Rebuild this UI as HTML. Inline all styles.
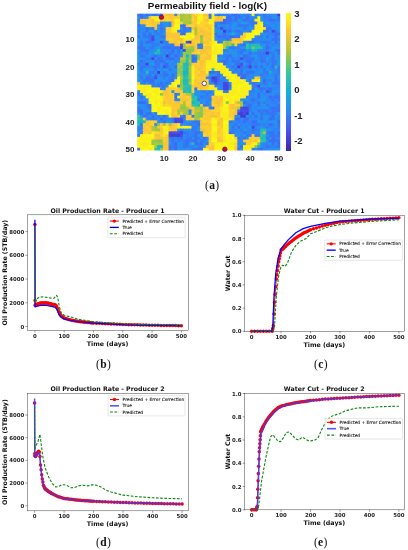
<!DOCTYPE html>
<html><head><meta charset="utf-8"><title>Figure</title>
<style>
html,body{margin:0;padding:0;background:#fff}
svg{display:block}
.tk{font:bold 5.4px "DejaVu Sans","Liberation Sans",sans-serif;fill:#222}
.ti{font:bold 6.25px "DejaVu Sans","Liberation Sans",sans-serif;fill:#111}
.xl{font:bold 6.3px "DejaVu Sans","Liberation Sans",sans-serif;fill:#111}
.lg{font:4.39px "DejaVu Sans","Liberation Sans",sans-serif;fill:#222;stroke:#222;stroke-width:0.1px}
.hk{font:bold 8.0px "Liberation Sans",sans-serif;fill:#222}
.ck{font:bold 9.5px "Liberation Sans",sans-serif;fill:#222}
.ht{font:bold 9.9px "Liberation Sans",sans-serif;fill:#111}
.cap{font:11.5px "Liberation Serif",serif;fill:#111;letter-spacing:0.35px}
.cap tspan{font-weight:bold}
</style></head><body>
<svg width="408" height="550" viewBox="0 0 408 550">
<rect width="408" height="550" fill="#fff"/>
<text x="207.4" y="8.9" class="ht" text-anchor="middle">Permeability field - log(K)</text>
<defs><filter id="bl" x="0" y="0" width="1" height="1"><feGaussianBlur stdDeviation="0.55"/></filter></defs>
<clipPath id="hc"><rect x="137.1" y="13.4" width="143.1" height="137.2"/></clipPath>
<g clip-path="url(#hc)"><g filter="url(#bl)">
<rect x="137.10" y="13.40" width="3.86" height="3.74" fill="#347af6"/>
<rect x="139.96" y="13.40" width="3.86" height="3.74" fill="#3871f6"/>
<rect x="142.82" y="13.40" width="3.86" height="3.74" fill="#2b8af4"/>
<rect x="145.69" y="13.40" width="3.86" height="3.74" fill="#3a6df6"/>
<rect x="148.55" y="13.40" width="3.86" height="3.74" fill="#2e85f7"/>
<rect x="151.41" y="13.40" width="3.86" height="3.74" fill="#337cf6"/>
<rect x="154.27" y="13.40" width="3.86" height="3.74" fill="#3b6df6"/>
<rect x="157.13" y="13.40" width="3.86" height="3.74" fill="#2f84f7"/>
<rect x="160.00" y="13.40" width="3.86" height="3.74" fill="#3b6bf6"/>
<rect x="162.86" y="13.40" width="3.86" height="3.74" fill="#fec636"/>
<rect x="165.72" y="13.40" width="3.86" height="3.74" fill="#f3c438"/>
<rect x="168.58" y="13.40" width="3.86" height="3.74" fill="#f4c438"/>
<rect x="171.44" y="13.40" width="3.86" height="3.74" fill="#fec636"/>
<rect x="174.31" y="13.40" width="3.86" height="3.74" fill="#2692ee"/>
<rect x="177.17" y="13.40" width="3.86" height="3.74" fill="#f6c438"/>
<rect x="180.03" y="13.40" width="3.86" height="3.74" fill="#8dc751"/>
<rect x="182.89" y="13.40" width="3.86" height="3.74" fill="#acc739"/>
<rect x="185.75" y="13.40" width="3.86" height="3.74" fill="#bdc639"/>
<rect x="188.62" y="13.40" width="3.86" height="3.74" fill="#a8c73b"/>
<rect x="191.48" y="13.40" width="3.86" height="3.74" fill="#fec537"/>
<rect x="194.34" y="13.40" width="3.86" height="3.74" fill="#fdd62c"/>
<rect x="197.20" y="13.40" width="3.86" height="3.74" fill="#fbe821"/>
<rect x="200.06" y="13.40" width="3.86" height="3.74" fill="#f9f816"/>
<rect x="202.93" y="13.40" width="3.86" height="3.74" fill="#fdc338"/>
<rect x="205.79" y="13.40" width="3.86" height="3.74" fill="#f6c438"/>
<rect x="208.65" y="13.40" width="3.86" height="3.74" fill="#3970f6"/>
<rect x="211.51" y="13.40" width="3.86" height="3.74" fill="#faed1d"/>
<rect x="214.37" y="13.40" width="3.86" height="3.74" fill="#2791ef"/>
<rect x="217.24" y="13.40" width="3.86" height="3.74" fill="#3773f6"/>
<rect x="220.10" y="13.40" width="3.86" height="3.74" fill="#2d88f6"/>
<rect x="222.96" y="13.40" width="3.86" height="3.74" fill="#2c8af5"/>
<rect x="225.82" y="13.40" width="3.86" height="3.74" fill="#337df6"/>
<rect x="228.68" y="13.40" width="3.86" height="3.74" fill="#2e86f7"/>
<rect x="231.55" y="13.40" width="3.86" height="3.74" fill="#3b6df6"/>
<rect x="234.41" y="13.40" width="3.86" height="3.74" fill="#3b6df6"/>
<rect x="237.27" y="13.40" width="3.86" height="3.74" fill="#3774f6"/>
<rect x="240.13" y="13.40" width="3.86" height="3.74" fill="#2a8cf3"/>
<rect x="242.99" y="13.40" width="3.86" height="3.74" fill="#3180f7"/>
<rect x="245.86" y="13.40" width="3.86" height="3.74" fill="#347af6"/>
<rect x="248.72" y="13.40" width="3.86" height="3.74" fill="#2d88f6"/>
<rect x="251.58" y="13.40" width="3.86" height="3.74" fill="#faf01c"/>
<rect x="254.44" y="13.40" width="3.86" height="3.74" fill="#3479f6"/>
<rect x="257.30" y="13.40" width="3.86" height="3.74" fill="#2790ef"/>
<rect x="260.17" y="13.40" width="3.86" height="3.74" fill="#2a8cf3"/>
<rect x="263.03" y="13.40" width="3.86" height="3.74" fill="#3676f6"/>
<rect x="265.89" y="13.40" width="3.86" height="3.74" fill="#2d87f7"/>
<rect x="268.75" y="13.40" width="3.86" height="3.74" fill="#2f85f7"/>
<rect x="271.61" y="13.40" width="3.86" height="3.74" fill="#2594ed"/>
<rect x="274.48" y="13.40" width="3.86" height="3.74" fill="#298ef2"/>
<rect x="277.34" y="13.40" width="3.86" height="3.74" fill="#4440d5"/>
<rect x="137.10" y="16.14" width="3.86" height="3.74" fill="#2298e9"/>
<rect x="139.96" y="16.14" width="3.86" height="3.74" fill="#3970f6"/>
<rect x="142.82" y="16.14" width="3.86" height="3.74" fill="#317ff7"/>
<rect x="145.69" y="16.14" width="3.86" height="3.74" fill="#288ff1"/>
<rect x="148.55" y="16.14" width="3.86" height="3.74" fill="#f7c438"/>
<rect x="151.41" y="16.14" width="3.86" height="3.74" fill="#faf11b"/>
<rect x="154.27" y="16.14" width="3.86" height="3.74" fill="#fbe721"/>
<rect x="157.13" y="16.14" width="3.86" height="3.74" fill="#faf419"/>
<rect x="160.00" y="16.14" width="3.86" height="3.74" fill="#fdd030"/>
<rect x="162.86" y="16.14" width="3.86" height="3.74" fill="#feca33"/>
<rect x="165.72" y="16.14" width="3.86" height="3.74" fill="#fdd32e"/>
<rect x="168.58" y="16.14" width="3.86" height="3.74" fill="#fec338"/>
<rect x="171.44" y="16.14" width="3.86" height="3.74" fill="#fdce31"/>
<rect x="174.31" y="16.14" width="3.86" height="3.74" fill="#fecb33"/>
<rect x="177.17" y="16.14" width="3.86" height="3.74" fill="#fecb33"/>
<rect x="180.03" y="16.14" width="3.86" height="3.74" fill="#9fc743"/>
<rect x="182.89" y="16.14" width="3.86" height="3.74" fill="#b7c639"/>
<rect x="185.75" y="16.14" width="3.86" height="3.74" fill="#bdc639"/>
<rect x="188.62" y="16.14" width="3.86" height="3.74" fill="#a0c742"/>
<rect x="191.48" y="16.14" width="3.86" height="3.74" fill="#fdcd32"/>
<rect x="194.34" y="16.14" width="3.86" height="3.74" fill="#f3c438"/>
<rect x="197.20" y="16.14" width="3.86" height="3.74" fill="#faf518"/>
<rect x="200.06" y="16.14" width="3.86" height="3.74" fill="#faf419"/>
<rect x="202.93" y="16.14" width="3.86" height="3.74" fill="#fcd72c"/>
<rect x="205.79" y="16.14" width="3.86" height="3.74" fill="#fdd22f"/>
<rect x="208.65" y="16.14" width="3.86" height="3.74" fill="#3578f6"/>
<rect x="211.51" y="16.14" width="3.86" height="3.74" fill="#faee1c"/>
<rect x="214.37" y="16.14" width="3.86" height="3.74" fill="#fdcd32"/>
<rect x="217.24" y="16.14" width="3.86" height="3.74" fill="#f1c438"/>
<rect x="220.10" y="16.14" width="3.86" height="3.74" fill="#fec736"/>
<rect x="222.96" y="16.14" width="3.86" height="3.74" fill="#fbea1f"/>
<rect x="225.82" y="16.14" width="3.86" height="3.74" fill="#3970f6"/>
<rect x="228.68" y="16.14" width="3.86" height="3.74" fill="#3b6df6"/>
<rect x="231.55" y="16.14" width="3.86" height="3.74" fill="#288ff0"/>
<rect x="234.41" y="16.14" width="3.86" height="3.74" fill="#3970f6"/>
<rect x="237.27" y="16.14" width="3.86" height="3.74" fill="#3676f6"/>
<rect x="240.13" y="16.14" width="3.86" height="3.74" fill="#327ef6"/>
<rect x="242.99" y="16.14" width="3.86" height="3.74" fill="#2594ed"/>
<rect x="245.86" y="16.14" width="3.86" height="3.74" fill="#3a6ef6"/>
<rect x="248.72" y="16.14" width="3.86" height="3.74" fill="#3181f7"/>
<rect x="251.58" y="16.14" width="3.86" height="3.74" fill="#2e86f7"/>
<rect x="254.44" y="16.14" width="3.86" height="3.74" fill="#2594ed"/>
<rect x="257.30" y="16.14" width="3.86" height="3.74" fill="#f9f717"/>
<rect x="260.17" y="16.14" width="3.86" height="3.74" fill="#2593ed"/>
<rect x="263.03" y="16.14" width="3.86" height="3.74" fill="#3578f6"/>
<rect x="265.89" y="16.14" width="3.86" height="3.74" fill="#317ff7"/>
<rect x="268.75" y="16.14" width="3.86" height="3.74" fill="#337cf6"/>
<rect x="271.61" y="16.14" width="3.86" height="3.74" fill="#2594ed"/>
<rect x="274.48" y="16.14" width="3.86" height="3.74" fill="#2397ea"/>
<rect x="277.34" y="16.14" width="3.86" height="3.74" fill="#3871f6"/>
<rect x="137.10" y="18.89" width="3.86" height="3.74" fill="#3873f6"/>
<rect x="139.96" y="18.89" width="3.86" height="3.74" fill="#fac338"/>
<rect x="142.82" y="18.89" width="3.86" height="3.74" fill="#fac338"/>
<rect x="145.69" y="18.89" width="3.86" height="3.74" fill="#fec835"/>
<rect x="148.55" y="18.89" width="3.86" height="3.74" fill="#fecb33"/>
<rect x="151.41" y="18.89" width="3.86" height="3.74" fill="#fcc338"/>
<rect x="154.27" y="18.89" width="3.86" height="3.74" fill="#fbe721"/>
<rect x="157.13" y="18.89" width="3.86" height="3.74" fill="#faef1c"/>
<rect x="160.00" y="18.89" width="3.86" height="3.74" fill="#fec537"/>
<rect x="162.86" y="18.89" width="3.86" height="3.74" fill="#feca34"/>
<rect x="165.72" y="18.89" width="3.86" height="3.74" fill="#fdd52c"/>
<rect x="168.58" y="18.89" width="3.86" height="3.74" fill="#fdce31"/>
<rect x="171.44" y="18.89" width="3.86" height="3.74" fill="#fec935"/>
<rect x="174.31" y="18.89" width="3.86" height="3.74" fill="#faf319"/>
<rect x="177.17" y="18.89" width="3.86" height="3.74" fill="#faf419"/>
<rect x="180.03" y="18.89" width="3.86" height="3.74" fill="#81c75b"/>
<rect x="182.89" y="18.89" width="3.86" height="3.74" fill="#bac639"/>
<rect x="185.75" y="18.89" width="3.86" height="3.74" fill="#b4c639"/>
<rect x="188.62" y="18.89" width="3.86" height="3.74" fill="#b9c639"/>
<rect x="191.48" y="18.89" width="3.86" height="3.74" fill="#fdd12f"/>
<rect x="194.34" y="18.89" width="3.86" height="3.74" fill="#fec537"/>
<rect x="197.20" y="18.89" width="3.86" height="3.74" fill="#faef1c"/>
<rect x="200.06" y="18.89" width="3.86" height="3.74" fill="#fbe920"/>
<rect x="202.93" y="18.89" width="3.86" height="3.74" fill="#fdcc32"/>
<rect x="205.79" y="18.89" width="3.86" height="3.74" fill="#f3c438"/>
<rect x="208.65" y="18.89" width="3.86" height="3.74" fill="#fbe821"/>
<rect x="211.51" y="18.89" width="3.86" height="3.74" fill="#fbeb1f"/>
<rect x="214.37" y="18.89" width="3.86" height="3.74" fill="#f7c438"/>
<rect x="217.24" y="18.89" width="3.86" height="3.74" fill="#fec438"/>
<rect x="220.10" y="18.89" width="3.86" height="3.74" fill="#f3c438"/>
<rect x="222.96" y="18.89" width="3.86" height="3.74" fill="#3c6af5"/>
<rect x="225.82" y="18.89" width="3.86" height="3.74" fill="#3871f6"/>
<rect x="228.68" y="18.89" width="3.86" height="3.74" fill="#3a6ff6"/>
<rect x="231.55" y="18.89" width="3.86" height="3.74" fill="#337cf6"/>
<rect x="234.41" y="18.89" width="3.86" height="3.74" fill="#3b6bf5"/>
<rect x="237.27" y="18.89" width="3.86" height="3.74" fill="#2594ed"/>
<rect x="240.13" y="18.89" width="3.86" height="3.74" fill="#2c89f5"/>
<rect x="242.99" y="18.89" width="3.86" height="3.74" fill="#3871f6"/>
<rect x="245.86" y="18.89" width="3.86" height="3.74" fill="#3677f6"/>
<rect x="248.72" y="18.89" width="3.86" height="3.74" fill="#337cf6"/>
<rect x="251.58" y="18.89" width="3.86" height="3.74" fill="#337cf6"/>
<rect x="254.44" y="18.89" width="3.86" height="3.74" fill="#fbe920"/>
<rect x="257.30" y="18.89" width="3.86" height="3.74" fill="#f9f816"/>
<rect x="260.17" y="18.89" width="3.86" height="3.74" fill="#2299e9"/>
<rect x="263.03" y="18.89" width="3.86" height="3.74" fill="#3082f7"/>
<rect x="265.89" y="18.89" width="3.86" height="3.74" fill="#3083f7"/>
<rect x="268.75" y="18.89" width="3.86" height="3.74" fill="#3a6ef6"/>
<rect x="271.61" y="18.89" width="3.86" height="3.74" fill="#396ff6"/>
<rect x="274.48" y="18.89" width="3.86" height="3.74" fill="#337bf6"/>
<rect x="277.34" y="18.89" width="3.86" height="3.74" fill="#3577f6"/>
<rect x="137.10" y="21.63" width="3.86" height="3.74" fill="#2692ee"/>
<rect x="139.96" y="21.63" width="3.86" height="3.74" fill="#f7c438"/>
<rect x="142.82" y="21.63" width="3.86" height="3.74" fill="#f1c438"/>
<rect x="145.69" y="21.63" width="3.86" height="3.74" fill="#fdd52d"/>
<rect x="148.55" y="21.63" width="3.86" height="3.74" fill="#fec934"/>
<rect x="151.41" y="21.63" width="3.86" height="3.74" fill="#f7c438"/>
<rect x="154.27" y="21.63" width="3.86" height="3.74" fill="#feca34"/>
<rect x="157.13" y="21.63" width="3.86" height="3.74" fill="#f1c438"/>
<rect x="160.00" y="21.63" width="3.86" height="3.74" fill="#2f85f7"/>
<rect x="162.86" y="21.63" width="3.86" height="3.74" fill="#2298ea"/>
<rect x="165.72" y="21.63" width="3.86" height="3.74" fill="#2593ed"/>
<rect x="168.58" y="21.63" width="3.86" height="3.74" fill="#2a8cf3"/>
<rect x="171.44" y="21.63" width="3.86" height="3.74" fill="#fbc338"/>
<rect x="174.31" y="21.63" width="3.86" height="3.74" fill="#faee1d"/>
<rect x="177.17" y="21.63" width="3.86" height="3.74" fill="#fbea1f"/>
<rect x="180.03" y="21.63" width="3.86" height="3.74" fill="#fdd030"/>
<rect x="182.89" y="21.63" width="3.86" height="3.74" fill="#a5c73e"/>
<rect x="185.75" y="21.63" width="3.86" height="3.74" fill="#b4c639"/>
<rect x="188.62" y="21.63" width="3.86" height="3.74" fill="#95c74b"/>
<rect x="191.48" y="21.63" width="3.86" height="3.74" fill="#fac338"/>
<rect x="194.34" y="21.63" width="3.86" height="3.74" fill="#fdd12f"/>
<rect x="197.20" y="21.63" width="3.86" height="3.74" fill="#f9fb15"/>
<rect x="200.06" y="21.63" width="3.86" height="3.74" fill="#fdd32e"/>
<rect x="202.93" y="21.63" width="3.86" height="3.74" fill="#fdd12f"/>
<rect x="205.79" y="21.63" width="3.86" height="3.74" fill="#fdd22f"/>
<rect x="208.65" y="21.63" width="3.86" height="3.74" fill="#faf618"/>
<rect x="211.51" y="21.63" width="3.86" height="3.74" fill="#fbeb1f"/>
<rect x="214.37" y="21.63" width="3.86" height="3.74" fill="#2f84f7"/>
<rect x="217.24" y="21.63" width="3.86" height="3.74" fill="#337cf6"/>
<rect x="220.10" y="21.63" width="3.86" height="3.74" fill="#3b6bf5"/>
<rect x="222.96" y="21.63" width="3.86" height="3.74" fill="#3b6bf5"/>
<rect x="225.82" y="21.63" width="3.86" height="3.74" fill="#3578f6"/>
<rect x="228.68" y="21.63" width="3.86" height="3.74" fill="#3577f6"/>
<rect x="231.55" y="21.63" width="3.86" height="3.74" fill="#2a8cf3"/>
<rect x="234.41" y="21.63" width="3.86" height="3.74" fill="#2397ea"/>
<rect x="237.27" y="21.63" width="3.86" height="3.74" fill="#3181f7"/>
<rect x="240.13" y="21.63" width="3.86" height="3.74" fill="#2396eb"/>
<rect x="242.99" y="21.63" width="3.86" height="3.74" fill="#2299e9"/>
<rect x="245.86" y="21.63" width="3.86" height="3.74" fill="#2397ea"/>
<rect x="248.72" y="21.63" width="3.86" height="3.74" fill="#337cf6"/>
<rect x="251.58" y="21.63" width="3.86" height="3.74" fill="#3675f6"/>
<rect x="254.44" y="21.63" width="3.86" height="3.74" fill="#3675f6"/>
<rect x="257.30" y="21.63" width="3.86" height="3.74" fill="#fbeb1f"/>
<rect x="260.17" y="21.63" width="3.86" height="3.74" fill="#fbeb1f"/>
<rect x="263.03" y="21.63" width="3.86" height="3.74" fill="#2c89f5"/>
<rect x="265.89" y="21.63" width="3.86" height="3.74" fill="#2495ec"/>
<rect x="268.75" y="21.63" width="3.86" height="3.74" fill="#2692ee"/>
<rect x="271.61" y="21.63" width="3.86" height="3.74" fill="#3082f7"/>
<rect x="274.48" y="21.63" width="3.86" height="3.74" fill="#2b8bf4"/>
<rect x="277.34" y="21.63" width="3.86" height="3.74" fill="#2791ef"/>
<rect x="137.10" y="24.38" width="3.86" height="3.74" fill="#3a6ef6"/>
<rect x="139.96" y="24.38" width="3.86" height="3.74" fill="#2b8bf4"/>
<rect x="142.82" y="24.38" width="3.86" height="3.74" fill="#2495ec"/>
<rect x="145.69" y="24.38" width="3.86" height="3.74" fill="#fdd130"/>
<rect x="148.55" y="24.38" width="3.86" height="3.74" fill="#fdd030"/>
<rect x="151.41" y="24.38" width="3.86" height="3.74" fill="#fec835"/>
<rect x="154.27" y="24.38" width="3.86" height="3.74" fill="#f8c438"/>
<rect x="157.13" y="24.38" width="3.86" height="3.74" fill="#2790f0"/>
<rect x="160.00" y="24.38" width="3.86" height="3.74" fill="#347bf6"/>
<rect x="162.86" y="24.38" width="3.86" height="3.74" fill="#2791ef"/>
<rect x="165.72" y="24.38" width="3.86" height="3.74" fill="#2298ea"/>
<rect x="168.58" y="24.38" width="3.86" height="3.74" fill="#327ef6"/>
<rect x="171.44" y="24.38" width="3.86" height="3.74" fill="#fec637"/>
<rect x="174.31" y="24.38" width="3.86" height="3.74" fill="#f9fa15"/>
<rect x="177.17" y="24.38" width="3.86" height="3.74" fill="#faf518"/>
<rect x="180.03" y="24.38" width="3.86" height="3.74" fill="#3872f6"/>
<rect x="182.89" y="24.38" width="3.86" height="3.74" fill="#3970f6"/>
<rect x="185.75" y="24.38" width="3.86" height="3.74" fill="#f7c438"/>
<rect x="188.62" y="24.38" width="3.86" height="3.74" fill="#fdd42d"/>
<rect x="191.48" y="24.38" width="3.86" height="3.74" fill="#fdd12f"/>
<rect x="194.34" y="24.38" width="3.86" height="3.74" fill="#f7c438"/>
<rect x="197.20" y="24.38" width="3.86" height="3.74" fill="#fdd22f"/>
<rect x="200.06" y="24.38" width="3.86" height="3.74" fill="#fcd62c"/>
<rect x="202.93" y="24.38" width="3.86" height="3.74" fill="#fdcd32"/>
<rect x="205.79" y="24.38" width="3.86" height="3.74" fill="#fec438"/>
<rect x="208.65" y="24.38" width="3.86" height="3.74" fill="#feca34"/>
<rect x="211.51" y="24.38" width="3.86" height="3.74" fill="#fbe920"/>
<rect x="214.37" y="24.38" width="3.86" height="3.74" fill="#3c6af5"/>
<rect x="217.24" y="24.38" width="3.86" height="3.74" fill="#2298ea"/>
<rect x="220.10" y="24.38" width="3.86" height="3.74" fill="#2b8af4"/>
<rect x="222.96" y="24.38" width="3.86" height="3.74" fill="#2f85f7"/>
<rect x="225.82" y="24.38" width="3.86" height="3.74" fill="#2396eb"/>
<rect x="228.68" y="24.38" width="3.86" height="3.74" fill="#3180f7"/>
<rect x="231.55" y="24.38" width="3.86" height="3.74" fill="#2594ed"/>
<rect x="234.41" y="24.38" width="3.86" height="3.74" fill="#2692ee"/>
<rect x="237.27" y="24.38" width="3.86" height="3.74" fill="#3774f6"/>
<rect x="240.13" y="24.38" width="3.86" height="3.74" fill="#3677f6"/>
<rect x="242.99" y="24.38" width="3.86" height="3.74" fill="#3579f6"/>
<rect x="245.86" y="24.38" width="3.86" height="3.74" fill="#3676f6"/>
<rect x="248.72" y="24.38" width="3.86" height="3.74" fill="#2d88f6"/>
<rect x="251.58" y="24.38" width="3.86" height="3.74" fill="#3577f6"/>
<rect x="254.44" y="24.38" width="3.86" height="3.74" fill="#faef1c"/>
<rect x="257.30" y="24.38" width="3.86" height="3.74" fill="#fbe920"/>
<rect x="260.17" y="24.38" width="3.86" height="3.74" fill="#f9f916"/>
<rect x="263.03" y="24.38" width="3.86" height="3.74" fill="#337cf6"/>
<rect x="265.89" y="24.38" width="3.86" height="3.74" fill="#3081f7"/>
<rect x="268.75" y="24.38" width="3.86" height="3.74" fill="#2d88f6"/>
<rect x="271.61" y="24.38" width="3.86" height="3.74" fill="#2495ec"/>
<rect x="274.48" y="24.38" width="3.86" height="3.74" fill="#317ff7"/>
<rect x="277.34" y="24.38" width="3.86" height="3.74" fill="#2496eb"/>
<rect x="137.10" y="27.12" width="3.86" height="3.74" fill="#2f84f7"/>
<rect x="139.96" y="27.12" width="3.86" height="3.74" fill="#2e85f7"/>
<rect x="142.82" y="27.12" width="3.86" height="3.74" fill="#2f85f7"/>
<rect x="145.69" y="27.12" width="3.86" height="3.74" fill="#3c6af5"/>
<rect x="148.55" y="27.12" width="3.86" height="3.74" fill="#3180f7"/>
<rect x="151.41" y="27.12" width="3.86" height="3.74" fill="#3773f6"/>
<rect x="154.27" y="27.12" width="3.86" height="3.74" fill="#f0c438"/>
<rect x="157.13" y="27.12" width="3.86" height="3.74" fill="#2791ef"/>
<rect x="160.00" y="27.12" width="3.86" height="3.74" fill="#3872f6"/>
<rect x="162.86" y="27.12" width="3.86" height="3.74" fill="#3082f7"/>
<rect x="165.72" y="27.12" width="3.86" height="3.74" fill="#fdcf31"/>
<rect x="168.58" y="27.12" width="3.86" height="3.74" fill="#feca34"/>
<rect x="171.44" y="27.12" width="3.86" height="3.74" fill="#faed1d"/>
<rect x="174.31" y="27.12" width="3.86" height="3.74" fill="#faf11b"/>
<rect x="177.17" y="27.12" width="3.86" height="3.74" fill="#faf21a"/>
<rect x="180.03" y="27.12" width="3.86" height="3.74" fill="#2890f0"/>
<rect x="182.89" y="27.12" width="3.86" height="3.74" fill="#396ff6"/>
<rect x="185.75" y="27.12" width="3.86" height="3.74" fill="#2e87f7"/>
<rect x="188.62" y="27.12" width="3.86" height="3.74" fill="#3676f6"/>
<rect x="191.48" y="27.12" width="3.86" height="3.74" fill="#fcc338"/>
<rect x="194.34" y="27.12" width="3.86" height="3.74" fill="#b4c639"/>
<rect x="197.20" y="27.12" width="3.86" height="3.74" fill="#fec935"/>
<rect x="200.06" y="27.12" width="3.86" height="3.74" fill="#feca34"/>
<rect x="202.93" y="27.12" width="3.86" height="3.74" fill="#fdd030"/>
<rect x="205.79" y="27.12" width="3.86" height="3.74" fill="#fdd42d"/>
<rect x="208.65" y="27.12" width="3.86" height="3.74" fill="#fec736"/>
<rect x="211.51" y="27.12" width="3.86" height="3.74" fill="#faf31a"/>
<rect x="214.37" y="27.12" width="3.86" height="3.74" fill="#2f84f7"/>
<rect x="217.24" y="27.12" width="3.86" height="3.74" fill="#2f84f7"/>
<rect x="220.10" y="27.12" width="3.86" height="3.74" fill="#464ae5"/>
<rect x="222.96" y="27.12" width="3.86" height="3.74" fill="#3081f7"/>
<rect x="225.82" y="27.12" width="3.86" height="3.74" fill="#2e85f7"/>
<rect x="228.68" y="27.12" width="3.86" height="3.74" fill="#3082f7"/>
<rect x="231.55" y="27.12" width="3.86" height="3.74" fill="#2397eb"/>
<rect x="234.41" y="27.12" width="3.86" height="3.74" fill="#2a8cf3"/>
<rect x="237.27" y="27.12" width="3.86" height="3.74" fill="#2594ed"/>
<rect x="240.13" y="27.12" width="3.86" height="3.74" fill="#2397eb"/>
<rect x="242.99" y="27.12" width="3.86" height="3.74" fill="#3577f6"/>
<rect x="245.86" y="27.12" width="3.86" height="3.74" fill="#2e87f7"/>
<rect x="248.72" y="27.12" width="3.86" height="3.74" fill="#2397eb"/>
<rect x="251.58" y="27.12" width="3.86" height="3.74" fill="#2692ee"/>
<rect x="254.44" y="27.12" width="3.86" height="3.74" fill="#fbe920"/>
<rect x="257.30" y="27.12" width="3.86" height="3.74" fill="#fbe920"/>
<rect x="260.17" y="27.12" width="3.86" height="3.74" fill="#faf01c"/>
<rect x="263.03" y="27.12" width="3.86" height="3.74" fill="#fbe821"/>
<rect x="265.89" y="27.12" width="3.86" height="3.74" fill="#3676f6"/>
<rect x="268.75" y="27.12" width="3.86" height="3.74" fill="#3a6df6"/>
<rect x="271.61" y="27.12" width="3.86" height="3.74" fill="#2b8bf4"/>
<rect x="274.48" y="27.12" width="3.86" height="3.74" fill="#2890f0"/>
<rect x="277.34" y="27.12" width="3.86" height="3.74" fill="#2495ec"/>
<rect x="137.10" y="29.86" width="3.86" height="3.74" fill="#3872f6"/>
<rect x="139.96" y="29.86" width="3.86" height="3.74" fill="#298df2"/>
<rect x="142.82" y="29.86" width="3.86" height="3.74" fill="#2b8bf4"/>
<rect x="145.69" y="29.86" width="3.86" height="3.74" fill="#3871f6"/>
<rect x="148.55" y="29.86" width="3.86" height="3.74" fill="#2594ed"/>
<rect x="151.41" y="29.86" width="3.86" height="3.74" fill="#2298ea"/>
<rect x="154.27" y="29.86" width="3.86" height="3.74" fill="#3675f6"/>
<rect x="157.13" y="29.86" width="3.86" height="3.74" fill="#2397ea"/>
<rect x="160.00" y="29.86" width="3.86" height="3.74" fill="#327ef6"/>
<rect x="162.86" y="29.86" width="3.86" height="3.74" fill="#3083f7"/>
<rect x="165.72" y="29.86" width="3.86" height="3.74" fill="#fcd72c"/>
<rect x="168.58" y="29.86" width="3.86" height="3.74" fill="#fdd22f"/>
<rect x="171.44" y="29.86" width="3.86" height="3.74" fill="#fbea1f"/>
<rect x="174.31" y="29.86" width="3.86" height="3.74" fill="#faef1c"/>
<rect x="177.17" y="29.86" width="3.86" height="3.74" fill="#2f84f7"/>
<rect x="180.03" y="29.86" width="3.86" height="3.74" fill="#337bf6"/>
<rect x="182.89" y="29.86" width="3.86" height="3.74" fill="#3774f6"/>
<rect x="185.75" y="29.86" width="3.86" height="3.74" fill="#347af6"/>
<rect x="188.62" y="29.86" width="3.86" height="3.74" fill="#298df2"/>
<rect x="191.48" y="29.86" width="3.86" height="3.74" fill="#fbe721"/>
<rect x="194.34" y="29.86" width="3.86" height="3.74" fill="#a6c73d"/>
<rect x="197.20" y="29.86" width="3.86" height="3.74" fill="#fec736"/>
<rect x="200.06" y="29.86" width="3.86" height="3.74" fill="#f1c438"/>
<rect x="202.93" y="29.86" width="3.86" height="3.74" fill="#fec338"/>
<rect x="205.79" y="29.86" width="3.86" height="3.74" fill="#fdcc33"/>
<rect x="208.65" y="29.86" width="3.86" height="3.74" fill="#fec935"/>
<rect x="211.51" y="29.86" width="3.86" height="3.74" fill="#fbe821"/>
<rect x="214.37" y="29.86" width="3.86" height="3.74" fill="#2298e9"/>
<rect x="217.24" y="29.86" width="3.86" height="3.74" fill="#2790f0"/>
<rect x="220.10" y="29.86" width="3.86" height="3.74" fill="#2298ea"/>
<rect x="222.96" y="29.86" width="3.86" height="3.74" fill="#433cce"/>
<rect x="225.82" y="29.86" width="3.86" height="3.74" fill="#3577f6"/>
<rect x="228.68" y="29.86" width="3.86" height="3.74" fill="#3b6cf6"/>
<rect x="231.55" y="29.86" width="3.86" height="3.74" fill="#2890f0"/>
<rect x="234.41" y="29.86" width="3.86" height="3.74" fill="#3578f6"/>
<rect x="237.27" y="29.86" width="3.86" height="3.74" fill="#3970f6"/>
<rect x="240.13" y="29.86" width="3.86" height="3.74" fill="#317ff7"/>
<rect x="242.99" y="29.86" width="3.86" height="3.74" fill="#2495ec"/>
<rect x="245.86" y="29.86" width="3.86" height="3.74" fill="#2791ef"/>
<rect x="248.72" y="29.86" width="3.86" height="3.74" fill="#3577f6"/>
<rect x="251.58" y="29.86" width="3.86" height="3.74" fill="#fbea20"/>
<rect x="254.44" y="29.86" width="3.86" height="3.74" fill="#f9f916"/>
<rect x="257.30" y="29.86" width="3.86" height="3.74" fill="#faf21a"/>
<rect x="260.17" y="29.86" width="3.86" height="3.74" fill="#faf518"/>
<rect x="263.03" y="29.86" width="3.86" height="3.74" fill="#3a6ef6"/>
<rect x="265.89" y="29.86" width="3.86" height="3.74" fill="#3b6df6"/>
<rect x="268.75" y="29.86" width="3.86" height="3.74" fill="#2a8cf3"/>
<rect x="271.61" y="29.86" width="3.86" height="3.74" fill="#4443db"/>
<rect x="274.48" y="29.86" width="3.86" height="3.74" fill="#3a6df6"/>
<rect x="277.34" y="29.86" width="3.86" height="3.74" fill="#2396eb"/>
<rect x="137.10" y="32.61" width="3.86" height="3.74" fill="#2c8af5"/>
<rect x="139.96" y="32.61" width="3.86" height="3.74" fill="#2791ef"/>
<rect x="142.82" y="32.61" width="3.86" height="3.74" fill="#3a6ef6"/>
<rect x="145.69" y="32.61" width="3.86" height="3.74" fill="#2693ed"/>
<rect x="148.55" y="32.61" width="3.86" height="3.74" fill="#3a6df6"/>
<rect x="151.41" y="32.61" width="3.86" height="3.74" fill="#2593ed"/>
<rect x="154.27" y="32.61" width="3.86" height="3.74" fill="#3081f7"/>
<rect x="157.13" y="32.61" width="3.86" height="3.74" fill="#337bf6"/>
<rect x="160.00" y="32.61" width="3.86" height="3.74" fill="#2e86f7"/>
<rect x="162.86" y="32.61" width="3.86" height="3.74" fill="#2496eb"/>
<rect x="165.72" y="32.61" width="3.86" height="3.74" fill="#fcc338"/>
<rect x="168.58" y="32.61" width="3.86" height="3.74" fill="#f6c438"/>
<rect x="171.44" y="32.61" width="3.86" height="3.74" fill="#fec934"/>
<rect x="174.31" y="32.61" width="3.86" height="3.74" fill="#fbc338"/>
<rect x="177.17" y="32.61" width="3.86" height="3.74" fill="#f5c438"/>
<rect x="180.03" y="32.61" width="3.86" height="3.74" fill="#3872f6"/>
<rect x="182.89" y="32.61" width="3.86" height="3.74" fill="#3b6cf6"/>
<rect x="185.75" y="32.61" width="3.86" height="3.74" fill="#fbeb1f"/>
<rect x="188.62" y="32.61" width="3.86" height="3.74" fill="#faed1d"/>
<rect x="191.48" y="32.61" width="3.86" height="3.74" fill="#faed1e"/>
<rect x="194.34" y="32.61" width="3.86" height="3.74" fill="#b3c639"/>
<rect x="197.20" y="32.61" width="3.86" height="3.74" fill="#fdc338"/>
<rect x="200.06" y="32.61" width="3.86" height="3.74" fill="#fec835"/>
<rect x="202.93" y="32.61" width="3.86" height="3.74" fill="#f8c438"/>
<rect x="205.79" y="32.61" width="3.86" height="3.74" fill="#fec438"/>
<rect x="208.65" y="32.61" width="3.86" height="3.74" fill="#f1c438"/>
<rect x="211.51" y="32.61" width="3.86" height="3.74" fill="#fbec1e"/>
<rect x="214.37" y="32.61" width="3.86" height="3.74" fill="#3c6af5"/>
<rect x="217.24" y="32.61" width="3.86" height="3.74" fill="#298ef1"/>
<rect x="220.10" y="32.61" width="3.86" height="3.74" fill="#2e86f7"/>
<rect x="222.96" y="32.61" width="3.86" height="3.74" fill="#3773f6"/>
<rect x="225.82" y="32.61" width="3.86" height="3.74" fill="#3082f7"/>
<rect x="228.68" y="32.61" width="3.86" height="3.74" fill="#2396eb"/>
<rect x="231.55" y="32.61" width="3.86" height="3.74" fill="#19b5ca"/>
<rect x="234.41" y="32.61" width="3.86" height="3.74" fill="#2791ef"/>
<rect x="237.27" y="32.61" width="3.86" height="3.74" fill="#3180f7"/>
<rect x="240.13" y="32.61" width="3.86" height="3.74" fill="#2f83f7"/>
<rect x="242.99" y="32.61" width="3.86" height="3.74" fill="#fdd22f"/>
<rect x="245.86" y="32.61" width="3.86" height="3.74" fill="#faef1c"/>
<rect x="248.72" y="32.61" width="3.86" height="3.74" fill="#faf11b"/>
<rect x="251.58" y="32.61" width="3.86" height="3.74" fill="#faf519"/>
<rect x="254.44" y="32.61" width="3.86" height="3.74" fill="#f9fb15"/>
<rect x="257.30" y="32.61" width="3.86" height="3.74" fill="#faee1d"/>
<rect x="260.17" y="32.61" width="3.86" height="3.74" fill="#2692ee"/>
<rect x="263.03" y="32.61" width="3.86" height="3.74" fill="#2a8df2"/>
<rect x="265.89" y="32.61" width="3.86" height="3.74" fill="#2c8af5"/>
<rect x="268.75" y="32.61" width="3.86" height="3.74" fill="#327ff6"/>
<rect x="271.61" y="32.61" width="3.86" height="3.74" fill="#337cf6"/>
<rect x="274.48" y="32.61" width="3.86" height="3.74" fill="#3b6cf6"/>
<rect x="277.34" y="32.61" width="3.86" height="3.74" fill="#3970f6"/>
<rect x="137.10" y="35.35" width="3.86" height="3.74" fill="#3a6df6"/>
<rect x="139.96" y="35.35" width="3.86" height="3.74" fill="#298ef1"/>
<rect x="142.82" y="35.35" width="3.86" height="3.74" fill="#3677f6"/>
<rect x="145.69" y="35.35" width="3.86" height="3.74" fill="#3872f6"/>
<rect x="148.55" y="35.35" width="3.86" height="3.74" fill="#3a6ef6"/>
<rect x="151.41" y="35.35" width="3.86" height="3.74" fill="#464deb"/>
<rect x="154.27" y="35.35" width="3.86" height="3.74" fill="#2594ed"/>
<rect x="157.13" y="35.35" width="3.86" height="3.74" fill="#2b8bf3"/>
<rect x="160.00" y="35.35" width="3.86" height="3.74" fill="#3578f6"/>
<rect x="162.86" y="35.35" width="3.86" height="3.74" fill="#3676f6"/>
<rect x="165.72" y="35.35" width="3.86" height="3.74" fill="#fdc338"/>
<rect x="168.58" y="35.35" width="3.86" height="3.74" fill="#fec736"/>
<rect x="171.44" y="35.35" width="3.86" height="3.74" fill="#f7c438"/>
<rect x="174.31" y="35.35" width="3.86" height="3.74" fill="#fec736"/>
<rect x="177.17" y="35.35" width="3.86" height="3.74" fill="#fcc338"/>
<rect x="180.03" y="35.35" width="3.86" height="3.74" fill="#f9fa15"/>
<rect x="182.89" y="35.35" width="3.86" height="3.74" fill="#f9fa15"/>
<rect x="185.75" y="35.35" width="3.86" height="3.74" fill="#faf21a"/>
<rect x="188.62" y="35.35" width="3.86" height="3.74" fill="#fbec1e"/>
<rect x="191.48" y="35.35" width="3.86" height="3.74" fill="#f9fa15"/>
<rect x="194.34" y="35.35" width="3.86" height="3.74" fill="#fec338"/>
<rect x="197.20" y="35.35" width="3.86" height="3.74" fill="#fec437"/>
<rect x="200.06" y="35.35" width="3.86" height="3.74" fill="#7dc75f"/>
<rect x="202.93" y="35.35" width="3.86" height="3.74" fill="#fec537"/>
<rect x="205.79" y="35.35" width="3.86" height="3.74" fill="#fec835"/>
<rect x="208.65" y="35.35" width="3.86" height="3.74" fill="#fec835"/>
<rect x="211.51" y="35.35" width="3.86" height="3.74" fill="#fbeb1f"/>
<rect x="214.37" y="35.35" width="3.86" height="3.74" fill="#2f84f7"/>
<rect x="217.24" y="35.35" width="3.86" height="3.74" fill="#3c6af5"/>
<rect x="220.10" y="35.35" width="3.86" height="3.74" fill="#3577f6"/>
<rect x="222.96" y="35.35" width="3.86" height="3.74" fill="#3a6ef6"/>
<rect x="225.82" y="35.35" width="3.86" height="3.74" fill="#327ef6"/>
<rect x="228.68" y="35.35" width="3.86" height="3.74" fill="#3b6cf6"/>
<rect x="231.55" y="35.35" width="3.86" height="3.74" fill="#3c6bf5"/>
<rect x="234.41" y="35.35" width="3.86" height="3.74" fill="#3479f6"/>
<rect x="237.27" y="35.35" width="3.86" height="3.74" fill="#3676f6"/>
<rect x="240.13" y="35.35" width="3.86" height="3.74" fill="#fecb33"/>
<rect x="242.99" y="35.35" width="3.86" height="3.74" fill="#fec934"/>
<rect x="245.86" y="35.35" width="3.86" height="3.74" fill="#faf618"/>
<rect x="248.72" y="35.35" width="3.86" height="3.74" fill="#faf419"/>
<rect x="251.58" y="35.35" width="3.86" height="3.74" fill="#faf518"/>
<rect x="254.44" y="35.35" width="3.86" height="3.74" fill="#2594ed"/>
<rect x="257.30" y="35.35" width="3.86" height="3.74" fill="#327ef6"/>
<rect x="260.17" y="35.35" width="3.86" height="3.74" fill="#347af6"/>
<rect x="263.03" y="35.35" width="3.86" height="3.74" fill="#2298e9"/>
<rect x="265.89" y="35.35" width="3.86" height="3.74" fill="#3871f6"/>
<rect x="268.75" y="35.35" width="3.86" height="3.74" fill="#298df2"/>
<rect x="271.61" y="35.35" width="3.86" height="3.74" fill="#2b8af4"/>
<rect x="274.48" y="35.35" width="3.86" height="3.74" fill="#3b6cf6"/>
<rect x="277.34" y="35.35" width="3.86" height="3.74" fill="#2692ee"/>
<rect x="137.10" y="38.10" width="3.86" height="3.74" fill="#2594ec"/>
<rect x="139.96" y="38.10" width="3.86" height="3.74" fill="#2c89f5"/>
<rect x="142.82" y="38.10" width="3.86" height="3.74" fill="#298ef1"/>
<rect x="145.69" y="38.10" width="3.86" height="3.74" fill="#2791ef"/>
<rect x="148.55" y="38.10" width="3.86" height="3.74" fill="#3971f6"/>
<rect x="151.41" y="38.10" width="3.86" height="3.74" fill="#4546df"/>
<rect x="154.27" y="38.10" width="3.86" height="3.74" fill="#2f84f7"/>
<rect x="157.13" y="38.10" width="3.86" height="3.74" fill="#2692ee"/>
<rect x="160.00" y="38.10" width="3.86" height="3.74" fill="#2791ef"/>
<rect x="162.86" y="38.10" width="3.86" height="3.74" fill="#2692ee"/>
<rect x="165.72" y="38.10" width="3.86" height="3.74" fill="#fecb33"/>
<rect x="168.58" y="38.10" width="3.86" height="3.74" fill="#fdd42e"/>
<rect x="171.44" y="38.10" width="3.86" height="3.74" fill="#fdce31"/>
<rect x="174.31" y="38.10" width="3.86" height="3.74" fill="#fdce31"/>
<rect x="177.17" y="38.10" width="3.86" height="3.74" fill="#fac338"/>
<rect x="180.03" y="38.10" width="3.86" height="3.74" fill="#f2c438"/>
<rect x="182.89" y="38.10" width="3.86" height="3.74" fill="#fbe920"/>
<rect x="185.75" y="38.10" width="3.86" height="3.74" fill="#faee1d"/>
<rect x="188.62" y="38.10" width="3.86" height="3.74" fill="#fbe920"/>
<rect x="191.48" y="38.10" width="3.86" height="3.74" fill="#fdd22f"/>
<rect x="194.34" y="38.10" width="3.86" height="3.74" fill="#feca34"/>
<rect x="197.20" y="38.10" width="3.86" height="3.74" fill="#fdcc32"/>
<rect x="200.06" y="38.10" width="3.86" height="3.74" fill="#acc739"/>
<rect x="202.93" y="38.10" width="3.86" height="3.74" fill="#fdce32"/>
<rect x="205.79" y="38.10" width="3.86" height="3.74" fill="#fec835"/>
<rect x="208.65" y="38.10" width="3.86" height="3.74" fill="#f0c438"/>
<rect x="211.51" y="38.10" width="3.86" height="3.74" fill="#f9f717"/>
<rect x="214.37" y="38.10" width="3.86" height="3.74" fill="#298ef1"/>
<rect x="217.24" y="38.10" width="3.86" height="3.74" fill="#2f84f7"/>
<rect x="220.10" y="38.10" width="3.86" height="3.74" fill="#2e85f7"/>
<rect x="222.96" y="38.10" width="3.86" height="3.74" fill="#2b8bf4"/>
<rect x="225.82" y="38.10" width="3.86" height="3.74" fill="#3a6df6"/>
<rect x="228.68" y="38.10" width="3.86" height="3.74" fill="#298ef1"/>
<rect x="231.55" y="38.10" width="3.86" height="3.74" fill="#fbc338"/>
<rect x="234.41" y="38.10" width="3.86" height="3.74" fill="#f3c438"/>
<rect x="237.27" y="38.10" width="3.86" height="3.74" fill="#fcc338"/>
<rect x="240.13" y="38.10" width="3.86" height="3.74" fill="#fdcf31"/>
<rect x="242.99" y="38.10" width="3.86" height="3.74" fill="#fbeb1f"/>
<rect x="245.86" y="38.10" width="3.86" height="3.74" fill="#faf618"/>
<rect x="248.72" y="38.10" width="3.86" height="3.74" fill="#f9fa15"/>
<rect x="251.58" y="38.10" width="3.86" height="3.74" fill="#2f83f7"/>
<rect x="254.44" y="38.10" width="3.86" height="3.74" fill="#327df6"/>
<rect x="257.30" y="38.10" width="3.86" height="3.74" fill="#3082f7"/>
<rect x="260.17" y="38.10" width="3.86" height="3.74" fill="#2a8cf3"/>
<rect x="263.03" y="38.10" width="3.86" height="3.74" fill="#288ff0"/>
<rect x="265.89" y="38.10" width="3.86" height="3.74" fill="#2c89f5"/>
<rect x="268.75" y="38.10" width="3.86" height="3.74" fill="#2b8af4"/>
<rect x="271.61" y="38.10" width="3.86" height="3.74" fill="#3a6ef6"/>
<rect x="274.48" y="38.10" width="3.86" height="3.74" fill="#3871f6"/>
<rect x="277.34" y="38.10" width="3.86" height="3.74" fill="#3677f6"/>
<rect x="137.10" y="40.84" width="3.86" height="3.74" fill="#298ef1"/>
<rect x="139.96" y="40.84" width="3.86" height="3.74" fill="#3479f6"/>
<rect x="142.82" y="40.84" width="3.86" height="3.74" fill="#2d87f7"/>
<rect x="145.69" y="40.84" width="3.86" height="3.74" fill="#3c6af5"/>
<rect x="148.55" y="40.84" width="3.86" height="3.74" fill="#3b6df6"/>
<rect x="151.41" y="40.84" width="3.86" height="3.74" fill="#3577f6"/>
<rect x="154.27" y="40.84" width="3.86" height="3.74" fill="#2b8bf3"/>
<rect x="157.13" y="40.84" width="3.86" height="3.74" fill="#2a8cf3"/>
<rect x="160.00" y="40.84" width="3.86" height="3.74" fill="#4649e5"/>
<rect x="162.86" y="40.84" width="3.86" height="3.74" fill="#3579f6"/>
<rect x="165.72" y="40.84" width="3.86" height="3.74" fill="#2f84f7"/>
<rect x="168.58" y="40.84" width="3.86" height="3.74" fill="#fec735"/>
<rect x="171.44" y="40.84" width="3.86" height="3.74" fill="#fec735"/>
<rect x="174.31" y="40.84" width="3.86" height="3.74" fill="#f5c438"/>
<rect x="177.17" y="40.84" width="3.86" height="3.74" fill="#fdd42e"/>
<rect x="180.03" y="40.84" width="3.86" height="3.74" fill="#f9c438"/>
<rect x="182.89" y="40.84" width="3.86" height="3.74" fill="#fcd62c"/>
<rect x="185.75" y="40.84" width="3.86" height="3.74" fill="#474fef"/>
<rect x="188.62" y="40.84" width="3.86" height="3.74" fill="#423acb"/>
<rect x="191.48" y="40.84" width="3.86" height="3.74" fill="#fec736"/>
<rect x="194.34" y="40.84" width="3.86" height="3.74" fill="#fdd22f"/>
<rect x="197.20" y="40.84" width="3.86" height="3.74" fill="#fdd62c"/>
<rect x="200.06" y="40.84" width="3.86" height="3.74" fill="#9ec743"/>
<rect x="202.93" y="40.84" width="3.86" height="3.74" fill="#fcc338"/>
<rect x="205.79" y="40.84" width="3.86" height="3.74" fill="#f9c438"/>
<rect x="208.65" y="40.84" width="3.86" height="3.74" fill="#fdd52d"/>
<rect x="211.51" y="40.84" width="3.86" height="3.74" fill="#fbeb1f"/>
<rect x="214.37" y="40.84" width="3.86" height="3.74" fill="#faf21a"/>
<rect x="217.24" y="40.84" width="3.86" height="3.74" fill="#3871f6"/>
<rect x="220.10" y="40.84" width="3.86" height="3.74" fill="#2f85f7"/>
<rect x="222.96" y="40.84" width="3.86" height="3.74" fill="#bdc639"/>
<rect x="225.82" y="40.84" width="3.86" height="3.74" fill="#87c757"/>
<rect x="228.68" y="40.84" width="3.86" height="3.74" fill="#b6c639"/>
<rect x="231.55" y="40.84" width="3.86" height="3.74" fill="#fec935"/>
<rect x="234.41" y="40.84" width="3.86" height="3.74" fill="#fdd42e"/>
<rect x="237.27" y="40.84" width="3.86" height="3.74" fill="#fdce31"/>
<rect x="240.13" y="40.84" width="3.86" height="3.74" fill="#fac338"/>
<rect x="242.99" y="40.84" width="3.86" height="3.74" fill="#2495ec"/>
<rect x="245.86" y="40.84" width="3.86" height="3.74" fill="#3083f7"/>
<rect x="248.72" y="40.84" width="3.86" height="3.74" fill="#3b6bf5"/>
<rect x="251.58" y="40.84" width="3.86" height="3.74" fill="#3c6af5"/>
<rect x="254.44" y="40.84" width="3.86" height="3.74" fill="#2f83f7"/>
<rect x="257.30" y="40.84" width="3.86" height="3.74" fill="#3181f7"/>
<rect x="260.17" y="40.84" width="3.86" height="3.74" fill="#3479f6"/>
<rect x="263.03" y="40.84" width="3.86" height="3.74" fill="#3871f6"/>
<rect x="265.89" y="40.84" width="3.86" height="3.74" fill="#337bf6"/>
<rect x="268.75" y="40.84" width="3.86" height="3.74" fill="#347af6"/>
<rect x="271.61" y="40.84" width="3.86" height="3.74" fill="#2692ee"/>
<rect x="274.48" y="40.84" width="3.86" height="3.74" fill="#3c6af5"/>
<rect x="277.34" y="40.84" width="3.86" height="3.74" fill="#288ff1"/>
<rect x="137.10" y="43.58" width="3.86" height="3.74" fill="#2692ee"/>
<rect x="139.96" y="43.58" width="3.86" height="3.74" fill="#3970f6"/>
<rect x="142.82" y="43.58" width="3.86" height="3.74" fill="#2496eb"/>
<rect x="145.69" y="43.58" width="3.86" height="3.74" fill="#298df2"/>
<rect x="148.55" y="43.58" width="3.86" height="3.74" fill="#2495ec"/>
<rect x="151.41" y="43.58" width="3.86" height="3.74" fill="#3579f6"/>
<rect x="154.27" y="43.58" width="3.86" height="3.74" fill="#337df6"/>
<rect x="157.13" y="43.58" width="3.86" height="3.74" fill="#327ef6"/>
<rect x="160.00" y="43.58" width="3.86" height="3.74" fill="#2299e9"/>
<rect x="162.86" y="43.58" width="3.86" height="3.74" fill="#2d88f6"/>
<rect x="165.72" y="43.58" width="3.86" height="3.74" fill="#337cf6"/>
<rect x="168.58" y="43.58" width="3.86" height="3.74" fill="#3180f7"/>
<rect x="171.44" y="43.58" width="3.86" height="3.74" fill="#3578f6"/>
<rect x="174.31" y="43.58" width="3.86" height="3.74" fill="#f2c438"/>
<rect x="177.17" y="43.58" width="3.86" height="3.74" fill="#f5c438"/>
<rect x="180.03" y="43.58" width="3.86" height="3.74" fill="#464deb"/>
<rect x="182.89" y="43.58" width="3.86" height="3.74" fill="#92c74d"/>
<rect x="185.75" y="43.58" width="3.86" height="3.74" fill="#fdd52d"/>
<rect x="188.62" y="43.58" width="3.86" height="3.74" fill="#fbc338"/>
<rect x="191.48" y="43.58" width="3.86" height="3.74" fill="#fcc338"/>
<rect x="194.34" y="43.58" width="3.86" height="3.74" fill="#fec935"/>
<rect x="197.20" y="43.58" width="3.86" height="3.74" fill="#3773f6"/>
<rect x="200.06" y="43.58" width="3.86" height="3.74" fill="#337df6"/>
<rect x="202.93" y="43.58" width="3.86" height="3.74" fill="#fdd62c"/>
<rect x="205.79" y="43.58" width="3.86" height="3.74" fill="#fdd32e"/>
<rect x="208.65" y="43.58" width="3.86" height="3.74" fill="#fdd12f"/>
<rect x="211.51" y="43.58" width="3.86" height="3.74" fill="#faf319"/>
<rect x="214.37" y="43.58" width="3.86" height="3.74" fill="#f9f916"/>
<rect x="217.24" y="43.58" width="3.86" height="3.74" fill="#f9fa15"/>
<rect x="220.10" y="43.58" width="3.86" height="3.74" fill="#faf21a"/>
<rect x="222.96" y="43.58" width="3.86" height="3.74" fill="#b1c739"/>
<rect x="225.82" y="43.58" width="3.86" height="3.74" fill="#80c75c"/>
<rect x="228.68" y="43.58" width="3.86" height="3.74" fill="#b1c639"/>
<rect x="231.55" y="43.58" width="3.86" height="3.74" fill="#23bcb9"/>
<rect x="234.41" y="43.58" width="3.86" height="3.74" fill="#fdd030"/>
<rect x="237.27" y="43.58" width="3.86" height="3.74" fill="#2b8af4"/>
<rect x="240.13" y="43.58" width="3.86" height="3.74" fill="#3578f6"/>
<rect x="242.99" y="43.58" width="3.86" height="3.74" fill="#3b6cf6"/>
<rect x="245.86" y="43.58" width="3.86" height="3.74" fill="#31c4a2"/>
<rect x="248.72" y="43.58" width="3.86" height="3.74" fill="#19b6c9"/>
<rect x="251.58" y="43.58" width="3.86" height="3.74" fill="#23bcb8"/>
<rect x="254.44" y="43.58" width="3.86" height="3.74" fill="#20babf"/>
<rect x="257.30" y="43.58" width="3.86" height="3.74" fill="#1eb9c1"/>
<rect x="260.17" y="43.58" width="3.86" height="3.74" fill="#298ef1"/>
<rect x="263.03" y="43.58" width="3.86" height="3.74" fill="#2298ea"/>
<rect x="265.89" y="43.58" width="3.86" height="3.74" fill="#3577f6"/>
<rect x="268.75" y="43.58" width="3.86" height="3.74" fill="#2b8bf4"/>
<rect x="271.61" y="43.58" width="3.86" height="3.74" fill="#3479f6"/>
<rect x="274.48" y="43.58" width="3.86" height="3.74" fill="#2e86f7"/>
<rect x="277.34" y="43.58" width="3.86" height="3.74" fill="#327ef6"/>
<rect x="137.10" y="46.33" width="3.86" height="3.74" fill="#3872f6"/>
<rect x="139.96" y="46.33" width="3.86" height="3.74" fill="#3872f6"/>
<rect x="142.82" y="46.33" width="3.86" height="3.74" fill="#3774f6"/>
<rect x="145.69" y="46.33" width="3.86" height="3.74" fill="#2495ec"/>
<rect x="148.55" y="46.33" width="3.86" height="3.74" fill="#2f83f7"/>
<rect x="151.41" y="46.33" width="3.86" height="3.74" fill="#3675f6"/>
<rect x="154.27" y="46.33" width="3.86" height="3.74" fill="#2495ec"/>
<rect x="157.13" y="46.33" width="3.86" height="3.74" fill="#2299e9"/>
<rect x="160.00" y="46.33" width="3.86" height="3.74" fill="#3181f7"/>
<rect x="162.86" y="46.33" width="3.86" height="3.74" fill="#3971f6"/>
<rect x="165.72" y="46.33" width="3.86" height="3.74" fill="#3774f6"/>
<rect x="168.58" y="46.33" width="3.86" height="3.74" fill="#3a6ef6"/>
<rect x="171.44" y="46.33" width="3.86" height="3.74" fill="#337bf6"/>
<rect x="174.31" y="46.33" width="3.86" height="3.74" fill="#3a6ef6"/>
<rect x="177.17" y="46.33" width="3.86" height="3.74" fill="#3676f6"/>
<rect x="180.03" y="46.33" width="3.86" height="3.74" fill="#4340d4"/>
<rect x="182.89" y="46.33" width="3.86" height="3.74" fill="#a8c73c"/>
<rect x="185.75" y="46.33" width="3.86" height="3.74" fill="#bac639"/>
<rect x="188.62" y="46.33" width="3.86" height="3.74" fill="#b2c639"/>
<rect x="191.48" y="46.33" width="3.86" height="3.74" fill="#9cc745"/>
<rect x="194.34" y="46.33" width="3.86" height="3.74" fill="#fec636"/>
<rect x="197.20" y="46.33" width="3.86" height="3.74" fill="#2f85f7"/>
<rect x="200.06" y="46.33" width="3.86" height="3.74" fill="#327df6"/>
<rect x="202.93" y="46.33" width="3.86" height="3.74" fill="#fec438"/>
<rect x="205.79" y="46.33" width="3.86" height="3.74" fill="#f3c438"/>
<rect x="208.65" y="46.33" width="3.86" height="3.74" fill="#fcc338"/>
<rect x="211.51" y="46.33" width="3.86" height="3.74" fill="#f9fa15"/>
<rect x="214.37" y="46.33" width="3.86" height="3.74" fill="#fbe920"/>
<rect x="217.24" y="46.33" width="3.86" height="3.74" fill="#faf11b"/>
<rect x="220.10" y="46.33" width="3.86" height="3.74" fill="#faf319"/>
<rect x="222.96" y="46.33" width="3.86" height="3.74" fill="#b8c639"/>
<rect x="225.82" y="46.33" width="3.86" height="3.74" fill="#1cb7c5"/>
<rect x="228.68" y="46.33" width="3.86" height="3.74" fill="#3578f6"/>
<rect x="231.55" y="46.33" width="3.86" height="3.74" fill="#3676f6"/>
<rect x="234.41" y="46.33" width="3.86" height="3.74" fill="#327ef6"/>
<rect x="237.27" y="46.33" width="3.86" height="3.74" fill="#3181f7"/>
<rect x="240.13" y="46.33" width="3.86" height="3.74" fill="#2397ea"/>
<rect x="242.99" y="46.33" width="3.86" height="3.74" fill="#2693ee"/>
<rect x="245.86" y="46.33" width="3.86" height="3.74" fill="#2fc3a5"/>
<rect x="248.72" y="46.33" width="3.86" height="3.74" fill="#16b4ce"/>
<rect x="251.58" y="46.33" width="3.86" height="3.74" fill="#7fc75d"/>
<rect x="254.44" y="46.33" width="3.86" height="3.74" fill="#2ac0ad"/>
<rect x="257.30" y="46.33" width="3.86" height="3.74" fill="#30c3a4"/>
<rect x="260.17" y="46.33" width="3.86" height="3.74" fill="#23bcb8"/>
<rect x="263.03" y="46.33" width="3.86" height="3.74" fill="#2d88f6"/>
<rect x="265.89" y="46.33" width="3.86" height="3.74" fill="#3c6af5"/>
<rect x="268.75" y="46.33" width="3.86" height="3.74" fill="#327ef6"/>
<rect x="271.61" y="46.33" width="3.86" height="3.74" fill="#2496eb"/>
<rect x="274.48" y="46.33" width="3.86" height="3.74" fill="#2692ee"/>
<rect x="277.34" y="46.33" width="3.86" height="3.74" fill="#2693ee"/>
<rect x="137.10" y="49.07" width="3.86" height="3.74" fill="#2298ea"/>
<rect x="139.96" y="49.07" width="3.86" height="3.74" fill="#3676f6"/>
<rect x="142.82" y="49.07" width="3.86" height="3.74" fill="#396ff6"/>
<rect x="145.69" y="49.07" width="3.86" height="3.74" fill="#3872f6"/>
<rect x="148.55" y="49.07" width="3.86" height="3.74" fill="#2f85f7"/>
<rect x="151.41" y="49.07" width="3.86" height="3.74" fill="#2a8cf3"/>
<rect x="154.27" y="49.07" width="3.86" height="3.74" fill="#2397eb"/>
<rect x="157.13" y="49.07" width="3.86" height="3.74" fill="#2bc0ac"/>
<rect x="160.00" y="49.07" width="3.86" height="3.74" fill="#2b8af4"/>
<rect x="162.86" y="49.07" width="3.86" height="3.74" fill="#288ff0"/>
<rect x="165.72" y="49.07" width="3.86" height="3.74" fill="#3081f7"/>
<rect x="168.58" y="49.07" width="3.86" height="3.74" fill="#2e86f7"/>
<rect x="171.44" y="49.07" width="3.86" height="3.74" fill="#3b6cf6"/>
<rect x="174.31" y="49.07" width="3.86" height="3.74" fill="#2890f0"/>
<rect x="177.17" y="49.07" width="3.86" height="3.74" fill="#3676f6"/>
<rect x="180.03" y="49.07" width="3.86" height="3.74" fill="#2496eb"/>
<rect x="182.89" y="49.07" width="3.86" height="3.74" fill="#4549e3"/>
<rect x="185.75" y="49.07" width="3.86" height="3.74" fill="#93c74c"/>
<rect x="188.62" y="49.07" width="3.86" height="3.74" fill="#86c757"/>
<rect x="191.48" y="49.07" width="3.86" height="3.74" fill="#90c74f"/>
<rect x="194.34" y="49.07" width="3.86" height="3.74" fill="#fdcc32"/>
<rect x="197.20" y="49.07" width="3.86" height="3.74" fill="#fdce31"/>
<rect x="200.06" y="49.07" width="3.86" height="3.74" fill="#f5c438"/>
<rect x="202.93" y="49.07" width="3.86" height="3.74" fill="#f3c438"/>
<rect x="205.79" y="49.07" width="3.86" height="3.74" fill="#fec934"/>
<rect x="208.65" y="49.07" width="3.86" height="3.74" fill="#fecb33"/>
<rect x="211.51" y="49.07" width="3.86" height="3.74" fill="#faef1c"/>
<rect x="214.37" y="49.07" width="3.86" height="3.74" fill="#fbeb1f"/>
<rect x="217.24" y="49.07" width="3.86" height="3.74" fill="#faf31a"/>
<rect x="220.10" y="49.07" width="3.86" height="3.74" fill="#fbe721"/>
<rect x="222.96" y="49.07" width="3.86" height="3.74" fill="#3479f6"/>
<rect x="225.82" y="49.07" width="3.86" height="3.74" fill="#3081f7"/>
<rect x="228.68" y="49.07" width="3.86" height="3.74" fill="#2397ea"/>
<rect x="231.55" y="49.07" width="3.86" height="3.74" fill="#2b8af4"/>
<rect x="234.41" y="49.07" width="3.86" height="3.74" fill="#2594ed"/>
<rect x="237.27" y="49.07" width="3.86" height="3.74" fill="#3082f7"/>
<rect x="240.13" y="49.07" width="3.86" height="3.74" fill="#3676f6"/>
<rect x="242.99" y="49.07" width="3.86" height="3.74" fill="#3676f6"/>
<rect x="245.86" y="49.07" width="3.86" height="3.74" fill="#2397ea"/>
<rect x="248.72" y="49.07" width="3.86" height="3.74" fill="#2a8df2"/>
<rect x="251.58" y="49.07" width="3.86" height="3.74" fill="#1eb9c0"/>
<rect x="254.44" y="49.07" width="3.86" height="3.74" fill="#16b4ce"/>
<rect x="257.30" y="49.07" width="3.86" height="3.74" fill="#2f83f7"/>
<rect x="260.17" y="49.07" width="3.86" height="3.74" fill="#2b8bf3"/>
<rect x="263.03" y="49.07" width="3.86" height="3.74" fill="#317ff7"/>
<rect x="265.89" y="49.07" width="3.86" height="3.74" fill="#3577f6"/>
<rect x="268.75" y="49.07" width="3.86" height="3.74" fill="#2b8bf4"/>
<rect x="271.61" y="49.07" width="3.86" height="3.74" fill="#2496eb"/>
<rect x="274.48" y="49.07" width="3.86" height="3.74" fill="#3675f6"/>
<rect x="277.34" y="49.07" width="3.86" height="3.74" fill="#3b6bf6"/>
<rect x="137.10" y="51.82" width="3.86" height="3.74" fill="#337bf6"/>
<rect x="139.96" y="51.82" width="3.86" height="3.74" fill="#317ff7"/>
<rect x="142.82" y="51.82" width="3.86" height="3.74" fill="#2a8cf3"/>
<rect x="145.69" y="51.82" width="3.86" height="3.74" fill="#3774f6"/>
<rect x="148.55" y="51.82" width="3.86" height="3.74" fill="#2791ef"/>
<rect x="151.41" y="51.82" width="3.86" height="3.74" fill="#298ef1"/>
<rect x="154.27" y="51.82" width="3.86" height="3.74" fill="#24bdb7"/>
<rect x="157.13" y="51.82" width="3.86" height="3.74" fill="#1bb7c5"/>
<rect x="160.00" y="51.82" width="3.86" height="3.74" fill="#2298ea"/>
<rect x="162.86" y="51.82" width="3.86" height="3.74" fill="#347af6"/>
<rect x="165.72" y="51.82" width="3.86" height="3.74" fill="#2791ef"/>
<rect x="168.58" y="51.82" width="3.86" height="3.74" fill="#3675f6"/>
<rect x="171.44" y="51.82" width="3.86" height="3.74" fill="#3675f6"/>
<rect x="174.31" y="51.82" width="3.86" height="3.74" fill="#288ff1"/>
<rect x="177.17" y="51.82" width="3.86" height="3.74" fill="#3579f6"/>
<rect x="180.03" y="51.82" width="3.86" height="3.74" fill="#2397ea"/>
<rect x="182.89" y="51.82" width="3.86" height="3.74" fill="#a2c740"/>
<rect x="185.75" y="51.82" width="3.86" height="3.74" fill="#8bc753"/>
<rect x="188.62" y="51.82" width="3.86" height="3.74" fill="#8dc751"/>
<rect x="191.48" y="51.82" width="3.86" height="3.74" fill="#fec636"/>
<rect x="194.34" y="51.82" width="3.86" height="3.74" fill="#fdcd32"/>
<rect x="197.20" y="51.82" width="3.86" height="3.74" fill="#fdd52d"/>
<rect x="200.06" y="51.82" width="3.86" height="3.74" fill="#f7c438"/>
<rect x="202.93" y="51.82" width="3.86" height="3.74" fill="#fec537"/>
<rect x="205.79" y="51.82" width="3.86" height="3.74" fill="#f9c438"/>
<rect x="208.65" y="51.82" width="3.86" height="3.74" fill="#fdd62c"/>
<rect x="211.51" y="51.82" width="3.86" height="3.74" fill="#fbea20"/>
<rect x="214.37" y="51.82" width="3.86" height="3.74" fill="#fbe821"/>
<rect x="217.24" y="51.82" width="3.86" height="3.74" fill="#fbe821"/>
<rect x="220.10" y="51.82" width="3.86" height="3.74" fill="#faef1c"/>
<rect x="222.96" y="51.82" width="3.86" height="3.74" fill="#2495ec"/>
<rect x="225.82" y="51.82" width="3.86" height="3.74" fill="#2594ed"/>
<rect x="228.68" y="51.82" width="3.86" height="3.74" fill="#298ef1"/>
<rect x="231.55" y="51.82" width="3.86" height="3.74" fill="#2299e9"/>
<rect x="234.41" y="51.82" width="3.86" height="3.74" fill="#2396eb"/>
<rect x="237.27" y="51.82" width="3.86" height="3.74" fill="#347bf6"/>
<rect x="240.13" y="51.82" width="3.86" height="3.74" fill="#3773f6"/>
<rect x="242.99" y="51.82" width="3.86" height="3.74" fill="#2396eb"/>
<rect x="245.86" y="51.82" width="3.86" height="3.74" fill="#298ef1"/>
<rect x="248.72" y="51.82" width="3.86" height="3.74" fill="#3b6bf6"/>
<rect x="251.58" y="51.82" width="3.86" height="3.74" fill="#2b8bf4"/>
<rect x="254.44" y="51.82" width="3.86" height="3.74" fill="#327df6"/>
<rect x="257.30" y="51.82" width="3.86" height="3.74" fill="#327df6"/>
<rect x="260.17" y="51.82" width="3.86" height="3.74" fill="#347bf6"/>
<rect x="263.03" y="51.82" width="3.86" height="3.74" fill="#3872f6"/>
<rect x="265.89" y="51.82" width="3.86" height="3.74" fill="#423aca"/>
<rect x="268.75" y="51.82" width="3.86" height="3.74" fill="#3578f6"/>
<rect x="271.61" y="51.82" width="3.86" height="3.74" fill="#337cf6"/>
<rect x="274.48" y="51.82" width="3.86" height="3.74" fill="#2397ea"/>
<rect x="277.34" y="51.82" width="3.86" height="3.74" fill="#3970f6"/>
<rect x="137.10" y="54.56" width="3.86" height="3.74" fill="#2398ea"/>
<rect x="139.96" y="54.56" width="3.86" height="3.74" fill="#3774f6"/>
<rect x="142.82" y="54.56" width="3.86" height="3.74" fill="#337cf6"/>
<rect x="145.69" y="54.56" width="3.86" height="3.74" fill="#2692ef"/>
<rect x="148.55" y="54.56" width="3.86" height="3.74" fill="#2692ef"/>
<rect x="151.41" y="54.56" width="3.86" height="3.74" fill="#3180f7"/>
<rect x="154.27" y="54.56" width="3.86" height="3.74" fill="#3b6cf6"/>
<rect x="157.13" y="54.56" width="3.86" height="3.74" fill="#3082f7"/>
<rect x="160.00" y="54.56" width="3.86" height="3.74" fill="#337df6"/>
<rect x="162.86" y="54.56" width="3.86" height="3.74" fill="#2496eb"/>
<rect x="165.72" y="54.56" width="3.86" height="3.74" fill="#433ed1"/>
<rect x="168.58" y="54.56" width="3.86" height="3.74" fill="#337cf6"/>
<rect x="171.44" y="54.56" width="3.86" height="3.74" fill="#2495ec"/>
<rect x="174.31" y="54.56" width="3.86" height="3.74" fill="#3b6bf6"/>
<rect x="177.17" y="54.56" width="3.86" height="3.74" fill="#327ff6"/>
<rect x="180.03" y="54.56" width="3.86" height="3.74" fill="#2791ef"/>
<rect x="182.89" y="54.56" width="3.86" height="3.74" fill="#b3c639"/>
<rect x="185.75" y="54.56" width="3.86" height="3.74" fill="#17b4ce"/>
<rect x="188.62" y="54.56" width="3.86" height="3.74" fill="#7fc75d"/>
<rect x="191.48" y="54.56" width="3.86" height="3.74" fill="#3b6df6"/>
<rect x="194.34" y="54.56" width="3.86" height="3.74" fill="#2496eb"/>
<rect x="197.20" y="54.56" width="3.86" height="3.74" fill="#90c74f"/>
<rect x="200.06" y="54.56" width="3.86" height="3.74" fill="#fdcf30"/>
<rect x="202.93" y="54.56" width="3.86" height="3.74" fill="#fdd42d"/>
<rect x="205.79" y="54.56" width="3.86" height="3.74" fill="#fec438"/>
<rect x="208.65" y="54.56" width="3.86" height="3.74" fill="#fcc338"/>
<rect x="211.51" y="54.56" width="3.86" height="3.74" fill="#f9fa15"/>
<rect x="214.37" y="54.56" width="3.86" height="3.74" fill="#faf319"/>
<rect x="217.24" y="54.56" width="3.86" height="3.74" fill="#3577f6"/>
<rect x="220.10" y="54.56" width="3.86" height="3.74" fill="#298df2"/>
<rect x="222.96" y="54.56" width="3.86" height="3.74" fill="#347af6"/>
<rect x="225.82" y="54.56" width="3.86" height="3.74" fill="#3578f6"/>
<rect x="228.68" y="54.56" width="3.86" height="3.74" fill="#3c6af5"/>
<rect x="231.55" y="54.56" width="3.86" height="3.74" fill="#288ff1"/>
<rect x="234.41" y="54.56" width="3.86" height="3.74" fill="#2496ec"/>
<rect x="237.27" y="54.56" width="3.86" height="3.74" fill="#2c8af5"/>
<rect x="240.13" y="54.56" width="3.86" height="3.74" fill="#2397eb"/>
<rect x="242.99" y="54.56" width="3.86" height="3.74" fill="#3b6bf5"/>
<rect x="245.86" y="54.56" width="3.86" height="3.74" fill="#3676f6"/>
<rect x="248.72" y="54.56" width="3.86" height="3.74" fill="#3082f7"/>
<rect x="251.58" y="54.56" width="3.86" height="3.74" fill="#2397ea"/>
<rect x="254.44" y="54.56" width="3.86" height="3.74" fill="#2397ea"/>
<rect x="257.30" y="54.56" width="3.86" height="3.74" fill="#327ef6"/>
<rect x="260.17" y="54.56" width="3.86" height="3.74" fill="#3677f6"/>
<rect x="263.03" y="54.56" width="3.86" height="3.74" fill="#3180f7"/>
<rect x="265.89" y="54.56" width="3.86" height="3.74" fill="#2f83f7"/>
<rect x="268.75" y="54.56" width="3.86" height="3.74" fill="#2496eb"/>
<rect x="271.61" y="54.56" width="3.86" height="3.74" fill="#3773f6"/>
<rect x="274.48" y="54.56" width="3.86" height="3.74" fill="#2791ef"/>
<rect x="277.34" y="54.56" width="3.86" height="3.74" fill="#298ef1"/>
<rect x="137.10" y="57.30" width="3.86" height="3.74" fill="#2692ef"/>
<rect x="139.96" y="57.30" width="3.86" height="3.74" fill="#2890f0"/>
<rect x="142.82" y="57.30" width="3.86" height="3.74" fill="#2c89f6"/>
<rect x="145.69" y="57.30" width="3.86" height="3.74" fill="#347bf6"/>
<rect x="148.55" y="57.30" width="3.86" height="3.74" fill="#347af6"/>
<rect x="151.41" y="57.30" width="3.86" height="3.74" fill="#4442d8"/>
<rect x="154.27" y="57.30" width="3.86" height="3.74" fill="#2890f0"/>
<rect x="157.13" y="57.30" width="3.86" height="3.74" fill="#3a6ef6"/>
<rect x="160.00" y="57.30" width="3.86" height="3.74" fill="#3774f6"/>
<rect x="162.86" y="57.30" width="3.86" height="3.74" fill="#288ff1"/>
<rect x="165.72" y="57.30" width="3.86" height="3.74" fill="#3676f6"/>
<rect x="168.58" y="57.30" width="3.86" height="3.74" fill="#3a6df6"/>
<rect x="171.44" y="57.30" width="3.86" height="3.74" fill="#3b6bf6"/>
<rect x="174.31" y="57.30" width="3.86" height="3.74" fill="#2e86f7"/>
<rect x="177.17" y="57.30" width="3.86" height="3.74" fill="#347af6"/>
<rect x="180.03" y="57.30" width="3.86" height="3.74" fill="#bfc639"/>
<rect x="182.89" y="57.30" width="3.86" height="3.74" fill="#bac639"/>
<rect x="185.75" y="57.30" width="3.86" height="3.74" fill="#32c59f"/>
<rect x="188.62" y="57.30" width="3.86" height="3.74" fill="#91c74f"/>
<rect x="191.48" y="57.30" width="3.86" height="3.74" fill="#3a6ef6"/>
<rect x="194.34" y="57.30" width="3.86" height="3.74" fill="#3a6ff6"/>
<rect x="197.20" y="57.30" width="3.86" height="3.74" fill="#a2c740"/>
<rect x="200.06" y="57.30" width="3.86" height="3.74" fill="#fdce31"/>
<rect x="202.93" y="57.30" width="3.86" height="3.74" fill="#fec736"/>
<rect x="205.79" y="57.30" width="3.86" height="3.74" fill="#fac338"/>
<rect x="208.65" y="57.30" width="3.86" height="3.74" fill="#fec636"/>
<rect x="211.51" y="57.30" width="3.86" height="3.74" fill="#faf319"/>
<rect x="214.37" y="57.30" width="3.86" height="3.74" fill="#faf419"/>
<rect x="217.24" y="57.30" width="3.86" height="3.74" fill="#298ef1"/>
<rect x="220.10" y="57.30" width="3.86" height="3.74" fill="#2693ee"/>
<rect x="222.96" y="57.30" width="3.86" height="3.74" fill="#2b8bf4"/>
<rect x="225.82" y="57.30" width="3.86" height="3.74" fill="#3970f6"/>
<rect x="228.68" y="57.30" width="3.86" height="3.74" fill="#2692ee"/>
<rect x="231.55" y="57.30" width="3.86" height="3.74" fill="#3579f6"/>
<rect x="234.41" y="57.30" width="3.86" height="3.74" fill="#2e87f7"/>
<rect x="237.27" y="57.30" width="3.86" height="3.74" fill="#337df6"/>
<rect x="240.13" y="57.30" width="3.86" height="3.74" fill="#464be7"/>
<rect x="242.99" y="57.30" width="3.86" height="3.74" fill="#3774f6"/>
<rect x="245.86" y="57.30" width="3.86" height="3.74" fill="#3676f6"/>
<rect x="248.72" y="57.30" width="3.86" height="3.74" fill="#3676f6"/>
<rect x="251.58" y="57.30" width="3.86" height="3.74" fill="#3871f6"/>
<rect x="254.44" y="57.30" width="3.86" height="3.74" fill="#2594ed"/>
<rect x="257.30" y="57.30" width="3.86" height="3.74" fill="#2d87f6"/>
<rect x="260.17" y="57.30" width="3.86" height="3.74" fill="#347af6"/>
<rect x="263.03" y="57.30" width="3.86" height="3.74" fill="#327ef6"/>
<rect x="265.89" y="57.30" width="3.86" height="3.74" fill="#2299e9"/>
<rect x="268.75" y="57.30" width="3.86" height="3.74" fill="#2f84f7"/>
<rect x="271.61" y="57.30" width="3.86" height="3.74" fill="#3676f6"/>
<rect x="274.48" y="57.30" width="3.86" height="3.74" fill="#2791ef"/>
<rect x="277.34" y="57.30" width="3.86" height="3.74" fill="#2b8bf4"/>
<rect x="137.10" y="60.05" width="3.86" height="3.74" fill="#2299e9"/>
<rect x="139.96" y="60.05" width="3.86" height="3.74" fill="#396ff6"/>
<rect x="142.82" y="60.05" width="3.86" height="3.74" fill="#3082f7"/>
<rect x="145.69" y="60.05" width="3.86" height="3.74" fill="#2791ef"/>
<rect x="148.55" y="60.05" width="3.86" height="3.74" fill="#2692ee"/>
<rect x="151.41" y="60.05" width="3.86" height="3.74" fill="#2495ec"/>
<rect x="154.27" y="60.05" width="3.86" height="3.74" fill="#3b6cf6"/>
<rect x="157.13" y="60.05" width="3.86" height="3.74" fill="#3579f6"/>
<rect x="160.00" y="60.05" width="3.86" height="3.74" fill="#3970f6"/>
<rect x="162.86" y="60.05" width="3.86" height="3.74" fill="#3773f6"/>
<rect x="165.72" y="60.05" width="3.86" height="3.74" fill="#2298ea"/>
<rect x="168.58" y="60.05" width="3.86" height="3.74" fill="#2d88f6"/>
<rect x="171.44" y="60.05" width="3.86" height="3.74" fill="#2396eb"/>
<rect x="174.31" y="60.05" width="3.86" height="3.74" fill="#337df6"/>
<rect x="177.17" y="60.05" width="3.86" height="3.74" fill="#2593ed"/>
<rect x="180.03" y="60.05" width="3.86" height="3.74" fill="#9ec743"/>
<rect x="182.89" y="60.05" width="3.86" height="3.74" fill="#90c74f"/>
<rect x="185.75" y="60.05" width="3.86" height="3.74" fill="#2cc1a9"/>
<rect x="188.62" y="60.05" width="3.86" height="3.74" fill="#bdc639"/>
<rect x="191.48" y="60.05" width="3.86" height="3.74" fill="#396ff6"/>
<rect x="194.34" y="60.05" width="3.86" height="3.74" fill="#2d88f6"/>
<rect x="197.20" y="60.05" width="3.86" height="3.74" fill="#fdcc33"/>
<rect x="200.06" y="60.05" width="3.86" height="3.74" fill="#fac338"/>
<rect x="202.93" y="60.05" width="3.86" height="3.74" fill="#fec537"/>
<rect x="205.79" y="60.05" width="3.86" height="3.74" fill="#fbea20"/>
<rect x="208.65" y="60.05" width="3.86" height="3.74" fill="#fbeb1f"/>
<rect x="211.51" y="60.05" width="3.86" height="3.74" fill="#faec1e"/>
<rect x="214.37" y="60.05" width="3.86" height="3.74" fill="#faf31a"/>
<rect x="217.24" y="60.05" width="3.86" height="3.74" fill="#2b8af4"/>
<rect x="220.10" y="60.05" width="3.86" height="3.74" fill="#3774f6"/>
<rect x="222.96" y="60.05" width="3.86" height="3.74" fill="#3c6af5"/>
<rect x="225.82" y="60.05" width="3.86" height="3.74" fill="#347af6"/>
<rect x="228.68" y="60.05" width="3.86" height="3.74" fill="#2a8cf3"/>
<rect x="231.55" y="60.05" width="3.86" height="3.74" fill="#3773f6"/>
<rect x="234.41" y="60.05" width="3.86" height="3.74" fill="#347af6"/>
<rect x="237.27" y="60.05" width="3.86" height="3.74" fill="#3774f6"/>
<rect x="240.13" y="60.05" width="3.86" height="3.74" fill="#2790ef"/>
<rect x="242.99" y="60.05" width="3.86" height="3.74" fill="#2e86f7"/>
<rect x="245.86" y="60.05" width="3.86" height="3.74" fill="#3a6df6"/>
<rect x="248.72" y="60.05" width="3.86" height="3.74" fill="#3a6ff6"/>
<rect x="251.58" y="60.05" width="3.86" height="3.74" fill="#327ef6"/>
<rect x="254.44" y="60.05" width="3.86" height="3.74" fill="#2e86f7"/>
<rect x="257.30" y="60.05" width="3.86" height="3.74" fill="#2c8af5"/>
<rect x="260.17" y="60.05" width="3.86" height="3.74" fill="#3a6ef6"/>
<rect x="263.03" y="60.05" width="3.86" height="3.74" fill="#3872f6"/>
<rect x="265.89" y="60.05" width="3.86" height="3.74" fill="#2a8cf3"/>
<rect x="268.75" y="60.05" width="3.86" height="3.74" fill="#327ff6"/>
<rect x="271.61" y="60.05" width="3.86" height="3.74" fill="#3578f6"/>
<rect x="274.48" y="60.05" width="3.86" height="3.74" fill="#3479f6"/>
<rect x="277.34" y="60.05" width="3.86" height="3.74" fill="#2397ea"/>
<rect x="137.10" y="62.79" width="3.86" height="3.74" fill="#347af6"/>
<rect x="139.96" y="62.79" width="3.86" height="3.74" fill="#2e87f7"/>
<rect x="142.82" y="62.79" width="3.86" height="3.74" fill="#337cf6"/>
<rect x="145.69" y="62.79" width="3.86" height="3.74" fill="#4443da"/>
<rect x="148.55" y="62.79" width="3.86" height="3.74" fill="#2593ed"/>
<rect x="151.41" y="62.79" width="3.86" height="3.74" fill="#2299e9"/>
<rect x="154.27" y="62.79" width="3.86" height="3.74" fill="#337cf6"/>
<rect x="157.13" y="62.79" width="3.86" height="3.74" fill="#3774f6"/>
<rect x="160.00" y="62.79" width="3.86" height="3.74" fill="#298ef2"/>
<rect x="162.86" y="62.79" width="3.86" height="3.74" fill="#3774f6"/>
<rect x="165.72" y="62.79" width="3.86" height="3.74" fill="#3c6af5"/>
<rect x="168.58" y="62.79" width="3.86" height="3.74" fill="#2495ec"/>
<rect x="171.44" y="62.79" width="3.86" height="3.74" fill="#3180f7"/>
<rect x="174.31" y="62.79" width="3.86" height="3.74" fill="#2791ef"/>
<rect x="177.17" y="62.79" width="3.86" height="3.74" fill="#9bc746"/>
<rect x="180.03" y="62.79" width="3.86" height="3.74" fill="#bac639"/>
<rect x="182.89" y="62.79" width="3.86" height="3.74" fill="#23bcb9"/>
<rect x="185.75" y="62.79" width="3.86" height="3.74" fill="#1ab6c8"/>
<rect x="188.62" y="62.79" width="3.86" height="3.74" fill="#7ec75e"/>
<rect x="191.48" y="62.79" width="3.86" height="3.74" fill="#feca34"/>
<rect x="194.34" y="62.79" width="3.86" height="3.74" fill="#fdcc32"/>
<rect x="197.20" y="62.79" width="3.86" height="3.74" fill="#fdd42d"/>
<rect x="200.06" y="62.79" width="3.86" height="3.74" fill="#f4c438"/>
<rect x="202.93" y="62.79" width="3.86" height="3.74" fill="#fdcc33"/>
<rect x="205.79" y="62.79" width="3.86" height="3.74" fill="#faee1d"/>
<rect x="208.65" y="62.79" width="3.86" height="3.74" fill="#faf11b"/>
<rect x="211.51" y="62.79" width="3.86" height="3.74" fill="#fbea20"/>
<rect x="214.37" y="62.79" width="3.86" height="3.74" fill="#faec1e"/>
<rect x="217.24" y="62.79" width="3.86" height="3.74" fill="#faf11b"/>
<rect x="220.10" y="62.79" width="3.86" height="3.74" fill="#f9f915"/>
<rect x="222.96" y="62.79" width="3.86" height="3.74" fill="#396ff6"/>
<rect x="225.82" y="62.79" width="3.86" height="3.74" fill="#2f83f7"/>
<rect x="228.68" y="62.79" width="3.86" height="3.74" fill="#2791ef"/>
<rect x="231.55" y="62.79" width="3.86" height="3.74" fill="#2298ea"/>
<rect x="234.41" y="62.79" width="3.86" height="3.74" fill="#3774f6"/>
<rect x="237.27" y="62.79" width="3.86" height="3.74" fill="#3970f6"/>
<rect x="240.13" y="62.79" width="3.86" height="3.74" fill="#474fef"/>
<rect x="242.99" y="62.79" width="3.86" height="3.74" fill="#2298ea"/>
<rect x="245.86" y="62.79" width="3.86" height="3.74" fill="#3083f7"/>
<rect x="248.72" y="62.79" width="3.86" height="3.74" fill="#3b6cf6"/>
<rect x="251.58" y="62.79" width="3.86" height="3.74" fill="#2496eb"/>
<rect x="254.44" y="62.79" width="3.86" height="3.74" fill="#327ef6"/>
<rect x="257.30" y="62.79" width="3.86" height="3.74" fill="#2495ec"/>
<rect x="260.17" y="62.79" width="3.86" height="3.74" fill="#2c89f5"/>
<rect x="263.03" y="62.79" width="3.86" height="3.74" fill="#2692ef"/>
<rect x="265.89" y="62.79" width="3.86" height="3.74" fill="#3872f6"/>
<rect x="268.75" y="62.79" width="3.86" height="3.74" fill="#2790f0"/>
<rect x="271.61" y="62.79" width="3.86" height="3.74" fill="#3675f6"/>
<rect x="274.48" y="62.79" width="3.86" height="3.74" fill="#327ff6"/>
<rect x="277.34" y="62.79" width="3.86" height="3.74" fill="#2693ee"/>
<rect x="137.10" y="65.54" width="3.86" height="3.74" fill="#2692ee"/>
<rect x="139.96" y="65.54" width="3.86" height="3.74" fill="#3773f6"/>
<rect x="142.82" y="65.54" width="3.86" height="3.74" fill="#3775f6"/>
<rect x="145.69" y="65.54" width="3.86" height="3.74" fill="#327ef6"/>
<rect x="148.55" y="65.54" width="3.86" height="3.74" fill="#2f84f7"/>
<rect x="151.41" y="65.54" width="3.86" height="3.74" fill="#327df6"/>
<rect x="154.27" y="65.54" width="3.86" height="3.74" fill="#3970f6"/>
<rect x="157.13" y="65.54" width="3.86" height="3.74" fill="#3676f6"/>
<rect x="160.00" y="65.54" width="3.86" height="3.74" fill="#298ef2"/>
<rect x="162.86" y="65.54" width="3.86" height="3.74" fill="#474eed"/>
<rect x="165.72" y="65.54" width="3.86" height="3.74" fill="#3b6cf6"/>
<rect x="168.58" y="65.54" width="3.86" height="3.74" fill="#2e87f7"/>
<rect x="171.44" y="65.54" width="3.86" height="3.74" fill="#288ff1"/>
<rect x="174.31" y="65.54" width="3.86" height="3.74" fill="#3b6bf6"/>
<rect x="177.17" y="65.54" width="3.86" height="3.74" fill="#b7c639"/>
<rect x="180.03" y="65.54" width="3.86" height="3.74" fill="#85c758"/>
<rect x="182.89" y="65.54" width="3.86" height="3.74" fill="#27beb2"/>
<rect x="185.75" y="65.54" width="3.86" height="3.74" fill="#26bdb4"/>
<rect x="188.62" y="65.54" width="3.86" height="3.74" fill="#acc739"/>
<rect x="191.48" y="65.54" width="3.86" height="3.74" fill="#faed1d"/>
<rect x="194.34" y="65.54" width="3.86" height="3.74" fill="#fec636"/>
<rect x="197.20" y="65.54" width="3.86" height="3.74" fill="#fecb33"/>
<rect x="200.06" y="65.54" width="3.86" height="3.74" fill="#fec636"/>
<rect x="202.93" y="65.54" width="3.86" height="3.74" fill="#fdcd32"/>
<rect x="205.79" y="65.54" width="3.86" height="3.74" fill="#faf01c"/>
<rect x="208.65" y="65.54" width="3.86" height="3.74" fill="#faf01c"/>
<rect x="211.51" y="65.54" width="3.86" height="3.74" fill="#fbe721"/>
<rect x="214.37" y="65.54" width="3.86" height="3.74" fill="#faf319"/>
<rect x="217.24" y="65.54" width="3.86" height="3.74" fill="#faf11b"/>
<rect x="220.10" y="65.54" width="3.86" height="3.74" fill="#fbeb1e"/>
<rect x="222.96" y="65.54" width="3.86" height="3.74" fill="#faf618"/>
<rect x="225.82" y="65.54" width="3.86" height="3.74" fill="#2890f0"/>
<rect x="228.68" y="65.54" width="3.86" height="3.74" fill="#3081f7"/>
<rect x="231.55" y="65.54" width="3.86" height="3.74" fill="#3773f6"/>
<rect x="234.41" y="65.54" width="3.86" height="3.74" fill="#3082f7"/>
<rect x="237.27" y="65.54" width="3.86" height="3.74" fill="#433cce"/>
<rect x="240.13" y="65.54" width="3.86" height="3.74" fill="#3970f6"/>
<rect x="242.99" y="65.54" width="3.86" height="3.74" fill="#3180f7"/>
<rect x="245.86" y="65.54" width="3.86" height="3.74" fill="#3a6ef6"/>
<rect x="248.72" y="65.54" width="3.86" height="3.74" fill="#4444db"/>
<rect x="251.58" y="65.54" width="3.86" height="3.74" fill="#2f84f7"/>
<rect x="254.44" y="65.54" width="3.86" height="3.74" fill="#3b6cf6"/>
<rect x="257.30" y="65.54" width="3.86" height="3.74" fill="#2c8af5"/>
<rect x="260.17" y="65.54" width="3.86" height="3.74" fill="#3a6ef6"/>
<rect x="263.03" y="65.54" width="3.86" height="3.74" fill="#298ef1"/>
<rect x="265.89" y="65.54" width="3.86" height="3.74" fill="#2890f0"/>
<rect x="268.75" y="65.54" width="3.86" height="3.74" fill="#2f84f7"/>
<rect x="271.61" y="65.54" width="3.86" height="3.74" fill="#3b6cf6"/>
<rect x="274.48" y="65.54" width="3.86" height="3.74" fill="#24bdb7"/>
<rect x="277.34" y="65.54" width="3.86" height="3.74" fill="#327df6"/>
<rect x="137.10" y="68.28" width="3.86" height="3.74" fill="#2397ea"/>
<rect x="139.96" y="68.28" width="3.86" height="3.74" fill="#3971f6"/>
<rect x="142.82" y="68.28" width="3.86" height="3.74" fill="#2693ed"/>
<rect x="145.69" y="68.28" width="3.86" height="3.74" fill="#2299e9"/>
<rect x="148.55" y="68.28" width="3.86" height="3.74" fill="#298ef2"/>
<rect x="151.41" y="68.28" width="3.86" height="3.74" fill="#2791ef"/>
<rect x="154.27" y="68.28" width="3.86" height="3.74" fill="#3774f6"/>
<rect x="157.13" y="68.28" width="3.86" height="3.74" fill="#2298e9"/>
<rect x="160.00" y="68.28" width="3.86" height="3.74" fill="#2f83f7"/>
<rect x="162.86" y="68.28" width="3.86" height="3.74" fill="#2397ea"/>
<rect x="165.72" y="68.28" width="3.86" height="3.74" fill="#2495ec"/>
<rect x="168.58" y="68.28" width="3.86" height="3.74" fill="#3872f6"/>
<rect x="171.44" y="68.28" width="3.86" height="3.74" fill="#2790f0"/>
<rect x="174.31" y="68.28" width="3.86" height="3.74" fill="#2396eb"/>
<rect x="177.17" y="68.28" width="3.86" height="3.74" fill="#82c75b"/>
<rect x="180.03" y="68.28" width="3.86" height="3.74" fill="#97c749"/>
<rect x="182.89" y="68.28" width="3.86" height="3.74" fill="#2cc1aa"/>
<rect x="185.75" y="68.28" width="3.86" height="3.74" fill="#1ab6c8"/>
<rect x="188.62" y="68.28" width="3.86" height="3.74" fill="#bac639"/>
<rect x="191.48" y="68.28" width="3.86" height="3.74" fill="#faec1e"/>
<rect x="194.34" y="68.28" width="3.86" height="3.74" fill="#fdd12f"/>
<rect x="197.20" y="68.28" width="3.86" height="3.74" fill="#f6c438"/>
<rect x="200.06" y="68.28" width="3.86" height="3.74" fill="#fec835"/>
<rect x="202.93" y="68.28" width="3.86" height="3.74" fill="#fdd42d"/>
<rect x="205.79" y="68.28" width="3.86" height="3.74" fill="#fbeb1f"/>
<rect x="208.65" y="68.28" width="3.86" height="3.74" fill="#faec1e"/>
<rect x="211.51" y="68.28" width="3.86" height="3.74" fill="#24bdb7"/>
<rect x="214.37" y="68.28" width="3.86" height="3.74" fill="#faed1d"/>
<rect x="217.24" y="68.28" width="3.86" height="3.74" fill="#fbe721"/>
<rect x="220.10" y="68.28" width="3.86" height="3.74" fill="#fbea1f"/>
<rect x="222.96" y="68.28" width="3.86" height="3.74" fill="#fbea1f"/>
<rect x="225.82" y="68.28" width="3.86" height="3.74" fill="#f9fa15"/>
<rect x="228.68" y="68.28" width="3.86" height="3.74" fill="#2a8cf3"/>
<rect x="231.55" y="68.28" width="3.86" height="3.74" fill="#2495ec"/>
<rect x="234.41" y="68.28" width="3.86" height="3.74" fill="#3872f6"/>
<rect x="237.27" y="68.28" width="3.86" height="3.74" fill="#2790f0"/>
<rect x="240.13" y="68.28" width="3.86" height="3.74" fill="#396ff6"/>
<rect x="242.99" y="68.28" width="3.86" height="3.74" fill="#2e85f7"/>
<rect x="245.86" y="68.28" width="3.86" height="3.74" fill="#2c8af5"/>
<rect x="248.72" y="68.28" width="3.86" height="3.74" fill="#337cf6"/>
<rect x="251.58" y="68.28" width="3.86" height="3.74" fill="#2594ed"/>
<rect x="254.44" y="68.28" width="3.86" height="3.74" fill="#2e86f7"/>
<rect x="257.30" y="68.28" width="3.86" height="3.74" fill="#2d87f6"/>
<rect x="260.17" y="68.28" width="3.86" height="3.74" fill="#2594ed"/>
<rect x="263.03" y="68.28" width="3.86" height="3.74" fill="#396ff6"/>
<rect x="265.89" y="68.28" width="3.86" height="3.74" fill="#2299e9"/>
<rect x="268.75" y="68.28" width="3.86" height="3.74" fill="#2c8af5"/>
<rect x="271.61" y="68.28" width="3.86" height="3.74" fill="#327ef6"/>
<rect x="274.48" y="68.28" width="3.86" height="3.74" fill="#2791ef"/>
<rect x="277.34" y="68.28" width="3.86" height="3.74" fill="#3577f6"/>
<rect x="137.10" y="71.02" width="3.86" height="3.74" fill="#2299e9"/>
<rect x="139.96" y="71.02" width="3.86" height="3.74" fill="#2d87f7"/>
<rect x="142.82" y="71.02" width="3.86" height="3.74" fill="#337cf6"/>
<rect x="145.69" y="71.02" width="3.86" height="3.74" fill="#2cc1aa"/>
<rect x="148.55" y="71.02" width="3.86" height="3.74" fill="#3180f7"/>
<rect x="151.41" y="71.02" width="3.86" height="3.74" fill="#3873f6"/>
<rect x="154.27" y="71.02" width="3.86" height="3.74" fill="#298ef1"/>
<rect x="157.13" y="71.02" width="3.86" height="3.74" fill="#423bcc"/>
<rect x="160.00" y="71.02" width="3.86" height="3.74" fill="#2791ef"/>
<rect x="162.86" y="71.02" width="3.86" height="3.74" fill="#3677f6"/>
<rect x="165.72" y="71.02" width="3.86" height="3.74" fill="#2c8af5"/>
<rect x="168.58" y="71.02" width="3.86" height="3.74" fill="#2298e9"/>
<rect x="171.44" y="71.02" width="3.86" height="3.74" fill="#2d88f6"/>
<rect x="174.31" y="71.02" width="3.86" height="3.74" fill="#2b8bf4"/>
<rect x="177.17" y="71.02" width="3.86" height="3.74" fill="#94c74c"/>
<rect x="180.03" y="71.02" width="3.86" height="3.74" fill="#7dc75f"/>
<rect x="182.89" y="71.02" width="3.86" height="3.74" fill="#16b4ce"/>
<rect x="185.75" y="71.02" width="3.86" height="3.74" fill="#1ab6c8"/>
<rect x="188.62" y="71.02" width="3.86" height="3.74" fill="#abc739"/>
<rect x="191.48" y="71.02" width="3.86" height="3.74" fill="#faef1c"/>
<rect x="194.34" y="71.02" width="3.86" height="3.74" fill="#fec935"/>
<rect x="197.20" y="71.02" width="3.86" height="3.74" fill="#fdd42e"/>
<rect x="200.06" y="71.02" width="3.86" height="3.74" fill="#f6c438"/>
<rect x="202.93" y="71.02" width="3.86" height="3.74" fill="#fac338"/>
<rect x="205.79" y="71.02" width="3.86" height="3.74" fill="#faf419"/>
<rect x="208.65" y="71.02" width="3.86" height="3.74" fill="#3c6bf5"/>
<rect x="211.51" y="71.02" width="3.86" height="3.74" fill="#3c6af5"/>
<rect x="214.37" y="71.02" width="3.86" height="3.74" fill="#337cf6"/>
<rect x="217.24" y="71.02" width="3.86" height="3.74" fill="#396ff6"/>
<rect x="220.10" y="71.02" width="3.86" height="3.74" fill="#faee1d"/>
<rect x="222.96" y="71.02" width="3.86" height="3.74" fill="#fbeb1f"/>
<rect x="225.82" y="71.02" width="3.86" height="3.74" fill="#faf21a"/>
<rect x="228.68" y="71.02" width="3.86" height="3.74" fill="#faf31a"/>
<rect x="231.55" y="71.02" width="3.86" height="3.74" fill="#3774f6"/>
<rect x="234.41" y="71.02" width="3.86" height="3.74" fill="#2c89f5"/>
<rect x="237.27" y="71.02" width="3.86" height="3.74" fill="#3082f7"/>
<rect x="240.13" y="71.02" width="3.86" height="3.74" fill="#3971f6"/>
<rect x="242.99" y="71.02" width="3.86" height="3.74" fill="#2396eb"/>
<rect x="245.86" y="71.02" width="3.86" height="3.74" fill="#3676f6"/>
<rect x="248.72" y="71.02" width="3.86" height="3.74" fill="#3871f6"/>
<rect x="251.58" y="71.02" width="3.86" height="3.74" fill="#3a6ef6"/>
<rect x="254.44" y="71.02" width="3.86" height="3.74" fill="#2c8af5"/>
<rect x="257.30" y="71.02" width="3.86" height="3.74" fill="#2594ed"/>
<rect x="260.17" y="71.02" width="3.86" height="3.74" fill="#2890f0"/>
<rect x="263.03" y="71.02" width="3.86" height="3.74" fill="#327ef6"/>
<rect x="265.89" y="71.02" width="3.86" height="3.74" fill="#3577f6"/>
<rect x="268.75" y="71.02" width="3.86" height="3.74" fill="#16b4cf"/>
<rect x="271.61" y="71.02" width="3.86" height="3.74" fill="#2b8af4"/>
<rect x="274.48" y="71.02" width="3.86" height="3.74" fill="#2e87f7"/>
<rect x="277.34" y="71.02" width="3.86" height="3.74" fill="#337cf6"/>
<rect x="137.10" y="73.77" width="3.86" height="3.74" fill="#2b8af4"/>
<rect x="139.96" y="73.77" width="3.86" height="3.74" fill="#3181f7"/>
<rect x="142.82" y="73.77" width="3.86" height="3.74" fill="#2396eb"/>
<rect x="145.69" y="73.77" width="3.86" height="3.74" fill="#298ef1"/>
<rect x="148.55" y="73.77" width="3.86" height="3.74" fill="#3676f6"/>
<rect x="151.41" y="73.77" width="3.86" height="3.74" fill="#2495ec"/>
<rect x="154.27" y="73.77" width="3.86" height="3.74" fill="#3b6cf6"/>
<rect x="157.13" y="73.77" width="3.86" height="3.74" fill="#2e85f7"/>
<rect x="160.00" y="73.77" width="3.86" height="3.74" fill="#327ff6"/>
<rect x="162.86" y="73.77" width="3.86" height="3.74" fill="#3676f6"/>
<rect x="165.72" y="73.77" width="3.86" height="3.74" fill="#3b6df6"/>
<rect x="168.58" y="73.77" width="3.86" height="3.74" fill="#2890f0"/>
<rect x="171.44" y="73.77" width="3.86" height="3.74" fill="#3c6af5"/>
<rect x="174.31" y="73.77" width="3.86" height="3.74" fill="#2e86f7"/>
<rect x="177.17" y="73.77" width="3.86" height="3.74" fill="#bdc639"/>
<rect x="180.03" y="73.77" width="3.86" height="3.74" fill="#87c756"/>
<rect x="182.89" y="73.77" width="3.86" height="3.74" fill="#1bb7c6"/>
<rect x="185.75" y="73.77" width="3.86" height="3.74" fill="#27beb2"/>
<rect x="188.62" y="73.77" width="3.86" height="3.74" fill="#a3c740"/>
<rect x="191.48" y="73.77" width="3.86" height="3.74" fill="#faf419"/>
<rect x="194.34" y="73.77" width="3.86" height="3.74" fill="#fdd12f"/>
<rect x="197.20" y="73.77" width="3.86" height="3.74" fill="#f8c438"/>
<rect x="200.06" y="73.77" width="3.86" height="3.74" fill="#fec338"/>
<rect x="202.93" y="73.77" width="3.86" height="3.74" fill="#fdc338"/>
<rect x="205.79" y="73.77" width="3.86" height="3.74" fill="#f2c438"/>
<rect x="208.65" y="73.77" width="3.86" height="3.74" fill="#2594ec"/>
<rect x="211.51" y="73.77" width="3.86" height="3.74" fill="#2890f0"/>
<rect x="214.37" y="73.77" width="3.86" height="3.74" fill="#298df2"/>
<rect x="217.24" y="73.77" width="3.86" height="3.74" fill="#3c6af5"/>
<rect x="220.10" y="73.77" width="3.86" height="3.74" fill="#2693ee"/>
<rect x="222.96" y="73.77" width="3.86" height="3.74" fill="#faf618"/>
<rect x="225.82" y="73.77" width="3.86" height="3.74" fill="#faf01b"/>
<rect x="228.68" y="73.77" width="3.86" height="3.74" fill="#faf618"/>
<rect x="231.55" y="73.77" width="3.86" height="3.74" fill="#faf01c"/>
<rect x="234.41" y="73.77" width="3.86" height="3.74" fill="#fbeb1f"/>
<rect x="237.27" y="73.77" width="3.86" height="3.74" fill="#396ff6"/>
<rect x="240.13" y="73.77" width="3.86" height="3.74" fill="#3676f6"/>
<rect x="242.99" y="73.77" width="3.86" height="3.74" fill="#3b6cf6"/>
<rect x="245.86" y="73.77" width="3.86" height="3.74" fill="#337bf6"/>
<rect x="248.72" y="73.77" width="3.86" height="3.74" fill="#288ff1"/>
<rect x="251.58" y="73.77" width="3.86" height="3.74" fill="#2a8cf3"/>
<rect x="254.44" y="73.77" width="3.86" height="3.74" fill="#2693ee"/>
<rect x="257.30" y="73.77" width="3.86" height="3.74" fill="#2a8df2"/>
<rect x="260.17" y="73.77" width="3.86" height="3.74" fill="#3577f6"/>
<rect x="263.03" y="73.77" width="3.86" height="3.74" fill="#2e86f7"/>
<rect x="265.89" y="73.77" width="3.86" height="3.74" fill="#3180f7"/>
<rect x="268.75" y="73.77" width="3.86" height="3.74" fill="#2790f0"/>
<rect x="271.61" y="73.77" width="3.86" height="3.74" fill="#2f85f7"/>
<rect x="274.48" y="73.77" width="3.86" height="3.74" fill="#3577f6"/>
<rect x="277.34" y="73.77" width="3.86" height="3.74" fill="#2b8af4"/>
<rect x="137.10" y="76.51" width="3.86" height="3.74" fill="#2398ea"/>
<rect x="139.96" y="76.51" width="3.86" height="3.74" fill="#3775f6"/>
<rect x="142.82" y="76.51" width="3.86" height="3.74" fill="#2594ed"/>
<rect x="145.69" y="76.51" width="3.86" height="3.74" fill="#3c6af5"/>
<rect x="148.55" y="76.51" width="3.86" height="3.74" fill="#3577f6"/>
<rect x="151.41" y="76.51" width="3.86" height="3.74" fill="#3676f6"/>
<rect x="154.27" y="76.51" width="3.86" height="3.74" fill="#464be7"/>
<rect x="157.13" y="76.51" width="3.86" height="3.74" fill="#2397eb"/>
<rect x="160.00" y="76.51" width="3.86" height="3.74" fill="#298ef1"/>
<rect x="162.86" y="76.51" width="3.86" height="3.74" fill="#347af6"/>
<rect x="165.72" y="76.51" width="3.86" height="3.74" fill="#2594ed"/>
<rect x="168.58" y="76.51" width="3.86" height="3.74" fill="#347bf6"/>
<rect x="171.44" y="76.51" width="3.86" height="3.74" fill="#3676f6"/>
<rect x="174.31" y="76.51" width="3.86" height="3.74" fill="#2495ec"/>
<rect x="177.17" y="76.51" width="3.86" height="3.74" fill="#faf319"/>
<rect x="180.03" y="76.51" width="3.86" height="3.74" fill="#afc739"/>
<rect x="182.89" y="76.51" width="3.86" height="3.74" fill="#29bfaf"/>
<rect x="185.75" y="76.51" width="3.86" height="3.74" fill="#32c59f"/>
<rect x="188.62" y="76.51" width="3.86" height="3.74" fill="#a0c742"/>
<rect x="191.48" y="76.51" width="3.86" height="3.74" fill="#f9f817"/>
<rect x="194.34" y="76.51" width="3.86" height="3.74" fill="#fdce31"/>
<rect x="197.20" y="76.51" width="3.86" height="3.74" fill="#fdd32e"/>
<rect x="200.06" y="76.51" width="3.86" height="3.74" fill="#fec736"/>
<rect x="202.93" y="76.51" width="3.86" height="3.74" fill="#fdcf31"/>
<rect x="205.79" y="76.51" width="3.86" height="3.74" fill="#2d87f7"/>
<rect x="208.65" y="76.51" width="3.86" height="3.74" fill="#3479f6"/>
<rect x="211.51" y="76.51" width="3.86" height="3.74" fill="#433fd2"/>
<rect x="214.37" y="76.51" width="3.86" height="3.74" fill="#4548e2"/>
<rect x="217.24" y="76.51" width="3.86" height="3.74" fill="#3a6ef6"/>
<rect x="220.10" y="76.51" width="3.86" height="3.74" fill="#2495ec"/>
<rect x="222.96" y="76.51" width="3.86" height="3.74" fill="#3871f6"/>
<rect x="225.82" y="76.51" width="3.86" height="3.74" fill="#fbe721"/>
<rect x="228.68" y="76.51" width="3.86" height="3.74" fill="#fbe920"/>
<rect x="231.55" y="76.51" width="3.86" height="3.74" fill="#f9f915"/>
<rect x="234.41" y="76.51" width="3.86" height="3.74" fill="#faee1d"/>
<rect x="237.27" y="76.51" width="3.86" height="3.74" fill="#fbea20"/>
<rect x="240.13" y="76.51" width="3.86" height="3.74" fill="#3b6bf5"/>
<rect x="242.99" y="76.51" width="3.86" height="3.74" fill="#3b6cf6"/>
<rect x="245.86" y="76.51" width="3.86" height="3.74" fill="#2a8cf3"/>
<rect x="248.72" y="76.51" width="3.86" height="3.74" fill="#2c8af5"/>
<rect x="251.58" y="76.51" width="3.86" height="3.74" fill="#2a8cf3"/>
<rect x="254.44" y="76.51" width="3.86" height="3.74" fill="#fdcf30"/>
<rect x="257.30" y="76.51" width="3.86" height="3.74" fill="#f3c438"/>
<rect x="260.17" y="76.51" width="3.86" height="3.74" fill="#2d88f6"/>
<rect x="263.03" y="76.51" width="3.86" height="3.74" fill="#337cf6"/>
<rect x="265.89" y="76.51" width="3.86" height="3.74" fill="#2791ef"/>
<rect x="268.75" y="76.51" width="3.86" height="3.74" fill="#2791ef"/>
<rect x="271.61" y="76.51" width="3.86" height="3.74" fill="#2594ec"/>
<rect x="274.48" y="76.51" width="3.86" height="3.74" fill="#3a6df6"/>
<rect x="277.34" y="76.51" width="3.86" height="3.74" fill="#2593ed"/>
<rect x="137.10" y="79.26" width="3.86" height="3.74" fill="#2495ec"/>
<rect x="139.96" y="79.26" width="3.86" height="3.74" fill="#2397eb"/>
<rect x="142.82" y="79.26" width="3.86" height="3.74" fill="#396ff6"/>
<rect x="145.69" y="79.26" width="3.86" height="3.74" fill="#3774f6"/>
<rect x="148.55" y="79.26" width="3.86" height="3.74" fill="#396ff6"/>
<rect x="151.41" y="79.26" width="3.86" height="3.74" fill="#3b6bf6"/>
<rect x="154.27" y="79.26" width="3.86" height="3.74" fill="#2693ee"/>
<rect x="157.13" y="79.26" width="3.86" height="3.74" fill="#2791ef"/>
<rect x="160.00" y="79.26" width="3.86" height="3.74" fill="#2c8af5"/>
<rect x="162.86" y="79.26" width="3.86" height="3.74" fill="#2692ee"/>
<rect x="165.72" y="79.26" width="3.86" height="3.74" fill="#2c8af5"/>
<rect x="168.58" y="79.26" width="3.86" height="3.74" fill="#3578f6"/>
<rect x="171.44" y="79.26" width="3.86" height="3.74" fill="#3a6ff6"/>
<rect x="174.31" y="79.26" width="3.86" height="3.74" fill="#fbe920"/>
<rect x="177.17" y="79.26" width="3.86" height="3.74" fill="#faf618"/>
<rect x="180.03" y="79.26" width="3.86" height="3.74" fill="#8cc752"/>
<rect x="182.89" y="79.26" width="3.86" height="3.74" fill="#1fb9c0"/>
<rect x="185.75" y="79.26" width="3.86" height="3.74" fill="#22bbbb"/>
<rect x="188.62" y="79.26" width="3.86" height="3.74" fill="#7ec75d"/>
<rect x="191.48" y="79.26" width="3.86" height="3.74" fill="#faec1e"/>
<rect x="194.34" y="79.26" width="3.86" height="3.74" fill="#fcc338"/>
<rect x="197.20" y="79.26" width="3.86" height="3.74" fill="#fdcf31"/>
<rect x="200.06" y="79.26" width="3.86" height="3.74" fill="#fec537"/>
<rect x="202.93" y="79.26" width="3.86" height="3.74" fill="#fec338"/>
<rect x="205.79" y="79.26" width="3.86" height="3.74" fill="#fdd62c"/>
<rect x="208.65" y="79.26" width="3.86" height="3.74" fill="#2f84f7"/>
<rect x="211.51" y="79.26" width="3.86" height="3.74" fill="#474deb"/>
<rect x="214.37" y="79.26" width="3.86" height="3.74" fill="#4548e2"/>
<rect x="217.24" y="79.26" width="3.86" height="3.74" fill="#3b6bf6"/>
<rect x="220.10" y="79.26" width="3.86" height="3.74" fill="#317ff6"/>
<rect x="222.96" y="79.26" width="3.86" height="3.74" fill="#3180f7"/>
<rect x="225.82" y="79.26" width="3.86" height="3.74" fill="#2890f0"/>
<rect x="228.68" y="79.26" width="3.86" height="3.74" fill="#faee1d"/>
<rect x="231.55" y="79.26" width="3.86" height="3.74" fill="#faf518"/>
<rect x="234.41" y="79.26" width="3.86" height="3.74" fill="#faf21b"/>
<rect x="237.27" y="79.26" width="3.86" height="3.74" fill="#fbeb1f"/>
<rect x="240.13" y="79.26" width="3.86" height="3.74" fill="#f9f816"/>
<rect x="242.99" y="79.26" width="3.86" height="3.74" fill="#fbe920"/>
<rect x="245.86" y="79.26" width="3.86" height="3.74" fill="#2791ef"/>
<rect x="248.72" y="79.26" width="3.86" height="3.74" fill="#3872f6"/>
<rect x="251.58" y="79.26" width="3.86" height="3.74" fill="#fbe721"/>
<rect x="254.44" y="79.26" width="3.86" height="3.74" fill="#fbeb1f"/>
<rect x="257.30" y="79.26" width="3.86" height="3.74" fill="#faf618"/>
<rect x="260.17" y="79.26" width="3.86" height="3.74" fill="#2298ea"/>
<rect x="263.03" y="79.26" width="3.86" height="3.74" fill="#3c6af5"/>
<rect x="265.89" y="79.26" width="3.86" height="3.74" fill="#2f83f7"/>
<rect x="268.75" y="79.26" width="3.86" height="3.74" fill="#2f83f7"/>
<rect x="271.61" y="79.26" width="3.86" height="3.74" fill="#2791ef"/>
<rect x="274.48" y="79.26" width="3.86" height="3.74" fill="#3773f6"/>
<rect x="277.34" y="79.26" width="3.86" height="3.74" fill="#2f83f7"/>
<rect x="137.10" y="82.00" width="3.86" height="3.74" fill="#fec438"/>
<rect x="139.96" y="82.00" width="3.86" height="3.74" fill="#2692ee"/>
<rect x="142.82" y="82.00" width="3.86" height="3.74" fill="#3577f6"/>
<rect x="145.69" y="82.00" width="3.86" height="3.74" fill="#2397eb"/>
<rect x="148.55" y="82.00" width="3.86" height="3.74" fill="#3578f6"/>
<rect x="151.41" y="82.00" width="3.86" height="3.74" fill="#3775f6"/>
<rect x="154.27" y="82.00" width="3.86" height="3.74" fill="#2a8cf3"/>
<rect x="157.13" y="82.00" width="3.86" height="3.74" fill="#2f83f7"/>
<rect x="160.00" y="82.00" width="3.86" height="3.74" fill="#396ff6"/>
<rect x="162.86" y="82.00" width="3.86" height="3.74" fill="#2c8af5"/>
<rect x="165.72" y="82.00" width="3.86" height="3.74" fill="#3a6ef6"/>
<rect x="168.58" y="82.00" width="3.86" height="3.74" fill="#2790f0"/>
<rect x="171.44" y="82.00" width="3.86" height="3.74" fill="#faf518"/>
<rect x="174.31" y="82.00" width="3.86" height="3.74" fill="#faf717"/>
<rect x="177.17" y="82.00" width="3.86" height="3.74" fill="#faf319"/>
<rect x="180.03" y="82.00" width="3.86" height="3.74" fill="#97c749"/>
<rect x="182.89" y="82.00" width="3.86" height="3.74" fill="#21bbbc"/>
<rect x="185.75" y="82.00" width="3.86" height="3.74" fill="#21bbbc"/>
<rect x="188.62" y="82.00" width="3.86" height="3.74" fill="#bac639"/>
<rect x="191.48" y="82.00" width="3.86" height="3.74" fill="#fbe820"/>
<rect x="194.34" y="82.00" width="3.86" height="3.74" fill="#fdd42e"/>
<rect x="197.20" y="82.00" width="3.86" height="3.74" fill="#f1c438"/>
<rect x="200.06" y="82.00" width="3.86" height="3.74" fill="#f9c438"/>
<rect x="202.93" y="82.00" width="3.86" height="3.74" fill="#fcc338"/>
<rect x="205.79" y="82.00" width="3.86" height="3.74" fill="#fdd42d"/>
<rect x="208.65" y="82.00" width="3.86" height="3.74" fill="#2f84f7"/>
<rect x="211.51" y="82.00" width="3.86" height="3.74" fill="#327df6"/>
<rect x="214.37" y="82.00" width="3.86" height="3.74" fill="#474eed"/>
<rect x="217.24" y="82.00" width="3.86" height="3.74" fill="#3676f6"/>
<rect x="220.10" y="82.00" width="3.86" height="3.74" fill="#3081f7"/>
<rect x="222.96" y="82.00" width="3.86" height="3.74" fill="#4546df"/>
<rect x="225.82" y="82.00" width="3.86" height="3.74" fill="#464be8"/>
<rect x="228.68" y="82.00" width="3.86" height="3.74" fill="#288ff1"/>
<rect x="231.55" y="82.00" width="3.86" height="3.74" fill="#faf419"/>
<rect x="234.41" y="82.00" width="3.86" height="3.74" fill="#faee1d"/>
<rect x="237.27" y="82.00" width="3.86" height="3.74" fill="#faed1d"/>
<rect x="240.13" y="82.00" width="3.86" height="3.74" fill="#fbea1f"/>
<rect x="242.99" y="82.00" width="3.86" height="3.74" fill="#f9f817"/>
<rect x="245.86" y="82.00" width="3.86" height="3.74" fill="#faf419"/>
<rect x="248.72" y="82.00" width="3.86" height="3.74" fill="#298ef1"/>
<rect x="251.58" y="82.00" width="3.86" height="3.74" fill="#3872f6"/>
<rect x="254.44" y="82.00" width="3.86" height="3.74" fill="#3180f7"/>
<rect x="257.30" y="82.00" width="3.86" height="3.74" fill="#2890f0"/>
<rect x="260.17" y="82.00" width="3.86" height="3.74" fill="#2d87f6"/>
<rect x="263.03" y="82.00" width="3.86" height="3.74" fill="#3970f6"/>
<rect x="265.89" y="82.00" width="3.86" height="3.74" fill="#3081f7"/>
<rect x="268.75" y="82.00" width="3.86" height="3.74" fill="#2594ed"/>
<rect x="271.61" y="82.00" width="3.86" height="3.74" fill="#3676f6"/>
<rect x="274.48" y="82.00" width="3.86" height="3.74" fill="#3773f6"/>
<rect x="277.34" y="82.00" width="3.86" height="3.74" fill="#3479f6"/>
<rect x="137.10" y="84.74" width="3.86" height="3.74" fill="#faf518"/>
<rect x="139.96" y="84.74" width="3.86" height="3.74" fill="#f9f817"/>
<rect x="142.82" y="84.74" width="3.86" height="3.74" fill="#fbea1f"/>
<rect x="145.69" y="84.74" width="3.86" height="3.74" fill="#fbea1f"/>
<rect x="148.55" y="84.74" width="3.86" height="3.74" fill="#fbec1e"/>
<rect x="151.41" y="84.74" width="3.86" height="3.74" fill="#347af6"/>
<rect x="154.27" y="84.74" width="3.86" height="3.74" fill="#2f85f7"/>
<rect x="157.13" y="84.74" width="3.86" height="3.74" fill="#3872f6"/>
<rect x="160.00" y="84.74" width="3.86" height="3.74" fill="#347bf6"/>
<rect x="162.86" y="84.74" width="3.86" height="3.74" fill="#3773f6"/>
<rect x="165.72" y="84.74" width="3.86" height="3.74" fill="#2298ea"/>
<rect x="168.58" y="84.74" width="3.86" height="3.74" fill="#faf518"/>
<rect x="171.44" y="84.74" width="3.86" height="3.74" fill="#fbe920"/>
<rect x="174.31" y="84.74" width="3.86" height="3.74" fill="#f9fa15"/>
<rect x="177.17" y="84.74" width="3.86" height="3.74" fill="#3a6ff6"/>
<rect x="180.03" y="84.74" width="3.86" height="3.74" fill="#9ac747"/>
<rect x="182.89" y="84.74" width="3.86" height="3.74" fill="#32c59f"/>
<rect x="185.75" y="84.74" width="3.86" height="3.74" fill="#2dc2a8"/>
<rect x="188.62" y="84.74" width="3.86" height="3.74" fill="#2bc1ab"/>
<rect x="191.48" y="84.74" width="3.86" height="3.74" fill="#fec636"/>
<rect x="194.34" y="84.74" width="3.86" height="3.74" fill="#f9c438"/>
<rect x="197.20" y="84.74" width="3.86" height="3.74" fill="#fdcc32"/>
<rect x="200.06" y="84.74" width="3.86" height="3.74" fill="#f5c438"/>
<rect x="202.93" y="84.74" width="3.86" height="3.74" fill="#f9c438"/>
<rect x="205.79" y="84.74" width="3.86" height="3.74" fill="#fec537"/>
<rect x="208.65" y="84.74" width="3.86" height="3.74" fill="#fbe721"/>
<rect x="211.51" y="84.74" width="3.86" height="3.74" fill="#faef1c"/>
<rect x="214.37" y="84.74" width="3.86" height="3.74" fill="#2790f0"/>
<rect x="217.24" y="84.74" width="3.86" height="3.74" fill="#2a8cf3"/>
<rect x="220.10" y="84.74" width="3.86" height="3.74" fill="#2f83f7"/>
<rect x="222.96" y="84.74" width="3.86" height="3.74" fill="#4548e3"/>
<rect x="225.82" y="84.74" width="3.86" height="3.74" fill="#4544dc"/>
<rect x="228.68" y="84.74" width="3.86" height="3.74" fill="#3871f6"/>
<rect x="231.55" y="84.74" width="3.86" height="3.74" fill="#faf31a"/>
<rect x="234.41" y="84.74" width="3.86" height="3.74" fill="#faef1c"/>
<rect x="237.27" y="84.74" width="3.86" height="3.74" fill="#faf618"/>
<rect x="240.13" y="84.74" width="3.86" height="3.74" fill="#f9f916"/>
<rect x="242.99" y="84.74" width="3.86" height="3.74" fill="#faef1c"/>
<rect x="245.86" y="84.74" width="3.86" height="3.74" fill="#faf21a"/>
<rect x="248.72" y="84.74" width="3.86" height="3.74" fill="#faf618"/>
<rect x="251.58" y="84.74" width="3.86" height="3.74" fill="#317ff7"/>
<rect x="254.44" y="84.74" width="3.86" height="3.74" fill="#3675f6"/>
<rect x="257.30" y="84.74" width="3.86" height="3.74" fill="#464ae6"/>
<rect x="260.17" y="84.74" width="3.86" height="3.74" fill="#2594ed"/>
<rect x="263.03" y="84.74" width="3.86" height="3.74" fill="#2890f0"/>
<rect x="265.89" y="84.74" width="3.86" height="3.74" fill="#2a8cf3"/>
<rect x="268.75" y="84.74" width="3.86" height="3.74" fill="#2693ee"/>
<rect x="271.61" y="84.74" width="3.86" height="3.74" fill="#2a8cf3"/>
<rect x="274.48" y="84.74" width="3.86" height="3.74" fill="#2b8af4"/>
<rect x="277.34" y="84.74" width="3.86" height="3.74" fill="#3081f7"/>
<rect x="137.10" y="87.49" width="3.86" height="3.74" fill="#faed1d"/>
<rect x="139.96" y="87.49" width="3.86" height="3.74" fill="#faf319"/>
<rect x="142.82" y="87.49" width="3.86" height="3.74" fill="#fbe920"/>
<rect x="145.69" y="87.49" width="3.86" height="3.74" fill="#faef1c"/>
<rect x="148.55" y="87.49" width="3.86" height="3.74" fill="#faf617"/>
<rect x="151.41" y="87.49" width="3.86" height="3.74" fill="#faf518"/>
<rect x="154.27" y="87.49" width="3.86" height="3.74" fill="#faf319"/>
<rect x="157.13" y="87.49" width="3.86" height="3.74" fill="#fbec1e"/>
<rect x="160.00" y="87.49" width="3.86" height="3.74" fill="#317ff7"/>
<rect x="162.86" y="87.49" width="3.86" height="3.74" fill="#3081f7"/>
<rect x="165.72" y="87.49" width="3.86" height="3.74" fill="#fdcc33"/>
<rect x="168.58" y="87.49" width="3.86" height="3.74" fill="#fec637"/>
<rect x="171.44" y="87.49" width="3.86" height="3.74" fill="#fdcd32"/>
<rect x="174.31" y="87.49" width="3.86" height="3.74" fill="#fdd52d"/>
<rect x="177.17" y="87.49" width="3.86" height="3.74" fill="#f8c438"/>
<rect x="180.03" y="87.49" width="3.86" height="3.74" fill="#adc739"/>
<rect x="182.89" y="87.49" width="3.86" height="3.74" fill="#2cc1a9"/>
<rect x="185.75" y="87.49" width="3.86" height="3.74" fill="#21babc"/>
<rect x="188.62" y="87.49" width="3.86" height="3.74" fill="#24bcb7"/>
<rect x="191.48" y="87.49" width="3.86" height="3.74" fill="#fdd62c"/>
<rect x="194.34" y="87.49" width="3.86" height="3.74" fill="#3b6bf6"/>
<rect x="197.20" y="87.49" width="3.86" height="3.74" fill="#feca34"/>
<rect x="200.06" y="87.49" width="3.86" height="3.74" fill="#f7c438"/>
<rect x="202.93" y="87.49" width="3.86" height="3.74" fill="#fdd030"/>
<rect x="205.79" y="87.49" width="3.86" height="3.74" fill="#fdd52d"/>
<rect x="208.65" y="87.49" width="3.86" height="3.74" fill="#faf11b"/>
<rect x="211.51" y="87.49" width="3.86" height="3.74" fill="#fbe920"/>
<rect x="214.37" y="87.49" width="3.86" height="3.74" fill="#faf21a"/>
<rect x="217.24" y="87.49" width="3.86" height="3.74" fill="#2e86f7"/>
<rect x="220.10" y="87.49" width="3.86" height="3.74" fill="#298df2"/>
<rect x="222.96" y="87.49" width="3.86" height="3.74" fill="#4545de"/>
<rect x="225.82" y="87.49" width="3.86" height="3.74" fill="#4548e3"/>
<rect x="228.68" y="87.49" width="3.86" height="3.74" fill="#2692ee"/>
<rect x="231.55" y="87.49" width="3.86" height="3.74" fill="#faf11b"/>
<rect x="234.41" y="87.49" width="3.86" height="3.74" fill="#faef1c"/>
<rect x="237.27" y="87.49" width="3.86" height="3.74" fill="#f9fa15"/>
<rect x="240.13" y="87.49" width="3.86" height="3.74" fill="#fbeb1f"/>
<rect x="242.99" y="87.49" width="3.86" height="3.74" fill="#faf519"/>
<rect x="245.86" y="87.49" width="3.86" height="3.74" fill="#faef1c"/>
<rect x="248.72" y="87.49" width="3.86" height="3.74" fill="#faf618"/>
<rect x="251.58" y="87.49" width="3.86" height="3.74" fill="#3970f6"/>
<rect x="254.44" y="87.49" width="3.86" height="3.74" fill="#2298e9"/>
<rect x="257.30" y="87.49" width="3.86" height="3.74" fill="#337cf6"/>
<rect x="260.17" y="87.49" width="3.86" height="3.74" fill="#3b6cf6"/>
<rect x="263.03" y="87.49" width="3.86" height="3.74" fill="#3578f6"/>
<rect x="265.89" y="87.49" width="3.86" height="3.74" fill="#327ef6"/>
<rect x="268.75" y="87.49" width="3.86" height="3.74" fill="#3c6af5"/>
<rect x="271.61" y="87.49" width="3.86" height="3.74" fill="#317ff7"/>
<rect x="274.48" y="87.49" width="3.86" height="3.74" fill="#317ff7"/>
<rect x="277.34" y="87.49" width="3.86" height="3.74" fill="#2a8cf3"/>
<rect x="137.10" y="90.23" width="3.86" height="3.74" fill="#337cf6"/>
<rect x="139.96" y="90.23" width="3.86" height="3.74" fill="#faec1e"/>
<rect x="142.82" y="90.23" width="3.86" height="3.74" fill="#fbeb1f"/>
<rect x="145.69" y="90.23" width="3.86" height="3.74" fill="#faf618"/>
<rect x="148.55" y="90.23" width="3.86" height="3.74" fill="#f9fa15"/>
<rect x="151.41" y="90.23" width="3.86" height="3.74" fill="#faf11b"/>
<rect x="154.27" y="90.23" width="3.86" height="3.74" fill="#fbeb1f"/>
<rect x="157.13" y="90.23" width="3.86" height="3.74" fill="#f9f717"/>
<rect x="160.00" y="90.23" width="3.86" height="3.74" fill="#faef1c"/>
<rect x="162.86" y="90.23" width="3.86" height="3.74" fill="#f9c438"/>
<rect x="165.72" y="90.23" width="3.86" height="3.74" fill="#f6c438"/>
<rect x="168.58" y="90.23" width="3.86" height="3.74" fill="#fdd030"/>
<rect x="171.44" y="90.23" width="3.86" height="3.74" fill="#2791ef"/>
<rect x="174.31" y="90.23" width="3.86" height="3.74" fill="#fdcc32"/>
<rect x="177.17" y="90.23" width="3.86" height="3.74" fill="#fec735"/>
<rect x="180.03" y="90.23" width="3.86" height="3.74" fill="#feca34"/>
<rect x="182.89" y="90.23" width="3.86" height="3.74" fill="#1cb8c4"/>
<rect x="185.75" y="90.23" width="3.86" height="3.74" fill="#32c5a0"/>
<rect x="188.62" y="90.23" width="3.86" height="3.74" fill="#20babe"/>
<rect x="191.48" y="90.23" width="3.86" height="3.74" fill="#fdcc32"/>
<rect x="194.34" y="90.23" width="3.86" height="3.74" fill="#2791ef"/>
<rect x="197.20" y="90.23" width="3.86" height="3.74" fill="#2791ef"/>
<rect x="200.06" y="90.23" width="3.86" height="3.74" fill="#3082f7"/>
<rect x="202.93" y="90.23" width="3.86" height="3.74" fill="#3579f6"/>
<rect x="205.79" y="90.23" width="3.86" height="3.74" fill="#2e86f7"/>
<rect x="208.65" y="90.23" width="3.86" height="3.74" fill="#3970f6"/>
<rect x="211.51" y="90.23" width="3.86" height="3.74" fill="#2692ee"/>
<rect x="214.37" y="90.23" width="3.86" height="3.74" fill="#faee1d"/>
<rect x="217.24" y="90.23" width="3.86" height="3.74" fill="#f9f816"/>
<rect x="220.10" y="90.23" width="3.86" height="3.74" fill="#faec1e"/>
<rect x="222.96" y="90.23" width="3.86" height="3.74" fill="#327df6"/>
<rect x="225.82" y="90.23" width="3.86" height="3.74" fill="#3677f6"/>
<rect x="228.68" y="90.23" width="3.86" height="3.74" fill="#faef1c"/>
<rect x="231.55" y="90.23" width="3.86" height="3.74" fill="#fbea1f"/>
<rect x="234.41" y="90.23" width="3.86" height="3.74" fill="#fbe721"/>
<rect x="237.27" y="90.23" width="3.86" height="3.74" fill="#faf518"/>
<rect x="240.13" y="90.23" width="3.86" height="3.74" fill="#faec1e"/>
<rect x="242.99" y="90.23" width="3.86" height="3.74" fill="#fbec1e"/>
<rect x="245.86" y="90.23" width="3.86" height="3.74" fill="#faed1e"/>
<rect x="248.72" y="90.23" width="3.86" height="3.74" fill="#3082f7"/>
<rect x="251.58" y="90.23" width="3.86" height="3.74" fill="#3180f7"/>
<rect x="254.44" y="90.23" width="3.86" height="3.74" fill="#2c8af5"/>
<rect x="257.30" y="90.23" width="3.86" height="3.74" fill="#2b8bf4"/>
<rect x="260.17" y="90.23" width="3.86" height="3.74" fill="#337cf6"/>
<rect x="263.03" y="90.23" width="3.86" height="3.74" fill="#2496eb"/>
<rect x="265.89" y="90.23" width="3.86" height="3.74" fill="#474dec"/>
<rect x="268.75" y="90.23" width="3.86" height="3.74" fill="#3b6cf6"/>
<rect x="271.61" y="90.23" width="3.86" height="3.74" fill="#2692ee"/>
<rect x="274.48" y="90.23" width="3.86" height="3.74" fill="#2495ec"/>
<rect x="277.34" y="90.23" width="3.86" height="3.74" fill="#2890f0"/>
<rect x="137.10" y="92.98" width="3.86" height="3.74" fill="#3971f6"/>
<rect x="139.96" y="92.98" width="3.86" height="3.74" fill="#2692ee"/>
<rect x="142.82" y="92.98" width="3.86" height="3.74" fill="#faf319"/>
<rect x="145.69" y="92.98" width="3.86" height="3.74" fill="#fbe721"/>
<rect x="148.55" y="92.98" width="3.86" height="3.74" fill="#fbe721"/>
<rect x="151.41" y="92.98" width="3.86" height="3.74" fill="#f9fa15"/>
<rect x="154.27" y="92.98" width="3.86" height="3.74" fill="#faf419"/>
<rect x="157.13" y="92.98" width="3.86" height="3.74" fill="#fbec1e"/>
<rect x="160.00" y="92.98" width="3.86" height="3.74" fill="#84c759"/>
<rect x="162.86" y="92.98" width="3.86" height="3.74" fill="#f6c438"/>
<rect x="165.72" y="92.98" width="3.86" height="3.74" fill="#fac338"/>
<rect x="168.58" y="92.98" width="3.86" height="3.74" fill="#fdd030"/>
<rect x="171.44" y="92.98" width="3.86" height="3.74" fill="#fec438"/>
<rect x="174.31" y="92.98" width="3.86" height="3.74" fill="#3871f6"/>
<rect x="177.17" y="92.98" width="3.86" height="3.74" fill="#2495ec"/>
<rect x="180.03" y="92.98" width="3.86" height="3.74" fill="#fdd12f"/>
<rect x="182.89" y="92.98" width="3.86" height="3.74" fill="#f7c438"/>
<rect x="185.75" y="92.98" width="3.86" height="3.74" fill="#bac639"/>
<rect x="188.62" y="92.98" width="3.86" height="3.74" fill="#aac73a"/>
<rect x="191.48" y="92.98" width="3.86" height="3.74" fill="#2cc1a9"/>
<rect x="194.34" y="92.98" width="3.86" height="3.74" fill="#2b8bf4"/>
<rect x="197.20" y="92.98" width="3.86" height="3.74" fill="#2495ec"/>
<rect x="200.06" y="92.98" width="3.86" height="3.74" fill="#2790f0"/>
<rect x="202.93" y="92.98" width="3.86" height="3.74" fill="#2692ee"/>
<rect x="205.79" y="92.98" width="3.86" height="3.74" fill="#3774f6"/>
<rect x="208.65" y="92.98" width="3.86" height="3.74" fill="#2a8cf3"/>
<rect x="211.51" y="92.98" width="3.86" height="3.74" fill="#2e85f7"/>
<rect x="214.37" y="92.98" width="3.86" height="3.74" fill="#faf618"/>
<rect x="217.24" y="92.98" width="3.86" height="3.74" fill="#faf01c"/>
<rect x="220.10" y="92.98" width="3.86" height="3.74" fill="#f9f916"/>
<rect x="222.96" y="92.98" width="3.86" height="3.74" fill="#faf21a"/>
<rect x="225.82" y="92.98" width="3.86" height="3.74" fill="#faec1e"/>
<rect x="228.68" y="92.98" width="3.86" height="3.74" fill="#fbeb1e"/>
<rect x="231.55" y="92.98" width="3.86" height="3.74" fill="#fbe920"/>
<rect x="234.41" y="92.98" width="3.86" height="3.74" fill="#faf11b"/>
<rect x="237.27" y="92.98" width="3.86" height="3.74" fill="#fbe821"/>
<rect x="240.13" y="92.98" width="3.86" height="3.74" fill="#faf01b"/>
<rect x="242.99" y="92.98" width="3.86" height="3.74" fill="#fbea20"/>
<rect x="245.86" y="92.98" width="3.86" height="3.74" fill="#faf11b"/>
<rect x="248.72" y="92.98" width="3.86" height="3.74" fill="#2f83f7"/>
<rect x="251.58" y="92.98" width="3.86" height="3.74" fill="#2e86f7"/>
<rect x="254.44" y="92.98" width="3.86" height="3.74" fill="#2593ed"/>
<rect x="257.30" y="92.98" width="3.86" height="3.74" fill="#3c6af5"/>
<rect x="260.17" y="92.98" width="3.86" height="3.74" fill="#2692ee"/>
<rect x="263.03" y="92.98" width="3.86" height="3.74" fill="#3082f7"/>
<rect x="265.89" y="92.98" width="3.86" height="3.74" fill="#2e87f7"/>
<rect x="268.75" y="92.98" width="3.86" height="3.74" fill="#2b8bf4"/>
<rect x="271.61" y="92.98" width="3.86" height="3.74" fill="#2692ee"/>
<rect x="274.48" y="92.98" width="3.86" height="3.74" fill="#327df6"/>
<rect x="277.34" y="92.98" width="3.86" height="3.74" fill="#317ff7"/>
<rect x="137.10" y="95.72" width="3.86" height="3.74" fill="#2397ea"/>
<rect x="139.96" y="95.72" width="3.86" height="3.74" fill="#3a6df6"/>
<rect x="142.82" y="95.72" width="3.86" height="3.74" fill="#2c8af5"/>
<rect x="145.69" y="95.72" width="3.86" height="3.74" fill="#faf419"/>
<rect x="148.55" y="95.72" width="3.86" height="3.74" fill="#fbe721"/>
<rect x="151.41" y="95.72" width="3.86" height="3.74" fill="#faf31a"/>
<rect x="154.27" y="95.72" width="3.86" height="3.74" fill="#faf419"/>
<rect x="157.13" y="95.72" width="3.86" height="3.74" fill="#f9fa15"/>
<rect x="160.00" y="95.72" width="3.86" height="3.74" fill="#faed1d"/>
<rect x="162.86" y="95.72" width="3.86" height="3.74" fill="#fcd62c"/>
<rect x="165.72" y="95.72" width="3.86" height="3.74" fill="#fec935"/>
<rect x="168.58" y="95.72" width="3.86" height="3.74" fill="#fec835"/>
<rect x="171.44" y="95.72" width="3.86" height="3.74" fill="#fdd42e"/>
<rect x="174.31" y="95.72" width="3.86" height="3.74" fill="#3b6bf6"/>
<rect x="177.17" y="95.72" width="3.86" height="3.74" fill="#faf518"/>
<rect x="180.03" y="95.72" width="3.86" height="3.74" fill="#fdcc33"/>
<rect x="182.89" y="95.72" width="3.86" height="3.74" fill="#fec438"/>
<rect x="185.75" y="95.72" width="3.86" height="3.74" fill="#fdd32e"/>
<rect x="188.62" y="95.72" width="3.86" height="3.74" fill="#fec437"/>
<rect x="191.48" y="95.72" width="3.86" height="3.74" fill="#23bcb8"/>
<rect x="194.34" y="95.72" width="3.86" height="3.74" fill="#25bdb6"/>
<rect x="197.20" y="95.72" width="3.86" height="3.74" fill="#288ff0"/>
<rect x="200.06" y="95.72" width="3.86" height="3.74" fill="#3774f6"/>
<rect x="202.93" y="95.72" width="3.86" height="3.74" fill="#3180f7"/>
<rect x="205.79" y="95.72" width="3.86" height="3.74" fill="#317ff7"/>
<rect x="208.65" y="95.72" width="3.86" height="3.74" fill="#2e86f7"/>
<rect x="211.51" y="95.72" width="3.86" height="3.74" fill="#fdd22f"/>
<rect x="214.37" y="95.72" width="3.86" height="3.74" fill="#fdc338"/>
<rect x="217.24" y="95.72" width="3.86" height="3.74" fill="#fdd22f"/>
<rect x="220.10" y="95.72" width="3.86" height="3.74" fill="#fec637"/>
<rect x="222.96" y="95.72" width="3.86" height="3.74" fill="#faf11b"/>
<rect x="225.82" y="95.72" width="3.86" height="3.74" fill="#faec1e"/>
<rect x="228.68" y="95.72" width="3.86" height="3.74" fill="#faf11b"/>
<rect x="231.55" y="95.72" width="3.86" height="3.74" fill="#f9fa15"/>
<rect x="234.41" y="95.72" width="3.86" height="3.74" fill="#faf419"/>
<rect x="237.27" y="95.72" width="3.86" height="3.74" fill="#f9f717"/>
<rect x="240.13" y="95.72" width="3.86" height="3.74" fill="#faed1d"/>
<rect x="242.99" y="95.72" width="3.86" height="3.74" fill="#faed1d"/>
<rect x="245.86" y="95.72" width="3.86" height="3.74" fill="#3479f6"/>
<rect x="248.72" y="95.72" width="3.86" height="3.74" fill="#2d88f6"/>
<rect x="251.58" y="95.72" width="3.86" height="3.74" fill="#2c8af5"/>
<rect x="254.44" y="95.72" width="3.86" height="3.74" fill="#2890f0"/>
<rect x="257.30" y="95.72" width="3.86" height="3.74" fill="#3b6cf6"/>
<rect x="260.17" y="95.72" width="3.86" height="3.74" fill="#298df2"/>
<rect x="263.03" y="95.72" width="3.86" height="3.74" fill="#2594ed"/>
<rect x="265.89" y="95.72" width="3.86" height="3.74" fill="#2e86f7"/>
<rect x="268.75" y="95.72" width="3.86" height="3.74" fill="#3b6cf6"/>
<rect x="271.61" y="95.72" width="3.86" height="3.74" fill="#3479f6"/>
<rect x="274.48" y="95.72" width="3.86" height="3.74" fill="#3c6af5"/>
<rect x="277.34" y="95.72" width="3.86" height="3.74" fill="#3773f6"/>
<rect x="137.10" y="98.46" width="3.86" height="3.74" fill="#2496eb"/>
<rect x="139.96" y="98.46" width="3.86" height="3.74" fill="#2c89f6"/>
<rect x="142.82" y="98.46" width="3.86" height="3.74" fill="#2b8bf4"/>
<rect x="145.69" y="98.46" width="3.86" height="3.74" fill="#2790f0"/>
<rect x="148.55" y="98.46" width="3.86" height="3.74" fill="#f9f916"/>
<rect x="151.41" y="98.46" width="3.86" height="3.74" fill="#faf31a"/>
<rect x="154.27" y="98.46" width="3.86" height="3.74" fill="#faf319"/>
<rect x="157.13" y="98.46" width="3.86" height="3.74" fill="#faf319"/>
<rect x="160.00" y="98.46" width="3.86" height="3.74" fill="#faf518"/>
<rect x="162.86" y="98.46" width="3.86" height="3.74" fill="#fecb33"/>
<rect x="165.72" y="98.46" width="3.86" height="3.74" fill="#fdce32"/>
<rect x="168.58" y="98.46" width="3.86" height="3.74" fill="#f9c438"/>
<rect x="171.44" y="98.46" width="3.86" height="3.74" fill="#fdcd32"/>
<rect x="174.31" y="98.46" width="3.86" height="3.74" fill="#3081f7"/>
<rect x="177.17" y="98.46" width="3.86" height="3.74" fill="#288ff1"/>
<rect x="180.03" y="98.46" width="3.86" height="3.74" fill="#f5c438"/>
<rect x="182.89" y="98.46" width="3.86" height="3.74" fill="#f8c438"/>
<rect x="185.75" y="98.46" width="3.86" height="3.74" fill="#f2c438"/>
<rect x="188.62" y="98.46" width="3.86" height="3.74" fill="#fdd030"/>
<rect x="191.48" y="98.46" width="3.86" height="3.74" fill="#30c4a3"/>
<rect x="194.34" y="98.46" width="3.86" height="3.74" fill="#29bfaf"/>
<rect x="197.20" y="98.46" width="3.86" height="3.74" fill="#337df6"/>
<rect x="200.06" y="98.46" width="3.86" height="3.74" fill="#2692ef"/>
<rect x="202.93" y="98.46" width="3.86" height="3.74" fill="#2790f0"/>
<rect x="205.79" y="98.46" width="3.86" height="3.74" fill="#2e87f7"/>
<rect x="208.65" y="98.46" width="3.86" height="3.74" fill="#3577f6"/>
<rect x="211.51" y="98.46" width="3.86" height="3.74" fill="#fdc338"/>
<rect x="214.37" y="98.46" width="3.86" height="3.74" fill="#fec636"/>
<rect x="217.24" y="98.46" width="3.86" height="3.74" fill="#fec338"/>
<rect x="220.10" y="98.46" width="3.86" height="3.74" fill="#fec636"/>
<rect x="222.96" y="98.46" width="3.86" height="3.74" fill="#faf419"/>
<rect x="225.82" y="98.46" width="3.86" height="3.74" fill="#f9fa15"/>
<rect x="228.68" y="98.46" width="3.86" height="3.74" fill="#fbe821"/>
<rect x="231.55" y="98.46" width="3.86" height="3.74" fill="#faf21a"/>
<rect x="234.41" y="98.46" width="3.86" height="3.74" fill="#fbe721"/>
<rect x="237.27" y="98.46" width="3.86" height="3.74" fill="#fbe920"/>
<rect x="240.13" y="98.46" width="3.86" height="3.74" fill="#2791ef"/>
<rect x="242.99" y="98.46" width="3.86" height="3.74" fill="#2d87f7"/>
<rect x="245.86" y="98.46" width="3.86" height="3.74" fill="#2496eb"/>
<rect x="248.72" y="98.46" width="3.86" height="3.74" fill="#3181f7"/>
<rect x="251.58" y="98.46" width="3.86" height="3.74" fill="#3c6af5"/>
<rect x="254.44" y="98.46" width="3.86" height="3.74" fill="#327ef6"/>
<rect x="257.30" y="98.46" width="3.86" height="3.74" fill="#2d88f6"/>
<rect x="260.17" y="98.46" width="3.86" height="3.74" fill="#2396eb"/>
<rect x="263.03" y="98.46" width="3.86" height="3.74" fill="#2298e9"/>
<rect x="265.89" y="98.46" width="3.86" height="3.74" fill="#3082f7"/>
<rect x="268.75" y="98.46" width="3.86" height="3.74" fill="#317ff6"/>
<rect x="271.61" y="98.46" width="3.86" height="3.74" fill="#396ff6"/>
<rect x="274.48" y="98.46" width="3.86" height="3.74" fill="#2b8af4"/>
<rect x="277.34" y="98.46" width="3.86" height="3.74" fill="#3775f6"/>
<rect x="137.10" y="101.21" width="3.86" height="3.74" fill="#3871f6"/>
<rect x="139.96" y="101.21" width="3.86" height="3.74" fill="#3c6af5"/>
<rect x="142.82" y="101.21" width="3.86" height="3.74" fill="#3c6af5"/>
<rect x="145.69" y="101.21" width="3.86" height="3.74" fill="#2a8cf3"/>
<rect x="148.55" y="101.21" width="3.86" height="3.74" fill="#fbe920"/>
<rect x="151.41" y="101.21" width="3.86" height="3.74" fill="#f9fa15"/>
<rect x="154.27" y="101.21" width="3.86" height="3.74" fill="#fbe820"/>
<rect x="157.13" y="101.21" width="3.86" height="3.74" fill="#f9f816"/>
<rect x="160.00" y="101.21" width="3.86" height="3.74" fill="#fbe920"/>
<rect x="162.86" y="101.21" width="3.86" height="3.74" fill="#f1c438"/>
<rect x="165.72" y="101.21" width="3.86" height="3.74" fill="#fdcf31"/>
<rect x="168.58" y="101.21" width="3.86" height="3.74" fill="#fbc338"/>
<rect x="171.44" y="101.21" width="3.86" height="3.74" fill="#fdcf31"/>
<rect x="174.31" y="101.21" width="3.86" height="3.74" fill="#f8c438"/>
<rect x="177.17" y="101.21" width="3.86" height="3.74" fill="#f2c438"/>
<rect x="180.03" y="101.21" width="3.86" height="3.74" fill="#fdd030"/>
<rect x="182.89" y="101.21" width="3.86" height="3.74" fill="#b0c739"/>
<rect x="185.75" y="101.21" width="3.86" height="3.74" fill="#fdd32e"/>
<rect x="188.62" y="101.21" width="3.86" height="3.74" fill="#fdcf31"/>
<rect x="191.48" y="101.21" width="3.86" height="3.74" fill="#18b5cb"/>
<rect x="194.34" y="101.21" width="3.86" height="3.74" fill="#28bfb1"/>
<rect x="197.20" y="101.21" width="3.86" height="3.74" fill="#2ac0ad"/>
<rect x="200.06" y="101.21" width="3.86" height="3.74" fill="#3081f7"/>
<rect x="202.93" y="101.21" width="3.86" height="3.74" fill="#2396eb"/>
<rect x="205.79" y="101.21" width="3.86" height="3.74" fill="#3677f6"/>
<rect x="208.65" y="101.21" width="3.86" height="3.74" fill="#2398ea"/>
<rect x="211.51" y="101.21" width="3.86" height="3.74" fill="#fdcf31"/>
<rect x="214.37" y="101.21" width="3.86" height="3.74" fill="#f1c438"/>
<rect x="217.24" y="101.21" width="3.86" height="3.74" fill="#f1c438"/>
<rect x="220.10" y="101.21" width="3.86" height="3.74" fill="#fdcd32"/>
<rect x="222.96" y="101.21" width="3.86" height="3.74" fill="#f9f717"/>
<rect x="225.82" y="101.21" width="3.86" height="3.74" fill="#83c75a"/>
<rect x="228.68" y="101.21" width="3.86" height="3.74" fill="#faed1d"/>
<rect x="231.55" y="101.21" width="3.86" height="3.74" fill="#faf518"/>
<rect x="234.41" y="101.21" width="3.86" height="3.74" fill="#f7c438"/>
<rect x="237.27" y="101.21" width="3.86" height="3.74" fill="#b8c639"/>
<rect x="240.13" y="101.21" width="3.86" height="3.74" fill="#a1c741"/>
<rect x="242.99" y="101.21" width="3.86" height="3.74" fill="#3b6df6"/>
<rect x="245.86" y="101.21" width="3.86" height="3.74" fill="#337df6"/>
<rect x="248.72" y="101.21" width="3.86" height="3.74" fill="#2d87f7"/>
<rect x="251.58" y="101.21" width="3.86" height="3.74" fill="#3180f7"/>
<rect x="254.44" y="101.21" width="3.86" height="3.74" fill="#2a8cf3"/>
<rect x="257.30" y="101.21" width="3.86" height="3.74" fill="#3871f6"/>
<rect x="260.17" y="101.21" width="3.86" height="3.74" fill="#2791ef"/>
<rect x="263.03" y="101.21" width="3.86" height="3.74" fill="#337cf6"/>
<rect x="265.89" y="101.21" width="3.86" height="3.74" fill="#2b8af4"/>
<rect x="268.75" y="101.21" width="3.86" height="3.74" fill="#2c8af5"/>
<rect x="271.61" y="101.21" width="3.86" height="3.74" fill="#317ff7"/>
<rect x="274.48" y="101.21" width="3.86" height="3.74" fill="#327ef6"/>
<rect x="277.34" y="101.21" width="3.86" height="3.74" fill="#2790f0"/>
<rect x="137.10" y="103.95" width="3.86" height="3.74" fill="#2397eb"/>
<rect x="139.96" y="103.95" width="3.86" height="3.74" fill="#2890f0"/>
<rect x="142.82" y="103.95" width="3.86" height="3.74" fill="#2e87f7"/>
<rect x="145.69" y="103.95" width="3.86" height="3.74" fill="#3579f6"/>
<rect x="148.55" y="103.95" width="3.86" height="3.74" fill="#3b6df6"/>
<rect x="151.41" y="103.95" width="3.86" height="3.74" fill="#f9fa15"/>
<rect x="154.27" y="103.95" width="3.86" height="3.74" fill="#faf518"/>
<rect x="157.13" y="103.95" width="3.86" height="3.74" fill="#f9f717"/>
<rect x="160.00" y="103.95" width="3.86" height="3.74" fill="#faed1d"/>
<rect x="162.86" y="103.95" width="3.86" height="3.74" fill="#fdcb33"/>
<rect x="165.72" y="103.95" width="3.86" height="3.74" fill="#fcd62c"/>
<rect x="168.58" y="103.95" width="3.86" height="3.74" fill="#fdd22f"/>
<rect x="171.44" y="103.95" width="3.86" height="3.74" fill="#fdcb33"/>
<rect x="174.31" y="103.95" width="3.86" height="3.74" fill="#fec338"/>
<rect x="177.17" y="103.95" width="3.86" height="3.74" fill="#fec636"/>
<rect x="180.03" y="103.95" width="3.86" height="3.74" fill="#bac639"/>
<rect x="182.89" y="103.95" width="3.86" height="3.74" fill="#99c748"/>
<rect x="185.75" y="103.95" width="3.86" height="3.74" fill="#fdce31"/>
<rect x="188.62" y="103.95" width="3.86" height="3.74" fill="#fdcb33"/>
<rect x="191.48" y="103.95" width="3.86" height="3.74" fill="#30c3a4"/>
<rect x="194.34" y="103.95" width="3.86" height="3.74" fill="#2dc2a8"/>
<rect x="197.20" y="103.95" width="3.86" height="3.74" fill="#1eb9c2"/>
<rect x="200.06" y="103.95" width="3.86" height="3.74" fill="#f0c438"/>
<rect x="202.93" y="103.95" width="3.86" height="3.74" fill="#3577f6"/>
<rect x="205.79" y="103.95" width="3.86" height="3.74" fill="#317ff7"/>
<rect x="208.65" y="103.95" width="3.86" height="3.74" fill="#2d88f6"/>
<rect x="211.51" y="103.95" width="3.86" height="3.74" fill="#fdd12f"/>
<rect x="214.37" y="103.95" width="3.86" height="3.74" fill="#fdd42e"/>
<rect x="217.24" y="103.95" width="3.86" height="3.74" fill="#f2c438"/>
<rect x="220.10" y="103.95" width="3.86" height="3.74" fill="#fdd22f"/>
<rect x="222.96" y="103.95" width="3.86" height="3.74" fill="#f9f717"/>
<rect x="225.82" y="103.95" width="3.86" height="3.74" fill="#f9f816"/>
<rect x="228.68" y="103.95" width="3.86" height="3.74" fill="#feca34"/>
<rect x="231.55" y="103.95" width="3.86" height="3.74" fill="#fcc338"/>
<rect x="234.41" y="103.95" width="3.86" height="3.74" fill="#fdd22e"/>
<rect x="237.27" y="103.95" width="3.86" height="3.74" fill="#fdd12f"/>
<rect x="240.13" y="103.95" width="3.86" height="3.74" fill="#afc739"/>
<rect x="242.99" y="103.95" width="3.86" height="3.74" fill="#2495ec"/>
<rect x="245.86" y="103.95" width="3.86" height="3.74" fill="#337cf6"/>
<rect x="248.72" y="103.95" width="3.86" height="3.74" fill="#3a6ef6"/>
<rect x="251.58" y="103.95" width="3.86" height="3.74" fill="#2e86f7"/>
<rect x="254.44" y="103.95" width="3.86" height="3.74" fill="#2791ef"/>
<rect x="257.30" y="103.95" width="3.86" height="3.74" fill="#3774f6"/>
<rect x="260.17" y="103.95" width="3.86" height="3.74" fill="#288ff1"/>
<rect x="263.03" y="103.95" width="3.86" height="3.74" fill="#2396eb"/>
<rect x="265.89" y="103.95" width="3.86" height="3.74" fill="#3676f6"/>
<rect x="268.75" y="103.95" width="3.86" height="3.74" fill="#2c89f6"/>
<rect x="271.61" y="103.95" width="3.86" height="3.74" fill="#2a8cf3"/>
<rect x="274.48" y="103.95" width="3.86" height="3.74" fill="#3082f7"/>
<rect x="277.34" y="103.95" width="3.86" height="3.74" fill="#3774f6"/>
<rect x="137.10" y="106.70" width="3.86" height="3.74" fill="#3677f6"/>
<rect x="139.96" y="106.70" width="3.86" height="3.74" fill="#288ff1"/>
<rect x="142.82" y="106.70" width="3.86" height="3.74" fill="#2790f0"/>
<rect x="145.69" y="106.70" width="3.86" height="3.74" fill="#3081f7"/>
<rect x="148.55" y="106.70" width="3.86" height="3.74" fill="#3a6ef6"/>
<rect x="151.41" y="106.70" width="3.86" height="3.74" fill="#f9f717"/>
<rect x="154.27" y="106.70" width="3.86" height="3.74" fill="#faf617"/>
<rect x="157.13" y="106.70" width="3.86" height="3.74" fill="#fbeb1e"/>
<rect x="160.00" y="106.70" width="3.86" height="3.74" fill="#faf21a"/>
<rect x="162.86" y="106.70" width="3.86" height="3.74" fill="#f9f916"/>
<rect x="165.72" y="106.70" width="3.86" height="3.74" fill="#f9f916"/>
<rect x="168.58" y="106.70" width="3.86" height="3.74" fill="#faf11b"/>
<rect x="171.44" y="106.70" width="3.86" height="3.74" fill="#fec835"/>
<rect x="174.31" y="106.70" width="3.86" height="3.74" fill="#fecb33"/>
<rect x="177.17" y="106.70" width="3.86" height="3.74" fill="#f8c438"/>
<rect x="180.03" y="106.70" width="3.86" height="3.74" fill="#8bc753"/>
<rect x="182.89" y="106.70" width="3.86" height="3.74" fill="#8ac754"/>
<rect x="185.75" y="106.70" width="3.86" height="3.74" fill="#b0c739"/>
<rect x="188.62" y="106.70" width="3.86" height="3.74" fill="#fec437"/>
<rect x="191.48" y="106.70" width="3.86" height="3.74" fill="#feca34"/>
<rect x="194.34" y="106.70" width="3.86" height="3.74" fill="#9bc746"/>
<rect x="197.20" y="106.70" width="3.86" height="3.74" fill="#a4c73f"/>
<rect x="200.06" y="106.70" width="3.86" height="3.74" fill="#88c756"/>
<rect x="202.93" y="106.70" width="3.86" height="3.74" fill="#f2c438"/>
<rect x="205.79" y="106.70" width="3.86" height="3.74" fill="#fcd72c"/>
<rect x="208.65" y="106.70" width="3.86" height="3.74" fill="#327df6"/>
<rect x="211.51" y="106.70" width="3.86" height="3.74" fill="#396ff6"/>
<rect x="214.37" y="106.70" width="3.86" height="3.74" fill="#fdcc32"/>
<rect x="217.24" y="106.70" width="3.86" height="3.74" fill="#fdd130"/>
<rect x="220.10" y="106.70" width="3.86" height="3.74" fill="#fbea1f"/>
<rect x="222.96" y="106.70" width="3.86" height="3.74" fill="#faf31a"/>
<rect x="225.82" y="106.70" width="3.86" height="3.74" fill="#faee1d"/>
<rect x="228.68" y="106.70" width="3.86" height="3.74" fill="#fec934"/>
<rect x="231.55" y="106.70" width="3.86" height="3.74" fill="#f1c438"/>
<rect x="234.41" y="106.70" width="3.86" height="3.74" fill="#f2c438"/>
<rect x="237.27" y="106.70" width="3.86" height="3.74" fill="#bfc639"/>
<rect x="240.13" y="106.70" width="3.86" height="3.74" fill="#474eec"/>
<rect x="242.99" y="106.70" width="3.86" height="3.74" fill="#4545dd"/>
<rect x="245.86" y="106.70" width="3.86" height="3.74" fill="#4547e0"/>
<rect x="248.72" y="106.70" width="3.86" height="3.74" fill="#3577f6"/>
<rect x="251.58" y="106.70" width="3.86" height="3.74" fill="#2890f0"/>
<rect x="254.44" y="106.70" width="3.86" height="3.74" fill="#3180f7"/>
<rect x="257.30" y="106.70" width="3.86" height="3.74" fill="#2397eb"/>
<rect x="260.17" y="106.70" width="3.86" height="3.74" fill="#288ff0"/>
<rect x="263.03" y="106.70" width="3.86" height="3.74" fill="#2791ef"/>
<rect x="265.89" y="106.70" width="3.86" height="3.74" fill="#2397ea"/>
<rect x="268.75" y="106.70" width="3.86" height="3.74" fill="#3677f6"/>
<rect x="271.61" y="106.70" width="3.86" height="3.74" fill="#3b6bf6"/>
<rect x="274.48" y="106.70" width="3.86" height="3.74" fill="#3774f6"/>
<rect x="277.34" y="106.70" width="3.86" height="3.74" fill="#3773f6"/>
<rect x="137.10" y="109.44" width="3.86" height="3.74" fill="#3a6ef6"/>
<rect x="139.96" y="109.44" width="3.86" height="3.74" fill="#3b6cf6"/>
<rect x="142.82" y="109.44" width="3.86" height="3.74" fill="#2e86f7"/>
<rect x="145.69" y="109.44" width="3.86" height="3.74" fill="#2594ed"/>
<rect x="148.55" y="109.44" width="3.86" height="3.74" fill="#3081f7"/>
<rect x="151.41" y="109.44" width="3.86" height="3.74" fill="#f9fa15"/>
<rect x="154.27" y="109.44" width="3.86" height="3.74" fill="#f9f916"/>
<rect x="157.13" y="109.44" width="3.86" height="3.74" fill="#fbe821"/>
<rect x="160.00" y="109.44" width="3.86" height="3.74" fill="#faf31a"/>
<rect x="162.86" y="109.44" width="3.86" height="3.74" fill="#faef1c"/>
<rect x="165.72" y="109.44" width="3.86" height="3.74" fill="#fbe920"/>
<rect x="168.58" y="109.44" width="3.86" height="3.74" fill="#f9fa15"/>
<rect x="171.44" y="109.44" width="3.86" height="3.74" fill="#fbc338"/>
<rect x="174.31" y="109.44" width="3.86" height="3.74" fill="#feca34"/>
<rect x="177.17" y="109.44" width="3.86" height="3.74" fill="#acc739"/>
<rect x="180.03" y="109.44" width="3.86" height="3.74" fill="#bdc639"/>
<rect x="182.89" y="109.44" width="3.86" height="3.74" fill="#aec739"/>
<rect x="185.75" y="109.44" width="3.86" height="3.74" fill="#9ac747"/>
<rect x="188.62" y="109.44" width="3.86" height="3.74" fill="#3181f7"/>
<rect x="191.48" y="109.44" width="3.86" height="3.74" fill="#f7c438"/>
<rect x="194.34" y="109.44" width="3.86" height="3.74" fill="#bec639"/>
<rect x="197.20" y="109.44" width="3.86" height="3.74" fill="#bfc639"/>
<rect x="200.06" y="109.44" width="3.86" height="3.74" fill="#8dc751"/>
<rect x="202.93" y="109.44" width="3.86" height="3.74" fill="#f2c438"/>
<rect x="205.79" y="109.44" width="3.86" height="3.74" fill="#fbc338"/>
<rect x="208.65" y="109.44" width="3.86" height="3.74" fill="#fec438"/>
<rect x="211.51" y="109.44" width="3.86" height="3.74" fill="#fdd42d"/>
<rect x="214.37" y="109.44" width="3.86" height="3.74" fill="#fdd42d"/>
<rect x="217.24" y="109.44" width="3.86" height="3.74" fill="#fdd22f"/>
<rect x="220.10" y="109.44" width="3.86" height="3.74" fill="#fbe821"/>
<rect x="222.96" y="109.44" width="3.86" height="3.74" fill="#faf717"/>
<rect x="225.82" y="109.44" width="3.86" height="3.74" fill="#faf518"/>
<rect x="228.68" y="109.44" width="3.86" height="3.74" fill="#fdcd32"/>
<rect x="231.55" y="109.44" width="3.86" height="3.74" fill="#fcd62c"/>
<rect x="234.41" y="109.44" width="3.86" height="3.74" fill="#f3c438"/>
<rect x="237.27" y="109.44" width="3.86" height="3.74" fill="#3871f6"/>
<rect x="240.13" y="109.44" width="3.86" height="3.74" fill="#464be8"/>
<rect x="242.99" y="109.44" width="3.86" height="3.74" fill="#474fef"/>
<rect x="245.86" y="109.44" width="3.86" height="3.74" fill="#4649e5"/>
<rect x="248.72" y="109.44" width="3.86" height="3.74" fill="#3479f6"/>
<rect x="251.58" y="109.44" width="3.86" height="3.74" fill="#2d88f6"/>
<rect x="254.44" y="109.44" width="3.86" height="3.74" fill="#288ff1"/>
<rect x="257.30" y="109.44" width="3.86" height="3.74" fill="#396ff6"/>
<rect x="260.17" y="109.44" width="3.86" height="3.74" fill="#347af6"/>
<rect x="263.03" y="109.44" width="3.86" height="3.74" fill="#3677f6"/>
<rect x="265.89" y="109.44" width="3.86" height="3.74" fill="#3970f6"/>
<rect x="268.75" y="109.44" width="3.86" height="3.74" fill="#3082f7"/>
<rect x="271.61" y="109.44" width="3.86" height="3.74" fill="#3872f6"/>
<rect x="274.48" y="109.44" width="3.86" height="3.74" fill="#3676f6"/>
<rect x="277.34" y="109.44" width="3.86" height="3.74" fill="#3871f6"/>
<rect x="137.10" y="112.18" width="3.86" height="3.74" fill="#2a8cf3"/>
<rect x="139.96" y="112.18" width="3.86" height="3.74" fill="#3c6af5"/>
<rect x="142.82" y="112.18" width="3.86" height="3.74" fill="#298df2"/>
<rect x="145.69" y="112.18" width="3.86" height="3.74" fill="#3774f6"/>
<rect x="148.55" y="112.18" width="3.86" height="3.74" fill="#3b6bf6"/>
<rect x="151.41" y="112.18" width="3.86" height="3.74" fill="#2496eb"/>
<rect x="154.27" y="112.18" width="3.86" height="3.74" fill="#3675f6"/>
<rect x="157.13" y="112.18" width="3.86" height="3.74" fill="#f9fa15"/>
<rect x="160.00" y="112.18" width="3.86" height="3.74" fill="#f9f816"/>
<rect x="162.86" y="112.18" width="3.86" height="3.74" fill="#f9f916"/>
<rect x="165.72" y="112.18" width="3.86" height="3.74" fill="#fbea20"/>
<rect x="168.58" y="112.18" width="3.86" height="3.74" fill="#faf01c"/>
<rect x="171.44" y="112.18" width="3.86" height="3.74" fill="#f4c438"/>
<rect x="174.31" y="112.18" width="3.86" height="3.74" fill="#fdd52d"/>
<rect x="177.17" y="112.18" width="3.86" height="3.74" fill="#b7c639"/>
<rect x="180.03" y="112.18" width="3.86" height="3.74" fill="#fdcc32"/>
<rect x="182.89" y="112.18" width="3.86" height="3.74" fill="#9fc743"/>
<rect x="185.75" y="112.18" width="3.86" height="3.74" fill="#96c74a"/>
<rect x="188.62" y="112.18" width="3.86" height="3.74" fill="#2692ef"/>
<rect x="191.48" y="112.18" width="3.86" height="3.74" fill="#fec835"/>
<rect x="194.34" y="112.18" width="3.86" height="3.74" fill="#acc739"/>
<rect x="197.20" y="112.18" width="3.86" height="3.74" fill="#87c756"/>
<rect x="200.06" y="112.18" width="3.86" height="3.74" fill="#8dc751"/>
<rect x="202.93" y="112.18" width="3.86" height="3.74" fill="#f3c438"/>
<rect x="205.79" y="112.18" width="3.86" height="3.74" fill="#fdcf31"/>
<rect x="208.65" y="112.18" width="3.86" height="3.74" fill="#feca34"/>
<rect x="211.51" y="112.18" width="3.86" height="3.74" fill="#f6c438"/>
<rect x="214.37" y="112.18" width="3.86" height="3.74" fill="#fdd32e"/>
<rect x="217.24" y="112.18" width="3.86" height="3.74" fill="#fcc338"/>
<rect x="220.10" y="112.18" width="3.86" height="3.74" fill="#faef1c"/>
<rect x="222.96" y="112.18" width="3.86" height="3.74" fill="#fbea1f"/>
<rect x="225.82" y="112.18" width="3.86" height="3.74" fill="#faec1e"/>
<rect x="228.68" y="112.18" width="3.86" height="3.74" fill="#fdd22f"/>
<rect x="231.55" y="112.18" width="3.86" height="3.74" fill="#fec438"/>
<rect x="234.41" y="112.18" width="3.86" height="3.74" fill="#f7c438"/>
<rect x="237.27" y="112.18" width="3.86" height="3.74" fill="#4545dd"/>
<rect x="240.13" y="112.18" width="3.86" height="3.74" fill="#4441d6"/>
<rect x="242.99" y="112.18" width="3.86" height="3.74" fill="#474eed"/>
<rect x="245.86" y="112.18" width="3.86" height="3.74" fill="#433cce"/>
<rect x="248.72" y="112.18" width="3.86" height="3.74" fill="#2298ea"/>
<rect x="251.58" y="112.18" width="3.86" height="3.74" fill="#3b6cf6"/>
<rect x="254.44" y="112.18" width="3.86" height="3.74" fill="#2495ec"/>
<rect x="257.30" y="112.18" width="3.86" height="3.74" fill="#2b8bf4"/>
<rect x="260.17" y="112.18" width="3.86" height="3.74" fill="#3774f6"/>
<rect x="263.03" y="112.18" width="3.86" height="3.74" fill="#3082f7"/>
<rect x="265.89" y="112.18" width="3.86" height="3.74" fill="#3578f6"/>
<rect x="268.75" y="112.18" width="3.86" height="3.74" fill="#3577f6"/>
<rect x="271.61" y="112.18" width="3.86" height="3.74" fill="#3774f6"/>
<rect x="274.48" y="112.18" width="3.86" height="3.74" fill="#337cf6"/>
<rect x="277.34" y="112.18" width="3.86" height="3.74" fill="#2299e9"/>
<rect x="137.10" y="114.93" width="3.86" height="3.74" fill="#33c59e"/>
<rect x="139.96" y="114.93" width="3.86" height="3.74" fill="#2496eb"/>
<rect x="142.82" y="114.93" width="3.86" height="3.74" fill="#3a6ff6"/>
<rect x="145.69" y="114.93" width="3.86" height="3.74" fill="#3579f6"/>
<rect x="148.55" y="114.93" width="3.86" height="3.74" fill="#2495ec"/>
<rect x="151.41" y="114.93" width="3.86" height="3.74" fill="#3b6df6"/>
<rect x="154.27" y="114.93" width="3.86" height="3.74" fill="#298ef2"/>
<rect x="157.13" y="114.93" width="3.86" height="3.74" fill="#3579f6"/>
<rect x="160.00" y="114.93" width="3.86" height="3.74" fill="#2298ea"/>
<rect x="162.86" y="114.93" width="3.86" height="3.74" fill="#3c6af5"/>
<rect x="165.72" y="114.93" width="3.86" height="3.74" fill="#2791ef"/>
<rect x="168.58" y="114.93" width="3.86" height="3.74" fill="#faee1d"/>
<rect x="171.44" y="114.93" width="3.86" height="3.74" fill="#f6c438"/>
<rect x="174.31" y="114.93" width="3.86" height="3.74" fill="#f0c438"/>
<rect x="177.17" y="114.93" width="3.86" height="3.74" fill="#fdd22f"/>
<rect x="180.03" y="114.93" width="3.86" height="3.74" fill="#2f85f7"/>
<rect x="182.89" y="114.93" width="3.86" height="3.74" fill="#3773f6"/>
<rect x="185.75" y="114.93" width="3.86" height="3.74" fill="#fec636"/>
<rect x="188.62" y="114.93" width="3.86" height="3.74" fill="#fdd42d"/>
<rect x="191.48" y="114.93" width="3.86" height="3.74" fill="#3675f6"/>
<rect x="194.34" y="114.93" width="3.86" height="3.74" fill="#a8c73c"/>
<rect x="197.20" y="114.93" width="3.86" height="3.74" fill="#87c756"/>
<rect x="200.06" y="114.93" width="3.86" height="3.74" fill="#8ac754"/>
<rect x="202.93" y="114.93" width="3.86" height="3.74" fill="#fdd030"/>
<rect x="205.79" y="114.93" width="3.86" height="3.74" fill="#fdce31"/>
<rect x="208.65" y="114.93" width="3.86" height="3.74" fill="#f9c438"/>
<rect x="211.51" y="114.93" width="3.86" height="3.74" fill="#f4c438"/>
<rect x="214.37" y="114.93" width="3.86" height="3.74" fill="#f4c438"/>
<rect x="217.24" y="114.93" width="3.86" height="3.74" fill="#fdcb33"/>
<rect x="220.10" y="114.93" width="3.86" height="3.74" fill="#faf11b"/>
<rect x="222.96" y="114.93" width="3.86" height="3.74" fill="#faec1e"/>
<rect x="225.82" y="114.93" width="3.86" height="3.74" fill="#fbeb1f"/>
<rect x="228.68" y="114.93" width="3.86" height="3.74" fill="#fdcc33"/>
<rect x="231.55" y="114.93" width="3.86" height="3.74" fill="#fdce31"/>
<rect x="234.41" y="114.93" width="3.86" height="3.74" fill="#2791ef"/>
<rect x="237.27" y="114.93" width="3.86" height="3.74" fill="#2d88f6"/>
<rect x="240.13" y="114.93" width="3.86" height="3.74" fill="#433ed2"/>
<rect x="242.99" y="114.93" width="3.86" height="3.74" fill="#423bcc"/>
<rect x="245.86" y="114.93" width="3.86" height="3.74" fill="#298ef1"/>
<rect x="248.72" y="114.93" width="3.86" height="3.74" fill="#327ff6"/>
<rect x="251.58" y="114.93" width="3.86" height="3.74" fill="#298df2"/>
<rect x="254.44" y="114.93" width="3.86" height="3.74" fill="#3b6cf6"/>
<rect x="257.30" y="114.93" width="3.86" height="3.74" fill="#2791ef"/>
<rect x="260.17" y="114.93" width="3.86" height="3.74" fill="#337bf6"/>
<rect x="263.03" y="114.93" width="3.86" height="3.74" fill="#2692ee"/>
<rect x="265.89" y="114.93" width="3.86" height="3.74" fill="#2593ed"/>
<rect x="268.75" y="114.93" width="3.86" height="3.74" fill="#2f83f7"/>
<rect x="271.61" y="114.93" width="3.86" height="3.74" fill="#3c6af5"/>
<rect x="274.48" y="114.93" width="3.86" height="3.74" fill="#2495ec"/>
<rect x="277.34" y="114.93" width="3.86" height="3.74" fill="#3082f7"/>
<rect x="137.10" y="117.67" width="3.86" height="3.74" fill="#2fc3a5"/>
<rect x="139.96" y="117.67" width="3.86" height="3.74" fill="#1db8c2"/>
<rect x="142.82" y="117.67" width="3.86" height="3.74" fill="#f8c438"/>
<rect x="145.69" y="117.67" width="3.86" height="3.74" fill="#2692ee"/>
<rect x="148.55" y="117.67" width="3.86" height="3.74" fill="#337df6"/>
<rect x="151.41" y="117.67" width="3.86" height="3.74" fill="#3872f6"/>
<rect x="154.27" y="117.67" width="3.86" height="3.74" fill="#337df6"/>
<rect x="157.13" y="117.67" width="3.86" height="3.74" fill="#2d88f6"/>
<rect x="160.00" y="117.67" width="3.86" height="3.74" fill="#3c6af5"/>
<rect x="162.86" y="117.67" width="3.86" height="3.74" fill="#2f84f7"/>
<rect x="165.72" y="117.67" width="3.86" height="3.74" fill="#3181f7"/>
<rect x="168.58" y="117.67" width="3.86" height="3.74" fill="#2f84f7"/>
<rect x="171.44" y="117.67" width="3.86" height="3.74" fill="#3970f6"/>
<rect x="174.31" y="117.67" width="3.86" height="3.74" fill="#464ae6"/>
<rect x="177.17" y="117.67" width="3.86" height="3.74" fill="#464cea"/>
<rect x="180.03" y="117.67" width="3.86" height="3.74" fill="#474eec"/>
<rect x="182.89" y="117.67" width="3.86" height="3.74" fill="#347af6"/>
<rect x="185.75" y="117.67" width="3.86" height="3.74" fill="#fdce31"/>
<rect x="188.62" y="117.67" width="3.86" height="3.74" fill="#fec537"/>
<rect x="191.48" y="117.67" width="3.86" height="3.74" fill="#fdd030"/>
<rect x="194.34" y="117.67" width="3.86" height="3.74" fill="#81c75b"/>
<rect x="197.20" y="117.67" width="3.86" height="3.74" fill="#b9c639"/>
<rect x="200.06" y="117.67" width="3.86" height="3.74" fill="#fdd52c"/>
<rect x="202.93" y="117.67" width="3.86" height="3.74" fill="#fec835"/>
<rect x="205.79" y="117.67" width="3.86" height="3.74" fill="#fec935"/>
<rect x="208.65" y="117.67" width="3.86" height="3.74" fill="#fec934"/>
<rect x="211.51" y="117.67" width="3.86" height="3.74" fill="#faf21b"/>
<rect x="214.37" y="117.67" width="3.86" height="3.74" fill="#fbe721"/>
<rect x="217.24" y="117.67" width="3.86" height="3.74" fill="#fdd62c"/>
<rect x="220.10" y="117.67" width="3.86" height="3.74" fill="#fac338"/>
<rect x="222.96" y="117.67" width="3.86" height="3.74" fill="#fbea1f"/>
<rect x="225.82" y="117.67" width="3.86" height="3.74" fill="#fbe920"/>
<rect x="228.68" y="117.67" width="3.86" height="3.74" fill="#fbec1e"/>
<rect x="231.55" y="117.67" width="3.86" height="3.74" fill="#fdd22f"/>
<rect x="234.41" y="117.67" width="3.86" height="3.74" fill="#3b6bf6"/>
<rect x="237.27" y="117.67" width="3.86" height="3.74" fill="#3a6ff6"/>
<rect x="240.13" y="117.67" width="3.86" height="3.74" fill="#2a8cf3"/>
<rect x="242.99" y="117.67" width="3.86" height="3.74" fill="#3774f6"/>
<rect x="245.86" y="117.67" width="3.86" height="3.74" fill="#3c6af5"/>
<rect x="248.72" y="117.67" width="3.86" height="3.74" fill="#2d88f6"/>
<rect x="251.58" y="117.67" width="3.86" height="3.74" fill="#2d87f7"/>
<rect x="254.44" y="117.67" width="3.86" height="3.74" fill="#2f85f7"/>
<rect x="257.30" y="117.67" width="3.86" height="3.74" fill="#2a8df2"/>
<rect x="260.17" y="117.67" width="3.86" height="3.74" fill="#396ff6"/>
<rect x="263.03" y="117.67" width="3.86" height="3.74" fill="#2594ed"/>
<rect x="265.89" y="117.67" width="3.86" height="3.74" fill="#298df2"/>
<rect x="268.75" y="117.67" width="3.86" height="3.74" fill="#3b6cf6"/>
<rect x="271.61" y="117.67" width="3.86" height="3.74" fill="#3970f6"/>
<rect x="274.48" y="117.67" width="3.86" height="3.74" fill="#2f83f7"/>
<rect x="277.34" y="117.67" width="3.86" height="3.74" fill="#2f83f7"/>
<rect x="137.10" y="120.42" width="3.86" height="3.74" fill="#1eb9c2"/>
<rect x="139.96" y="120.42" width="3.86" height="3.74" fill="#19b6ca"/>
<rect x="142.82" y="120.42" width="3.86" height="3.74" fill="#21bbbc"/>
<rect x="145.69" y="120.42" width="3.86" height="3.74" fill="#f6c438"/>
<rect x="148.55" y="120.42" width="3.86" height="3.74" fill="#fecb33"/>
<rect x="151.41" y="120.42" width="3.86" height="3.74" fill="#fdd32e"/>
<rect x="154.27" y="120.42" width="3.86" height="3.74" fill="#f7c438"/>
<rect x="157.13" y="120.42" width="3.86" height="3.74" fill="#2d87f7"/>
<rect x="160.00" y="120.42" width="3.86" height="3.74" fill="#298ef1"/>
<rect x="162.86" y="120.42" width="3.86" height="3.74" fill="#3872f6"/>
<rect x="165.72" y="120.42" width="3.86" height="3.74" fill="#2692ee"/>
<rect x="168.58" y="120.42" width="3.86" height="3.74" fill="#2396eb"/>
<rect x="171.44" y="120.42" width="3.86" height="3.74" fill="#327ef6"/>
<rect x="174.31" y="120.42" width="3.86" height="3.74" fill="#4443da"/>
<rect x="177.17" y="120.42" width="3.86" height="3.74" fill="#464deb"/>
<rect x="180.03" y="120.42" width="3.86" height="3.74" fill="#4546df"/>
<rect x="182.89" y="120.42" width="3.86" height="3.74" fill="#327ef6"/>
<rect x="185.75" y="120.42" width="3.86" height="3.74" fill="#2397eb"/>
<rect x="188.62" y="120.42" width="3.86" height="3.74" fill="#2890f0"/>
<rect x="191.48" y="120.42" width="3.86" height="3.74" fill="#337bf6"/>
<rect x="194.34" y="120.42" width="3.86" height="3.74" fill="#3676f6"/>
<rect x="197.20" y="120.42" width="3.86" height="3.74" fill="#337bf6"/>
<rect x="200.06" y="120.42" width="3.86" height="3.74" fill="#fec636"/>
<rect x="202.93" y="120.42" width="3.86" height="3.74" fill="#fcd62c"/>
<rect x="205.79" y="120.42" width="3.86" height="3.74" fill="#fdd12f"/>
<rect x="208.65" y="120.42" width="3.86" height="3.74" fill="#fdd42d"/>
<rect x="211.51" y="120.42" width="3.86" height="3.74" fill="#f9f717"/>
<rect x="214.37" y="120.42" width="3.86" height="3.74" fill="#f9f816"/>
<rect x="217.24" y="120.42" width="3.86" height="3.74" fill="#f3c438"/>
<rect x="220.10" y="120.42" width="3.86" height="3.74" fill="#fec935"/>
<rect x="222.96" y="120.42" width="3.86" height="3.74" fill="#f9fa15"/>
<rect x="225.82" y="120.42" width="3.86" height="3.74" fill="#f9fa15"/>
<rect x="228.68" y="120.42" width="3.86" height="3.74" fill="#3676f6"/>
<rect x="231.55" y="120.42" width="3.86" height="3.74" fill="#317ff7"/>
<rect x="234.41" y="120.42" width="3.86" height="3.74" fill="#2c8af5"/>
<rect x="237.27" y="120.42" width="3.86" height="3.74" fill="#337cf6"/>
<rect x="240.13" y="120.42" width="3.86" height="3.74" fill="#2e85f7"/>
<rect x="242.99" y="120.42" width="3.86" height="3.74" fill="#3a6df6"/>
<rect x="245.86" y="120.42" width="3.86" height="3.74" fill="#3180f7"/>
<rect x="248.72" y="120.42" width="3.86" height="3.74" fill="#2f84f7"/>
<rect x="251.58" y="120.42" width="3.86" height="3.74" fill="#3c6bf5"/>
<rect x="254.44" y="120.42" width="3.86" height="3.74" fill="#3971f6"/>
<rect x="257.30" y="120.42" width="3.86" height="3.74" fill="#2298ea"/>
<rect x="260.17" y="120.42" width="3.86" height="3.74" fill="#2890f0"/>
<rect x="263.03" y="120.42" width="3.86" height="3.74" fill="#2396eb"/>
<rect x="265.89" y="120.42" width="3.86" height="3.74" fill="#2c8af5"/>
<rect x="268.75" y="120.42" width="3.86" height="3.74" fill="#2791ef"/>
<rect x="271.61" y="120.42" width="3.86" height="3.74" fill="#2594ed"/>
<rect x="274.48" y="120.42" width="3.86" height="3.74" fill="#2594ed"/>
<rect x="277.34" y="120.42" width="3.86" height="3.74" fill="#3b6bf6"/>
<rect x="137.10" y="123.16" width="3.86" height="3.74" fill="#28bfb0"/>
<rect x="139.96" y="123.16" width="3.86" height="3.74" fill="#3577f6"/>
<rect x="142.82" y="123.16" width="3.86" height="3.74" fill="#fdce32"/>
<rect x="145.69" y="123.16" width="3.86" height="3.74" fill="#fcc338"/>
<rect x="148.55" y="123.16" width="3.86" height="3.74" fill="#feca34"/>
<rect x="151.41" y="123.16" width="3.86" height="3.74" fill="#fdd52d"/>
<rect x="154.27" y="123.16" width="3.86" height="3.74" fill="#2c89f5"/>
<rect x="157.13" y="123.16" width="3.86" height="3.74" fill="#8fc74f"/>
<rect x="160.00" y="123.16" width="3.86" height="3.74" fill="#fec934"/>
<rect x="162.86" y="123.16" width="3.86" height="3.74" fill="#9dc744"/>
<rect x="165.72" y="123.16" width="3.86" height="3.74" fill="#fdd52d"/>
<rect x="168.58" y="123.16" width="3.86" height="3.74" fill="#92c74d"/>
<rect x="171.44" y="123.16" width="3.86" height="3.74" fill="#fdc338"/>
<rect x="174.31" y="123.16" width="3.86" height="3.74" fill="#fdcd32"/>
<rect x="177.17" y="123.16" width="3.86" height="3.74" fill="#fbe920"/>
<rect x="180.03" y="123.16" width="3.86" height="3.74" fill="#2d88f6"/>
<rect x="182.89" y="123.16" width="3.86" height="3.74" fill="#2397ea"/>
<rect x="185.75" y="123.16" width="3.86" height="3.74" fill="#2f84f7"/>
<rect x="188.62" y="123.16" width="3.86" height="3.74" fill="#3577f6"/>
<rect x="191.48" y="123.16" width="3.86" height="3.74" fill="#3082f7"/>
<rect x="194.34" y="123.16" width="3.86" height="3.74" fill="#2e85f7"/>
<rect x="197.20" y="123.16" width="3.86" height="3.74" fill="#3871f6"/>
<rect x="200.06" y="123.16" width="3.86" height="3.74" fill="#f6c438"/>
<rect x="202.93" y="123.16" width="3.86" height="3.74" fill="#f6c438"/>
<rect x="205.79" y="123.16" width="3.86" height="3.74" fill="#fdc338"/>
<rect x="208.65" y="123.16" width="3.86" height="3.74" fill="#fec637"/>
<rect x="211.51" y="123.16" width="3.86" height="3.74" fill="#faed1e"/>
<rect x="214.37" y="123.16" width="3.86" height="3.74" fill="#fbec1e"/>
<rect x="217.24" y="123.16" width="3.86" height="3.74" fill="#f4c438"/>
<rect x="220.10" y="123.16" width="3.86" height="3.74" fill="#feca34"/>
<rect x="222.96" y="123.16" width="3.86" height="3.74" fill="#f9f817"/>
<rect x="225.82" y="123.16" width="3.86" height="3.74" fill="#faf31a"/>
<rect x="228.68" y="123.16" width="3.86" height="3.74" fill="#2d87f7"/>
<rect x="231.55" y="123.16" width="3.86" height="3.74" fill="#2b8af4"/>
<rect x="234.41" y="123.16" width="3.86" height="3.74" fill="#3774f6"/>
<rect x="237.27" y="123.16" width="3.86" height="3.74" fill="#2a8df2"/>
<rect x="240.13" y="123.16" width="3.86" height="3.74" fill="#3081f7"/>
<rect x="242.99" y="123.16" width="3.86" height="3.74" fill="#2e86f7"/>
<rect x="245.86" y="123.16" width="3.86" height="3.74" fill="#2c89f5"/>
<rect x="248.72" y="123.16" width="3.86" height="3.74" fill="#3082f7"/>
<rect x="251.58" y="123.16" width="3.86" height="3.74" fill="#347af6"/>
<rect x="254.44" y="123.16" width="3.86" height="3.74" fill="#3676f6"/>
<rect x="257.30" y="123.16" width="3.86" height="3.74" fill="#3675f6"/>
<rect x="260.17" y="123.16" width="3.86" height="3.74" fill="#2f84f7"/>
<rect x="263.03" y="123.16" width="3.86" height="3.74" fill="#327df6"/>
<rect x="265.89" y="123.16" width="3.86" height="3.74" fill="#2d88f6"/>
<rect x="268.75" y="123.16" width="3.86" height="3.74" fill="#3c6af5"/>
<rect x="271.61" y="123.16" width="3.86" height="3.74" fill="#337cf6"/>
<rect x="274.48" y="123.16" width="3.86" height="3.74" fill="#2593ed"/>
<rect x="277.34" y="123.16" width="3.86" height="3.74" fill="#3676f6"/>
<rect x="137.10" y="125.90" width="3.86" height="3.74" fill="#2e86f7"/>
<rect x="139.96" y="125.90" width="3.86" height="3.74" fill="#2f83f7"/>
<rect x="142.82" y="125.90" width="3.86" height="3.74" fill="#fdc338"/>
<rect x="145.69" y="125.90" width="3.86" height="3.74" fill="#fcd62c"/>
<rect x="148.55" y="125.90" width="3.86" height="3.74" fill="#fdc338"/>
<rect x="151.41" y="125.90" width="3.86" height="3.74" fill="#b4c639"/>
<rect x="154.27" y="125.90" width="3.86" height="3.74" fill="#89c755"/>
<rect x="157.13" y="125.90" width="3.86" height="3.74" fill="#f3c438"/>
<rect x="160.00" y="125.90" width="3.86" height="3.74" fill="#fdd32e"/>
<rect x="162.86" y="125.90" width="3.86" height="3.74" fill="#faf01c"/>
<rect x="165.72" y="125.90" width="3.86" height="3.74" fill="#fbe821"/>
<rect x="168.58" y="125.90" width="3.86" height="3.74" fill="#fec537"/>
<rect x="171.44" y="125.90" width="3.86" height="3.74" fill="#fec736"/>
<rect x="174.31" y="125.90" width="3.86" height="3.74" fill="#fdcf30"/>
<rect x="177.17" y="125.90" width="3.86" height="3.74" fill="#fbe920"/>
<rect x="180.03" y="125.90" width="3.86" height="3.74" fill="#fbeb1f"/>
<rect x="182.89" y="125.90" width="3.86" height="3.74" fill="#f9fa15"/>
<rect x="185.75" y="125.90" width="3.86" height="3.74" fill="#faf618"/>
<rect x="188.62" y="125.90" width="3.86" height="3.74" fill="#fbea1f"/>
<rect x="191.48" y="125.90" width="3.86" height="3.74" fill="#337bf6"/>
<rect x="194.34" y="125.90" width="3.86" height="3.74" fill="#337cf6"/>
<rect x="197.20" y="125.90" width="3.86" height="3.74" fill="#2b8bf3"/>
<rect x="200.06" y="125.90" width="3.86" height="3.74" fill="#fdcc33"/>
<rect x="202.93" y="125.90" width="3.86" height="3.74" fill="#fdd22e"/>
<rect x="205.79" y="125.90" width="3.86" height="3.74" fill="#fdd22f"/>
<rect x="208.65" y="125.90" width="3.86" height="3.74" fill="#fec935"/>
<rect x="211.51" y="125.90" width="3.86" height="3.74" fill="#faf618"/>
<rect x="214.37" y="125.90" width="3.86" height="3.74" fill="#faf618"/>
<rect x="217.24" y="125.90" width="3.86" height="3.74" fill="#fdd030"/>
<rect x="220.10" y="125.90" width="3.86" height="3.74" fill="#fec835"/>
<rect x="222.96" y="125.90" width="3.86" height="3.74" fill="#faf717"/>
<rect x="225.82" y="125.90" width="3.86" height="3.74" fill="#faf518"/>
<rect x="228.68" y="125.90" width="3.86" height="3.74" fill="#2495ec"/>
<rect x="231.55" y="125.90" width="3.86" height="3.74" fill="#3970f6"/>
<rect x="234.41" y="125.90" width="3.86" height="3.74" fill="#2594ed"/>
<rect x="237.27" y="125.90" width="3.86" height="3.74" fill="#3c6af5"/>
<rect x="240.13" y="125.90" width="3.86" height="3.74" fill="#288ff0"/>
<rect x="242.99" y="125.90" width="3.86" height="3.74" fill="#2d88f6"/>
<rect x="245.86" y="125.90" width="3.86" height="3.74" fill="#2f83f7"/>
<rect x="248.72" y="125.90" width="3.86" height="3.74" fill="#2397ea"/>
<rect x="251.58" y="125.90" width="3.86" height="3.74" fill="#4547e0"/>
<rect x="254.44" y="125.90" width="3.86" height="3.74" fill="#317ff7"/>
<rect x="257.30" y="125.90" width="3.86" height="3.74" fill="#2890f0"/>
<rect x="260.17" y="125.90" width="3.86" height="3.74" fill="#2594ed"/>
<rect x="263.03" y="125.90" width="3.86" height="3.74" fill="#2c89f6"/>
<rect x="265.89" y="125.90" width="3.86" height="3.74" fill="#327df6"/>
<rect x="268.75" y="125.90" width="3.86" height="3.74" fill="#3081f7"/>
<rect x="271.61" y="125.90" width="3.86" height="3.74" fill="#3081f7"/>
<rect x="274.48" y="125.90" width="3.86" height="3.74" fill="#298df2"/>
<rect x="277.34" y="125.90" width="3.86" height="3.74" fill="#3579f6"/>
<rect x="137.10" y="128.65" width="3.86" height="3.74" fill="#327ef6"/>
<rect x="139.96" y="128.65" width="3.86" height="3.74" fill="#2e86f7"/>
<rect x="142.82" y="128.65" width="3.86" height="3.74" fill="#fec537"/>
<rect x="145.69" y="128.65" width="3.86" height="3.74" fill="#fec338"/>
<rect x="148.55" y="128.65" width="3.86" height="3.74" fill="#fdd130"/>
<rect x="151.41" y="128.65" width="3.86" height="3.74" fill="#b8c639"/>
<rect x="154.27" y="128.65" width="3.86" height="3.74" fill="#a2c740"/>
<rect x="157.13" y="128.65" width="3.86" height="3.74" fill="#9ec744"/>
<rect x="160.00" y="128.65" width="3.86" height="3.74" fill="#f8c438"/>
<rect x="162.86" y="128.65" width="3.86" height="3.74" fill="#faed1e"/>
<rect x="165.72" y="128.65" width="3.86" height="3.74" fill="#fbea20"/>
<rect x="168.58" y="128.65" width="3.86" height="3.74" fill="#fecb33"/>
<rect x="171.44" y="128.65" width="3.86" height="3.74" fill="#fecb33"/>
<rect x="174.31" y="128.65" width="3.86" height="3.74" fill="#f4c438"/>
<rect x="177.17" y="128.65" width="3.86" height="3.74" fill="#2496eb"/>
<rect x="180.03" y="128.65" width="3.86" height="3.74" fill="#347af6"/>
<rect x="182.89" y="128.65" width="3.86" height="3.74" fill="#2692ee"/>
<rect x="185.75" y="128.65" width="3.86" height="3.74" fill="#2692ee"/>
<rect x="188.62" y="128.65" width="3.86" height="3.74" fill="#2397ea"/>
<rect x="191.48" y="128.65" width="3.86" height="3.74" fill="#3774f6"/>
<rect x="194.34" y="128.65" width="3.86" height="3.74" fill="#3180f7"/>
<rect x="197.20" y="128.65" width="3.86" height="3.74" fill="#2495ec"/>
<rect x="200.06" y="128.65" width="3.86" height="3.74" fill="#f1c438"/>
<rect x="202.93" y="128.65" width="3.86" height="3.74" fill="#f2c438"/>
<rect x="205.79" y="128.65" width="3.86" height="3.74" fill="#feca34"/>
<rect x="208.65" y="128.65" width="3.86" height="3.74" fill="#fec835"/>
<rect x="211.51" y="128.65" width="3.86" height="3.74" fill="#f9f916"/>
<rect x="214.37" y="128.65" width="3.86" height="3.74" fill="#faf617"/>
<rect x="217.24" y="128.65" width="3.86" height="3.74" fill="#fec934"/>
<rect x="220.10" y="128.65" width="3.86" height="3.74" fill="#fcd72c"/>
<rect x="222.96" y="128.65" width="3.86" height="3.74" fill="#faf11b"/>
<rect x="225.82" y="128.65" width="3.86" height="3.74" fill="#faf11b"/>
<rect x="228.68" y="128.65" width="3.86" height="3.74" fill="#2a8cf3"/>
<rect x="231.55" y="128.65" width="3.86" height="3.74" fill="#327ef6"/>
<rect x="234.41" y="128.65" width="3.86" height="3.74" fill="#337cf6"/>
<rect x="237.27" y="128.65" width="3.86" height="3.74" fill="#2d88f6"/>
<rect x="240.13" y="128.65" width="3.86" height="3.74" fill="#337cf6"/>
<rect x="242.99" y="128.65" width="3.86" height="3.74" fill="#2397eb"/>
<rect x="245.86" y="128.65" width="3.86" height="3.74" fill="#2a8bf3"/>
<rect x="248.72" y="128.65" width="3.86" height="3.74" fill="#2f85f7"/>
<rect x="251.58" y="128.65" width="3.86" height="3.74" fill="#3a6ff6"/>
<rect x="254.44" y="128.65" width="3.86" height="3.74" fill="#327df6"/>
<rect x="257.30" y="128.65" width="3.86" height="3.74" fill="#327ef6"/>
<rect x="260.17" y="128.65" width="3.86" height="3.74" fill="#26beb4"/>
<rect x="263.03" y="128.65" width="3.86" height="3.74" fill="#26beb3"/>
<rect x="265.89" y="128.65" width="3.86" height="3.74" fill="#2594ed"/>
<rect x="268.75" y="128.65" width="3.86" height="3.74" fill="#2398ea"/>
<rect x="271.61" y="128.65" width="3.86" height="3.74" fill="#3083f7"/>
<rect x="274.48" y="128.65" width="3.86" height="3.74" fill="#3180f7"/>
<rect x="277.34" y="128.65" width="3.86" height="3.74" fill="#2c89f5"/>
<rect x="137.10" y="131.39" width="3.86" height="3.74" fill="#2299e9"/>
<rect x="139.96" y="131.39" width="3.86" height="3.74" fill="#337bf6"/>
<rect x="142.82" y="131.39" width="3.86" height="3.74" fill="#fec934"/>
<rect x="145.69" y="131.39" width="3.86" height="3.74" fill="#fdd12f"/>
<rect x="148.55" y="131.39" width="3.86" height="3.74" fill="#f8c438"/>
<rect x="151.41" y="131.39" width="3.86" height="3.74" fill="#faed1d"/>
<rect x="154.27" y="131.39" width="3.86" height="3.74" fill="#fcd62c"/>
<rect x="157.13" y="131.39" width="3.86" height="3.74" fill="#fdd22f"/>
<rect x="160.00" y="131.39" width="3.86" height="3.74" fill="#fec935"/>
<rect x="162.86" y="131.39" width="3.86" height="3.74" fill="#fbe920"/>
<rect x="165.72" y="131.39" width="3.86" height="3.74" fill="#f9f916"/>
<rect x="168.58" y="131.39" width="3.86" height="3.74" fill="#464ae5"/>
<rect x="171.44" y="131.39" width="3.86" height="3.74" fill="#464dea"/>
<rect x="174.31" y="131.39" width="3.86" height="3.74" fill="#4750f1"/>
<rect x="177.17" y="131.39" width="3.86" height="3.74" fill="#474eed"/>
<rect x="180.03" y="131.39" width="3.86" height="3.74" fill="#4443da"/>
<rect x="182.89" y="131.39" width="3.86" height="3.74" fill="#3872f6"/>
<rect x="185.75" y="131.39" width="3.86" height="3.74" fill="#3579f6"/>
<rect x="188.62" y="131.39" width="3.86" height="3.74" fill="#2f84f7"/>
<rect x="191.48" y="131.39" width="3.86" height="3.74" fill="#2f84f7"/>
<rect x="194.34" y="131.39" width="3.86" height="3.74" fill="#3773f6"/>
<rect x="197.20" y="131.39" width="3.86" height="3.74" fill="#3773f6"/>
<rect x="200.06" y="131.39" width="3.86" height="3.74" fill="#2c8af5"/>
<rect x="202.93" y="131.39" width="3.86" height="3.74" fill="#fdcb33"/>
<rect x="205.79" y="131.39" width="3.86" height="3.74" fill="#fec438"/>
<rect x="208.65" y="131.39" width="3.86" height="3.74" fill="#fcd72c"/>
<rect x="211.51" y="131.39" width="3.86" height="3.74" fill="#faf419"/>
<rect x="214.37" y="131.39" width="3.86" height="3.74" fill="#fbe821"/>
<rect x="217.24" y="131.39" width="3.86" height="3.74" fill="#fec636"/>
<rect x="220.10" y="131.39" width="3.86" height="3.74" fill="#fdd130"/>
<rect x="222.96" y="131.39" width="3.86" height="3.74" fill="#faed1d"/>
<rect x="225.82" y="131.39" width="3.86" height="3.74" fill="#faf519"/>
<rect x="228.68" y="131.39" width="3.86" height="3.74" fill="#3c6af5"/>
<rect x="231.55" y="131.39" width="3.86" height="3.74" fill="#3479f6"/>
<rect x="234.41" y="131.39" width="3.86" height="3.74" fill="#2692ee"/>
<rect x="237.27" y="131.39" width="3.86" height="3.74" fill="#2d88f6"/>
<rect x="240.13" y="131.39" width="3.86" height="3.74" fill="#2b8bf4"/>
<rect x="242.99" y="131.39" width="3.86" height="3.74" fill="#3774f6"/>
<rect x="245.86" y="131.39" width="3.86" height="3.74" fill="#2f83f7"/>
<rect x="248.72" y="131.39" width="3.86" height="3.74" fill="#2e86f7"/>
<rect x="251.58" y="131.39" width="3.86" height="3.74" fill="#3577f6"/>
<rect x="254.44" y="131.39" width="3.86" height="3.74" fill="#2b8af4"/>
<rect x="257.30" y="131.39" width="3.86" height="3.74" fill="#2e85f7"/>
<rect x="260.17" y="131.39" width="3.86" height="3.74" fill="#33c59f"/>
<rect x="263.03" y="131.39" width="3.86" height="3.74" fill="#a8c73c"/>
<rect x="265.89" y="131.39" width="3.86" height="3.74" fill="#327ff6"/>
<rect x="268.75" y="131.39" width="3.86" height="3.74" fill="#3970f6"/>
<rect x="271.61" y="131.39" width="3.86" height="3.74" fill="#3872f6"/>
<rect x="274.48" y="131.39" width="3.86" height="3.74" fill="#288ff1"/>
<rect x="277.34" y="131.39" width="3.86" height="3.74" fill="#396ff6"/>
<rect x="137.10" y="134.14" width="3.86" height="3.74" fill="#3a6ff6"/>
<rect x="139.96" y="134.14" width="3.86" height="3.74" fill="#fbea1f"/>
<rect x="142.82" y="134.14" width="3.86" height="3.74" fill="#faf11b"/>
<rect x="145.69" y="134.14" width="3.86" height="3.74" fill="#f9f717"/>
<rect x="148.55" y="134.14" width="3.86" height="3.74" fill="#faf31a"/>
<rect x="151.41" y="134.14" width="3.86" height="3.74" fill="#f9f717"/>
<rect x="154.27" y="134.14" width="3.86" height="3.74" fill="#f3c438"/>
<rect x="157.13" y="134.14" width="3.86" height="3.74" fill="#f1c438"/>
<rect x="160.00" y="134.14" width="3.86" height="3.74" fill="#fdd030"/>
<rect x="162.86" y="134.14" width="3.86" height="3.74" fill="#faed1d"/>
<rect x="165.72" y="134.14" width="3.86" height="3.74" fill="#fdcf31"/>
<rect x="168.58" y="134.14" width="3.86" height="3.74" fill="#4442d8"/>
<rect x="171.44" y="134.14" width="3.86" height="3.74" fill="#433ed1"/>
<rect x="174.31" y="134.14" width="3.86" height="3.74" fill="#4440d4"/>
<rect x="177.17" y="134.14" width="3.86" height="3.74" fill="#433cce"/>
<rect x="180.03" y="134.14" width="3.86" height="3.74" fill="#474eee"/>
<rect x="182.89" y="134.14" width="3.86" height="3.74" fill="#2d88f6"/>
<rect x="185.75" y="134.14" width="3.86" height="3.74" fill="#337cf6"/>
<rect x="188.62" y="134.14" width="3.86" height="3.74" fill="#3181f7"/>
<rect x="191.48" y="134.14" width="3.86" height="3.74" fill="#327ef6"/>
<rect x="194.34" y="134.14" width="3.86" height="3.74" fill="#3b6cf6"/>
<rect x="197.20" y="134.14" width="3.86" height="3.74" fill="#2594ec"/>
<rect x="200.06" y="134.14" width="3.86" height="3.74" fill="#2d88f6"/>
<rect x="202.93" y="134.14" width="3.86" height="3.74" fill="#fdd62c"/>
<rect x="205.79" y="134.14" width="3.86" height="3.74" fill="#fec736"/>
<rect x="208.65" y="134.14" width="3.86" height="3.74" fill="#fdcc33"/>
<rect x="211.51" y="134.14" width="3.86" height="3.74" fill="#fbec1e"/>
<rect x="214.37" y="134.14" width="3.86" height="3.74" fill="#fbe821"/>
<rect x="217.24" y="134.14" width="3.86" height="3.74" fill="#fdd52d"/>
<rect x="220.10" y="134.14" width="3.86" height="3.74" fill="#fdd32e"/>
<rect x="222.96" y="134.14" width="3.86" height="3.74" fill="#faed1d"/>
<rect x="225.82" y="134.14" width="3.86" height="3.74" fill="#f9f916"/>
<rect x="228.68" y="134.14" width="3.86" height="3.74" fill="#f9f717"/>
<rect x="231.55" y="134.14" width="3.86" height="3.74" fill="#faed1e"/>
<rect x="234.41" y="134.14" width="3.86" height="3.74" fill="#2d88f6"/>
<rect x="237.27" y="134.14" width="3.86" height="3.74" fill="#2397ea"/>
<rect x="240.13" y="134.14" width="3.86" height="3.74" fill="#2f83f7"/>
<rect x="242.99" y="134.14" width="3.86" height="3.74" fill="#2397ea"/>
<rect x="245.86" y="134.14" width="3.86" height="3.74" fill="#3676f6"/>
<rect x="248.72" y="134.14" width="3.86" height="3.74" fill="#327ef6"/>
<rect x="251.58" y="134.14" width="3.86" height="3.74" fill="#fdcf31"/>
<rect x="254.44" y="134.14" width="3.86" height="3.74" fill="#3675f6"/>
<rect x="257.30" y="134.14" width="3.86" height="3.74" fill="#347af6"/>
<rect x="260.17" y="134.14" width="3.86" height="3.74" fill="#2fc3a5"/>
<rect x="263.03" y="134.14" width="3.86" height="3.74" fill="#24bcb8"/>
<rect x="265.89" y="134.14" width="3.86" height="3.74" fill="#2790f0"/>
<rect x="268.75" y="134.14" width="3.86" height="3.74" fill="#3676f6"/>
<rect x="271.61" y="134.14" width="3.86" height="3.74" fill="#3873f6"/>
<rect x="274.48" y="134.14" width="3.86" height="3.74" fill="#337cf6"/>
<rect x="277.34" y="134.14" width="3.86" height="3.74" fill="#3773f6"/>
<rect x="137.10" y="136.88" width="3.86" height="3.74" fill="#f9fa15"/>
<rect x="139.96" y="136.88" width="3.86" height="3.74" fill="#faed1e"/>
<rect x="142.82" y="136.88" width="3.86" height="3.74" fill="#faf21a"/>
<rect x="145.69" y="136.88" width="3.86" height="3.74" fill="#fbe920"/>
<rect x="148.55" y="136.88" width="3.86" height="3.74" fill="#faf11b"/>
<rect x="151.41" y="136.88" width="3.86" height="3.74" fill="#faee1c"/>
<rect x="154.27" y="136.88" width="3.86" height="3.74" fill="#fec637"/>
<rect x="157.13" y="136.88" width="3.86" height="3.74" fill="#f3c438"/>
<rect x="160.00" y="136.88" width="3.86" height="3.74" fill="#f6c438"/>
<rect x="162.86" y="136.88" width="3.86" height="3.74" fill="#fdd22f"/>
<rect x="165.72" y="136.88" width="3.86" height="3.74" fill="#fec438"/>
<rect x="168.58" y="136.88" width="3.86" height="3.74" fill="#3676f6"/>
<rect x="171.44" y="136.88" width="3.86" height="3.74" fill="#3773f6"/>
<rect x="174.31" y="136.88" width="3.86" height="3.74" fill="#3578f6"/>
<rect x="177.17" y="136.88" width="3.86" height="3.74" fill="#3676f6"/>
<rect x="180.03" y="136.88" width="3.86" height="3.74" fill="#3b6bf6"/>
<rect x="182.89" y="136.88" width="3.86" height="3.74" fill="#2b8bf4"/>
<rect x="185.75" y="136.88" width="3.86" height="3.74" fill="#337bf6"/>
<rect x="188.62" y="136.88" width="3.86" height="3.74" fill="#3872f6"/>
<rect x="191.48" y="136.88" width="3.86" height="3.74" fill="#2a8df2"/>
<rect x="194.34" y="136.88" width="3.86" height="3.74" fill="#3a6ef6"/>
<rect x="197.20" y="136.88" width="3.86" height="3.74" fill="#3578f6"/>
<rect x="200.06" y="136.88" width="3.86" height="3.74" fill="#2692ee"/>
<rect x="202.93" y="136.88" width="3.86" height="3.74" fill="#3970f6"/>
<rect x="205.79" y="136.88" width="3.86" height="3.74" fill="#3181f7"/>
<rect x="208.65" y="136.88" width="3.86" height="3.74" fill="#fdd22f"/>
<rect x="211.51" y="136.88" width="3.86" height="3.74" fill="#f9f717"/>
<rect x="214.37" y="136.88" width="3.86" height="3.74" fill="#fbea1f"/>
<rect x="217.24" y="136.88" width="3.86" height="3.74" fill="#fec438"/>
<rect x="220.10" y="136.88" width="3.86" height="3.74" fill="#fdcf31"/>
<rect x="222.96" y="136.88" width="3.86" height="3.74" fill="#faee1d"/>
<rect x="225.82" y="136.88" width="3.86" height="3.74" fill="#f9fa15"/>
<rect x="228.68" y="136.88" width="3.86" height="3.74" fill="#fbeb1f"/>
<rect x="231.55" y="136.88" width="3.86" height="3.74" fill="#f9fa15"/>
<rect x="234.41" y="136.88" width="3.86" height="3.74" fill="#fec835"/>
<rect x="237.27" y="136.88" width="3.86" height="3.74" fill="#3675f6"/>
<rect x="240.13" y="136.88" width="3.86" height="3.74" fill="#3081f7"/>
<rect x="242.99" y="136.88" width="3.86" height="3.74" fill="#3970f6"/>
<rect x="245.86" y="136.88" width="3.86" height="3.74" fill="#2a8df2"/>
<rect x="248.72" y="136.88" width="3.86" height="3.74" fill="#fbc338"/>
<rect x="251.58" y="136.88" width="3.86" height="3.74" fill="#fdd42d"/>
<rect x="254.44" y="136.88" width="3.86" height="3.74" fill="#fecb33"/>
<rect x="257.30" y="136.88" width="3.86" height="3.74" fill="#fec537"/>
<rect x="260.17" y="136.88" width="3.86" height="3.74" fill="#1db8c3"/>
<rect x="263.03" y="136.88" width="3.86" height="3.74" fill="#27beb2"/>
<rect x="265.89" y="136.88" width="3.86" height="3.74" fill="#3775f6"/>
<rect x="268.75" y="136.88" width="3.86" height="3.74" fill="#2594ed"/>
<rect x="271.61" y="136.88" width="3.86" height="3.74" fill="#3970f6"/>
<rect x="274.48" y="136.88" width="3.86" height="3.74" fill="#2f84f7"/>
<rect x="277.34" y="136.88" width="3.86" height="3.74" fill="#2e86f7"/>
<rect x="137.10" y="139.62" width="3.86" height="3.74" fill="#faec1e"/>
<rect x="139.96" y="139.62" width="3.86" height="3.74" fill="#faf617"/>
<rect x="142.82" y="139.62" width="3.86" height="3.74" fill="#faee1c"/>
<rect x="145.69" y="139.62" width="3.86" height="3.74" fill="#faf419"/>
<rect x="148.55" y="139.62" width="3.86" height="3.74" fill="#faf21a"/>
<rect x="151.41" y="139.62" width="3.86" height="3.74" fill="#94c74c"/>
<rect x="154.27" y="139.62" width="3.86" height="3.74" fill="#9ac747"/>
<rect x="157.13" y="139.62" width="3.86" height="3.74" fill="#83c759"/>
<rect x="160.00" y="139.62" width="3.86" height="3.74" fill="#8ac754"/>
<rect x="162.86" y="139.62" width="3.86" height="3.74" fill="#fdd22e"/>
<rect x="165.72" y="139.62" width="3.86" height="3.74" fill="#fec338"/>
<rect x="168.58" y="139.62" width="3.86" height="3.74" fill="#2b8bf4"/>
<rect x="171.44" y="139.62" width="3.86" height="3.74" fill="#396ff6"/>
<rect x="174.31" y="139.62" width="3.86" height="3.74" fill="#2e87f7"/>
<rect x="177.17" y="139.62" width="3.86" height="3.74" fill="#337cf6"/>
<rect x="180.03" y="139.62" width="3.86" height="3.74" fill="#2f83f7"/>
<rect x="182.89" y="139.62" width="3.86" height="3.74" fill="#3479f6"/>
<rect x="185.75" y="139.62" width="3.86" height="3.74" fill="#3a6df6"/>
<rect x="188.62" y="139.62" width="3.86" height="3.74" fill="#347af6"/>
<rect x="191.48" y="139.62" width="3.86" height="3.74" fill="#3675f6"/>
<rect x="194.34" y="139.62" width="3.86" height="3.74" fill="#3970f6"/>
<rect x="197.20" y="139.62" width="3.86" height="3.74" fill="#298df2"/>
<rect x="200.06" y="139.62" width="3.86" height="3.74" fill="#3578f6"/>
<rect x="202.93" y="139.62" width="3.86" height="3.74" fill="#327ef6"/>
<rect x="205.79" y="139.62" width="3.86" height="3.74" fill="#2495ec"/>
<rect x="208.65" y="139.62" width="3.86" height="3.74" fill="#fdd030"/>
<rect x="211.51" y="139.62" width="3.86" height="3.74" fill="#f9f916"/>
<rect x="214.37" y="139.62" width="3.86" height="3.74" fill="#f9f816"/>
<rect x="217.24" y="139.62" width="3.86" height="3.74" fill="#f6c438"/>
<rect x="220.10" y="139.62" width="3.86" height="3.74" fill="#fcc338"/>
<rect x="222.96" y="139.62" width="3.86" height="3.74" fill="#fbe721"/>
<rect x="225.82" y="139.62" width="3.86" height="3.74" fill="#faf419"/>
<rect x="228.68" y="139.62" width="3.86" height="3.74" fill="#faf419"/>
<rect x="231.55" y="139.62" width="3.86" height="3.74" fill="#faee1d"/>
<rect x="234.41" y="139.62" width="3.86" height="3.74" fill="#faef1c"/>
<rect x="237.27" y="139.62" width="3.86" height="3.74" fill="#2b8bf4"/>
<rect x="240.13" y="139.62" width="3.86" height="3.74" fill="#2a8cf3"/>
<rect x="242.99" y="139.62" width="3.86" height="3.74" fill="#fbc338"/>
<rect x="245.86" y="139.62" width="3.86" height="3.74" fill="#fdd22e"/>
<rect x="248.72" y="139.62" width="3.86" height="3.74" fill="#fec438"/>
<rect x="251.58" y="139.62" width="3.86" height="3.74" fill="#fdcc32"/>
<rect x="254.44" y="139.62" width="3.86" height="3.74" fill="#f8c438"/>
<rect x="257.30" y="139.62" width="3.86" height="3.74" fill="#fbe920"/>
<rect x="260.17" y="139.62" width="3.86" height="3.74" fill="#30c4a3"/>
<rect x="263.03" y="139.62" width="3.86" height="3.74" fill="#2bc1ab"/>
<rect x="265.89" y="139.62" width="3.86" height="3.74" fill="#298df2"/>
<rect x="268.75" y="139.62" width="3.86" height="3.74" fill="#3b6cf6"/>
<rect x="271.61" y="139.62" width="3.86" height="3.74" fill="#3b6cf6"/>
<rect x="274.48" y="139.62" width="3.86" height="3.74" fill="#3872f6"/>
<rect x="277.34" y="139.62" width="3.86" height="3.74" fill="#3774f6"/>
<rect x="137.10" y="142.37" width="3.86" height="3.74" fill="#faed1e"/>
<rect x="139.96" y="142.37" width="3.86" height="3.74" fill="#faee1d"/>
<rect x="142.82" y="142.37" width="3.86" height="3.74" fill="#fbe721"/>
<rect x="145.69" y="142.37" width="3.86" height="3.74" fill="#faed1d"/>
<rect x="148.55" y="142.37" width="3.86" height="3.74" fill="#faf419"/>
<rect x="151.41" y="142.37" width="3.86" height="3.74" fill="#8ac754"/>
<rect x="154.27" y="142.37" width="3.86" height="3.74" fill="#b7c639"/>
<rect x="157.13" y="142.37" width="3.86" height="3.74" fill="#a8c73c"/>
<rect x="160.00" y="142.37" width="3.86" height="3.74" fill="#b1c739"/>
<rect x="162.86" y="142.37" width="3.86" height="3.74" fill="#fbc338"/>
<rect x="165.72" y="142.37" width="3.86" height="3.74" fill="#fec636"/>
<rect x="168.58" y="142.37" width="3.86" height="3.74" fill="#2a8cf3"/>
<rect x="171.44" y="142.37" width="3.86" height="3.74" fill="#337cf6"/>
<rect x="174.31" y="142.37" width="3.86" height="3.74" fill="#3c6af5"/>
<rect x="177.17" y="142.37" width="3.86" height="3.74" fill="#2692ee"/>
<rect x="180.03" y="142.37" width="3.86" height="3.74" fill="#2890f0"/>
<rect x="182.89" y="142.37" width="3.86" height="3.74" fill="#3578f6"/>
<rect x="185.75" y="142.37" width="3.86" height="3.74" fill="#3b6cf6"/>
<rect x="188.62" y="142.37" width="3.86" height="3.74" fill="#2693ee"/>
<rect x="191.48" y="142.37" width="3.86" height="3.74" fill="#27beb2"/>
<rect x="194.34" y="142.37" width="3.86" height="3.74" fill="#3b6cf6"/>
<rect x="197.20" y="142.37" width="3.86" height="3.74" fill="#3676f6"/>
<rect x="200.06" y="142.37" width="3.86" height="3.74" fill="#396ff6"/>
<rect x="202.93" y="142.37" width="3.86" height="3.74" fill="#2790f0"/>
<rect x="205.79" y="142.37" width="3.86" height="3.74" fill="#3774f6"/>
<rect x="208.65" y="142.37" width="3.86" height="3.74" fill="#fdd42d"/>
<rect x="211.51" y="142.37" width="3.86" height="3.74" fill="#fdd030"/>
<rect x="214.37" y="142.37" width="3.86" height="3.74" fill="#fbe820"/>
<rect x="217.24" y="142.37" width="3.86" height="3.74" fill="#faf518"/>
<rect x="220.10" y="142.37" width="3.86" height="3.74" fill="#faef1c"/>
<rect x="222.96" y="142.37" width="3.86" height="3.74" fill="#faf618"/>
<rect x="225.82" y="142.37" width="3.86" height="3.74" fill="#f9f717"/>
<rect x="228.68" y="142.37" width="3.86" height="3.74" fill="#faec1e"/>
<rect x="231.55" y="142.37" width="3.86" height="3.74" fill="#fbe820"/>
<rect x="234.41" y="142.37" width="3.86" height="3.74" fill="#fdd52d"/>
<rect x="237.27" y="142.37" width="3.86" height="3.74" fill="#3180f7"/>
<rect x="240.13" y="142.37" width="3.86" height="3.74" fill="#2396eb"/>
<rect x="242.99" y="142.37" width="3.86" height="3.74" fill="#2a8cf3"/>
<rect x="245.86" y="142.37" width="3.86" height="3.74" fill="#fdcf30"/>
<rect x="248.72" y="142.37" width="3.86" height="3.74" fill="#fdd22f"/>
<rect x="251.58" y="142.37" width="3.86" height="3.74" fill="#faf319"/>
<rect x="254.44" y="142.37" width="3.86" height="3.74" fill="#faf01c"/>
<rect x="257.30" y="142.37" width="3.86" height="3.74" fill="#81c75b"/>
<rect x="260.17" y="142.37" width="3.86" height="3.74" fill="#2a8cf3"/>
<rect x="263.03" y="142.37" width="3.86" height="3.74" fill="#3180f7"/>
<rect x="265.89" y="142.37" width="3.86" height="3.74" fill="#2f84f7"/>
<rect x="268.75" y="142.37" width="3.86" height="3.74" fill="#2496eb"/>
<rect x="271.61" y="142.37" width="3.86" height="3.74" fill="#3970f6"/>
<rect x="274.48" y="142.37" width="3.86" height="3.74" fill="#288ff1"/>
<rect x="277.34" y="142.37" width="3.86" height="3.74" fill="#3b6cf6"/>
<rect x="137.10" y="145.11" width="3.86" height="3.74" fill="#faf518"/>
<rect x="139.96" y="145.11" width="3.86" height="3.74" fill="#f9f717"/>
<rect x="142.82" y="145.11" width="3.86" height="3.74" fill="#faec1e"/>
<rect x="145.69" y="145.11" width="3.86" height="3.74" fill="#faf21a"/>
<rect x="148.55" y="145.11" width="3.86" height="3.74" fill="#f9fa15"/>
<rect x="151.41" y="145.11" width="3.86" height="3.74" fill="#faf419"/>
<rect x="154.27" y="145.11" width="3.86" height="3.74" fill="#a6c73d"/>
<rect x="157.13" y="145.11" width="3.86" height="3.74" fill="#1db8c3"/>
<rect x="160.00" y="145.11" width="3.86" height="3.74" fill="#17b5cd"/>
<rect x="162.86" y="145.11" width="3.86" height="3.74" fill="#fec437"/>
<rect x="165.72" y="145.11" width="3.86" height="3.74" fill="#fec636"/>
<rect x="168.58" y="145.11" width="3.86" height="3.74" fill="#3774f6"/>
<rect x="171.44" y="145.11" width="3.86" height="3.74" fill="#347af6"/>
<rect x="174.31" y="145.11" width="3.86" height="3.74" fill="#3971f6"/>
<rect x="177.17" y="145.11" width="3.86" height="3.74" fill="#2a8df2"/>
<rect x="180.03" y="145.11" width="3.86" height="3.74" fill="#2b8bf4"/>
<rect x="182.89" y="145.11" width="3.86" height="3.74" fill="#3676f6"/>
<rect x="185.75" y="145.11" width="3.86" height="3.74" fill="#3676f6"/>
<rect x="188.62" y="145.11" width="3.86" height="3.74" fill="#2f84f7"/>
<rect x="191.48" y="145.11" width="3.86" height="3.74" fill="#3181f7"/>
<rect x="194.34" y="145.11" width="3.86" height="3.74" fill="#2396eb"/>
<rect x="197.20" y="145.11" width="3.86" height="3.74" fill="#337cf6"/>
<rect x="200.06" y="145.11" width="3.86" height="3.74" fill="#3479f6"/>
<rect x="202.93" y="145.11" width="3.86" height="3.74" fill="#2594ed"/>
<rect x="205.79" y="145.11" width="3.86" height="3.74" fill="#f6c438"/>
<rect x="208.65" y="145.11" width="3.86" height="3.74" fill="#feca34"/>
<rect x="211.51" y="145.11" width="3.86" height="3.74" fill="#fec438"/>
<rect x="214.37" y="145.11" width="3.86" height="3.74" fill="#f9f717"/>
<rect x="217.24" y="145.11" width="3.86" height="3.74" fill="#faf21a"/>
<rect x="220.10" y="145.11" width="3.86" height="3.74" fill="#faf618"/>
<rect x="222.96" y="145.11" width="3.86" height="3.74" fill="#fbea1f"/>
<rect x="225.82" y="145.11" width="3.86" height="3.74" fill="#faf419"/>
<rect x="228.68" y="145.11" width="3.86" height="3.74" fill="#faf31a"/>
<rect x="231.55" y="145.11" width="3.86" height="3.74" fill="#faf01b"/>
<rect x="234.41" y="145.11" width="3.86" height="3.74" fill="#fdd030"/>
<rect x="237.27" y="145.11" width="3.86" height="3.74" fill="#2692ee"/>
<rect x="240.13" y="145.11" width="3.86" height="3.74" fill="#396ff6"/>
<rect x="242.99" y="145.11" width="3.86" height="3.74" fill="#faed1e"/>
<rect x="245.86" y="145.11" width="3.86" height="3.74" fill="#faee1d"/>
<rect x="248.72" y="145.11" width="3.86" height="3.74" fill="#fbeb1f"/>
<rect x="251.58" y="145.11" width="3.86" height="3.74" fill="#fbe821"/>
<rect x="254.44" y="145.11" width="3.86" height="3.74" fill="#92c74e"/>
<rect x="257.30" y="145.11" width="3.86" height="3.74" fill="#1bb7c6"/>
<rect x="260.17" y="145.11" width="3.86" height="3.74" fill="#2a8df2"/>
<rect x="263.03" y="145.11" width="3.86" height="3.74" fill="#3181f7"/>
<rect x="265.89" y="145.11" width="3.86" height="3.74" fill="#396ff6"/>
<rect x="268.75" y="145.11" width="3.86" height="3.74" fill="#347af6"/>
<rect x="271.61" y="145.11" width="3.86" height="3.74" fill="#3082f7"/>
<rect x="274.48" y="145.11" width="3.86" height="3.74" fill="#337cf6"/>
<rect x="277.34" y="145.11" width="3.86" height="3.74" fill="#3872f6"/>
<rect x="137.10" y="147.86" width="3.86" height="3.74" fill="#3a6df6"/>
<rect x="139.96" y="147.86" width="3.86" height="3.74" fill="#fbe721"/>
<rect x="142.82" y="147.86" width="3.86" height="3.74" fill="#f9fb15"/>
<rect x="145.69" y="147.86" width="3.86" height="3.74" fill="#faf618"/>
<rect x="148.55" y="147.86" width="3.86" height="3.74" fill="#fbe820"/>
<rect x="151.41" y="147.86" width="3.86" height="3.74" fill="#faf518"/>
<rect x="154.27" y="147.86" width="3.86" height="3.74" fill="#32c59f"/>
<rect x="157.13" y="147.86" width="3.86" height="3.74" fill="#26beb4"/>
<rect x="160.00" y="147.86" width="3.86" height="3.74" fill="#85c758"/>
<rect x="162.86" y="147.86" width="3.86" height="3.74" fill="#fec835"/>
<rect x="165.72" y="147.86" width="3.86" height="3.74" fill="#fec636"/>
<rect x="168.58" y="147.86" width="3.86" height="3.74" fill="#3773f6"/>
<rect x="171.44" y="147.86" width="3.86" height="3.74" fill="#2e86f7"/>
<rect x="174.31" y="147.86" width="3.86" height="3.74" fill="#3c6af5"/>
<rect x="177.17" y="147.86" width="3.86" height="3.74" fill="#2496eb"/>
<rect x="180.03" y="147.86" width="3.86" height="3.74" fill="#2b8af4"/>
<rect x="182.89" y="147.86" width="3.86" height="3.74" fill="#2c89f5"/>
<rect x="185.75" y="147.86" width="3.86" height="3.74" fill="#2396eb"/>
<rect x="188.62" y="147.86" width="3.86" height="3.74" fill="#2b8af4"/>
<rect x="191.48" y="147.86" width="3.86" height="3.74" fill="#3677f6"/>
<rect x="194.34" y="147.86" width="3.86" height="3.74" fill="#3676f6"/>
<rect x="197.20" y="147.86" width="3.86" height="3.74" fill="#3971f6"/>
<rect x="200.06" y="147.86" width="3.86" height="3.74" fill="#3b6bf5"/>
<rect x="202.93" y="147.86" width="3.86" height="3.74" fill="#faf617"/>
<rect x="205.79" y="147.86" width="3.86" height="3.74" fill="#f9f817"/>
<rect x="208.65" y="147.86" width="3.86" height="3.74" fill="#fdc338"/>
<rect x="211.51" y="147.86" width="3.86" height="3.74" fill="#f8c438"/>
<rect x="214.37" y="147.86" width="3.86" height="3.74" fill="#faf419"/>
<rect x="217.24" y="147.86" width="3.86" height="3.74" fill="#f9f817"/>
<rect x="220.10" y="147.86" width="3.86" height="3.74" fill="#f9f915"/>
<rect x="222.96" y="147.86" width="3.86" height="3.74" fill="#fbea1f"/>
<rect x="225.82" y="147.86" width="3.86" height="3.74" fill="#faf717"/>
<rect x="228.68" y="147.86" width="3.86" height="3.74" fill="#f9f717"/>
<rect x="231.55" y="147.86" width="3.86" height="3.74" fill="#faf618"/>
<rect x="234.41" y="147.86" width="3.86" height="3.74" fill="#fec338"/>
<rect x="237.27" y="147.86" width="3.86" height="3.74" fill="#3773f6"/>
<rect x="240.13" y="147.86" width="3.86" height="3.74" fill="#2692ee"/>
<rect x="242.99" y="147.86" width="3.86" height="3.74" fill="#faed1d"/>
<rect x="245.86" y="147.86" width="3.86" height="3.74" fill="#faee1d"/>
<rect x="248.72" y="147.86" width="3.86" height="3.74" fill="#faf21a"/>
<rect x="251.58" y="147.86" width="3.86" height="3.74" fill="#337df6"/>
<rect x="254.44" y="147.86" width="3.86" height="3.74" fill="#2692ee"/>
<rect x="257.30" y="147.86" width="3.86" height="3.74" fill="#3676f6"/>
<rect x="260.17" y="147.86" width="3.86" height="3.74" fill="#3b6cf6"/>
<rect x="263.03" y="147.86" width="3.86" height="3.74" fill="#2e87f7"/>
<rect x="265.89" y="147.86" width="3.86" height="3.74" fill="#2c89f5"/>
<rect x="268.75" y="147.86" width="3.86" height="3.74" fill="#2791ef"/>
<rect x="271.61" y="147.86" width="3.86" height="3.74" fill="#2a8df2"/>
<rect x="274.48" y="147.86" width="3.86" height="3.74" fill="#2495ec"/>
<rect x="277.34" y="147.86" width="3.86" height="3.74" fill="#2397eb"/>
</g></g>
<text x="134.50" y="42.37" class="hk" text-anchor="end">10</text>
<text x="164.29" y="161.30" class="hk" text-anchor="middle">10</text>
<text x="134.50" y="69.81" class="hk" text-anchor="end">20</text>
<text x="192.91" y="161.30" class="hk" text-anchor="middle">20</text>
<text x="134.50" y="97.25" class="hk" text-anchor="end">30</text>
<text x="221.53" y="161.30" class="hk" text-anchor="middle">30</text>
<text x="134.50" y="124.69" class="hk" text-anchor="end">40</text>
<text x="250.15" y="161.30" class="hk" text-anchor="middle">40</text>
<text x="134.50" y="152.13" class="hk" text-anchor="end">50</text>
<text x="278.77" y="161.30" class="hk" text-anchor="middle">50</text>
<g shape-rendering="crispEdges">
<rect x="285.80" y="13.30" width="5.3" height="2.34" fill="#f9f816"/>
<rect x="285.80" y="15.44" width="5.3" height="2.34" fill="#faf21a"/>
<rect x="285.80" y="17.59" width="5.3" height="2.34" fill="#fbec1e"/>
<rect x="285.80" y="19.73" width="5.3" height="2.34" fill="#fbe622"/>
<rect x="285.80" y="21.88" width="5.3" height="2.34" fill="#fce026"/>
<rect x="285.80" y="24.02" width="5.3" height="2.34" fill="#fcd92a"/>
<rect x="285.80" y="26.16" width="5.3" height="2.34" fill="#fdd32e"/>
<rect x="285.80" y="28.31" width="5.3" height="2.34" fill="#fdcd32"/>
<rect x="285.80" y="30.45" width="5.3" height="2.34" fill="#fec736"/>
<rect x="285.80" y="32.59" width="5.3" height="2.34" fill="#fbc338"/>
<rect x="285.80" y="34.74" width="5.3" height="2.34" fill="#f2c438"/>
<rect x="285.80" y="36.88" width="5.3" height="2.34" fill="#e9c438"/>
<rect x="285.80" y="39.02" width="5.3" height="2.34" fill="#e0c538"/>
<rect x="285.80" y="41.17" width="5.3" height="2.34" fill="#d7c538"/>
<rect x="285.80" y="43.31" width="5.3" height="2.34" fill="#cec538"/>
<rect x="285.80" y="45.46" width="5.3" height="2.34" fill="#c5c639"/>
<rect x="285.80" y="47.60" width="5.3" height="2.34" fill="#bcc639"/>
<rect x="285.80" y="49.74" width="5.3" height="2.34" fill="#b2c639"/>
<rect x="285.80" y="51.89" width="5.3" height="2.34" fill="#a9c73b"/>
<rect x="285.80" y="54.03" width="5.3" height="2.34" fill="#9cc745"/>
<rect x="285.80" y="56.17" width="5.3" height="2.34" fill="#8fc750"/>
<rect x="285.80" y="58.32" width="5.3" height="2.34" fill="#82c75a"/>
<rect x="285.80" y="60.46" width="5.3" height="2.34" fill="#76c764"/>
<rect x="285.80" y="62.61" width="5.3" height="2.34" fill="#69c76f"/>
<rect x="285.80" y="64.75" width="5.3" height="2.34" fill="#5cc879"/>
<rect x="285.80" y="66.89" width="5.3" height="2.34" fill="#50c883"/>
<rect x="285.80" y="69.04" width="5.3" height="2.34" fill="#43c88d"/>
<rect x="285.80" y="71.18" width="5.3" height="2.34" fill="#37c898"/>
<rect x="285.80" y="73.32" width="5.3" height="2.34" fill="#33c59e"/>
<rect x="285.80" y="75.47" width="5.3" height="2.34" fill="#2fc3a5"/>
<rect x="285.80" y="77.61" width="5.3" height="2.34" fill="#2ac0ac"/>
<rect x="285.80" y="79.76" width="5.3" height="2.34" fill="#26beb3"/>
<rect x="285.80" y="81.90" width="5.3" height="2.34" fill="#22bbba"/>
<rect x="285.80" y="84.04" width="5.3" height="2.34" fill="#1eb9c1"/>
<rect x="285.80" y="86.19" width="5.3" height="2.34" fill="#1ab6c8"/>
<rect x="285.80" y="88.33" width="5.3" height="2.34" fill="#16b4cf"/>
<rect x="285.80" y="90.47" width="5.3" height="2.34" fill="#12b1d6"/>
<rect x="285.80" y="92.62" width="5.3" height="2.34" fill="#14add9"/>
<rect x="285.80" y="94.76" width="5.3" height="2.34" fill="#17a8dd"/>
<rect x="285.80" y="96.91" width="5.3" height="2.34" fill="#1ba4e1"/>
<rect x="285.80" y="99.05" width="5.3" height="2.34" fill="#1e9fe4"/>
<rect x="285.80" y="101.19" width="5.3" height="2.34" fill="#219ae8"/>
<rect x="285.80" y="103.34" width="5.3" height="2.34" fill="#2496eb"/>
<rect x="285.80" y="105.48" width="5.3" height="2.34" fill="#2791ef"/>
<rect x="285.80" y="107.62" width="5.3" height="2.34" fill="#2a8cf3"/>
<rect x="285.80" y="109.77" width="5.3" height="2.34" fill="#2d88f6"/>
<rect x="285.80" y="111.91" width="5.3" height="2.34" fill="#3082f7"/>
<rect x="285.80" y="114.06" width="5.3" height="2.34" fill="#337df6"/>
<rect x="285.80" y="116.20" width="5.3" height="2.34" fill="#3577f6"/>
<rect x="285.80" y="118.34" width="5.3" height="2.34" fill="#3871f6"/>
<rect x="285.80" y="120.49" width="5.3" height="2.34" fill="#3b6bf6"/>
<rect x="285.80" y="122.63" width="5.3" height="2.34" fill="#3e66f5"/>
<rect x="285.80" y="124.77" width="5.3" height="2.34" fill="#4160f5"/>
<rect x="285.80" y="126.92" width="5.3" height="2.34" fill="#445af5"/>
<rect x="285.80" y="129.06" width="5.3" height="2.34" fill="#4754f4"/>
<rect x="285.80" y="131.21" width="5.3" height="2.34" fill="#474fef"/>
<rect x="285.80" y="133.35" width="5.3" height="2.34" fill="#464ae7"/>
<rect x="285.80" y="135.49" width="5.3" height="2.34" fill="#4546de"/>
<rect x="285.80" y="137.64" width="5.3" height="2.34" fill="#4441d6"/>
<rect x="285.80" y="139.78" width="5.3" height="2.34" fill="#433cce"/>
<rect x="285.80" y="141.93" width="5.3" height="2.34" fill="#4237c5"/>
<rect x="285.80" y="144.07" width="5.3" height="2.34" fill="#4032bd"/>
<rect x="285.80" y="146.21" width="5.3" height="2.34" fill="#3f2eb5"/>
<rect x="285.80" y="148.36" width="5.3" height="2.34" fill="#3e29ad"/>
</g>
<text x="294.2" y="16.90" class="ck">3</text>
<text x="294.2" y="42.34" class="ck">2</text>
<text x="294.2" y="67.78" class="ck">1</text>
<text x="294.2" y="93.22" class="ck">0</text>
<text x="294.2" y="118.66" class="ck">-1</text>
<text x="294.2" y="144.10" class="ck">-2</text>
<circle cx="161.4" cy="17.2" r="2.25" fill="#e8001c" stroke="#2e1a80" stroke-width="0.7"/>
<circle cx="204.3" cy="83.4" r="2.25" fill="#ffffff" stroke="#2e1a80" stroke-width="0.7"/>
<circle cx="224.8" cy="149.3" r="2.25" fill="#e8001c" stroke="#2e1a80" stroke-width="0.7"/>
<text x="212.2" y="189.0" class="cap" text-anchor="middle">(<tspan>a</tspan>)</text>
<rect x="27.50" y="214.80" width="161.00" height="115.70" fill="#fff" stroke="#444" stroke-width="0.5"/>
<line x1="34.90" y1="330.50" x2="34.90" y2="332.50" stroke="#222" stroke-width="0.45"/>
<text x="34.90" y="338.00" class="tk" text-anchor="middle">0</text>
<line x1="64.20" y1="330.50" x2="64.20" y2="332.50" stroke="#222" stroke-width="0.45"/>
<text x="64.20" y="338.00" class="tk" text-anchor="middle">100</text>
<line x1="93.50" y1="330.50" x2="93.50" y2="332.50" stroke="#222" stroke-width="0.45"/>
<text x="93.50" y="338.00" class="tk" text-anchor="middle">200</text>
<line x1="122.80" y1="330.50" x2="122.80" y2="332.50" stroke="#222" stroke-width="0.45"/>
<text x="122.80" y="338.00" class="tk" text-anchor="middle">300</text>
<line x1="152.10" y1="330.50" x2="152.10" y2="332.50" stroke="#222" stroke-width="0.45"/>
<text x="152.10" y="338.00" class="tk" text-anchor="middle">400</text>
<line x1="181.40" y1="330.50" x2="181.40" y2="332.50" stroke="#222" stroke-width="0.45"/>
<text x="181.40" y="338.00" class="tk" text-anchor="middle">500</text>
<line x1="25.50" y1="326.50" x2="27.50" y2="326.50" stroke="#222" stroke-width="0.45"/>
<text x="24.30" y="328.50" class="tk" text-anchor="end">0</text>
<line x1="25.50" y1="302.77" x2="27.50" y2="302.77" stroke="#222" stroke-width="0.45"/>
<text x="24.30" y="304.77" class="tk" text-anchor="end">2000</text>
<line x1="25.50" y1="279.05" x2="27.50" y2="279.05" stroke="#222" stroke-width="0.45"/>
<text x="24.30" y="281.05" class="tk" text-anchor="end">4000</text>
<line x1="25.50" y1="255.32" x2="27.50" y2="255.32" stroke="#222" stroke-width="0.45"/>
<text x="24.30" y="257.32" class="tk" text-anchor="end">6000</text>
<line x1="25.50" y1="231.60" x2="27.50" y2="231.60" stroke="#222" stroke-width="0.45"/>
<text x="24.30" y="233.60" class="tk" text-anchor="end">8000</text>
<text x="107.50" y="212.60" class="ti" text-anchor="middle">Oil Production Rate - Producer 1</text>
<text x="107.60" y="345.90" class="xl" text-anchor="middle">Time (days)</text>
<text transform="translate(7.20 272.65) rotate(-90)" class="xl" text-anchor="middle">Oil Production Rate (STB/day)</text>
<path d="M34.90 224.48 L35.05 300.40 L35.19 305.15 L36.36 304.55 L40.76 303.01 L46.62 302.89 L52.48 304.32 L56.00 305.15 L58.34 310.48 L60.68 315.23 L64.20 318.20 L70.06 319.86 L78.85 321.52 L93.50 323.06 L122.80 324.48 L152.10 325.25 L181.40 325.67" fill="none" stroke="#ff0000" stroke-width="0.9" stroke-linejoin="round"/>
<g fill="#ff0000"><circle cx="34.90" cy="224.48" r="1.75"/><circle cx="35.05" cy="300.40" r="1.75"/><circle cx="35.19" cy="305.15" r="1.75"/><circle cx="35.49" cy="305.00" r="1.75"/><circle cx="35.78" cy="304.85" r="1.75"/><circle cx="36.07" cy="304.70" r="1.75"/><circle cx="36.36" cy="304.55" r="1.75"/><circle cx="36.66" cy="304.45" r="1.75"/><circle cx="37.24" cy="304.25" r="1.75"/><circle cx="37.83" cy="304.04" r="1.75"/><circle cx="38.71" cy="303.73" r="1.75"/><circle cx="39.59" cy="303.42" r="1.75"/><circle cx="40.47" cy="303.11" r="1.75"/><circle cx="41.35" cy="303.00" r="1.75"/><circle cx="42.22" cy="302.98" r="1.75"/><circle cx="43.10" cy="302.96" r="1.75"/><circle cx="43.98" cy="302.95" r="1.75"/><circle cx="44.86" cy="302.93" r="1.75"/><circle cx="45.74" cy="302.91" r="1.75"/><circle cx="46.62" cy="302.89" r="1.75"/><circle cx="47.50" cy="303.11" r="1.75"/><circle cx="48.38" cy="303.32" r="1.75"/><circle cx="49.26" cy="303.53" r="1.75"/><circle cx="50.14" cy="303.75" r="1.75"/><circle cx="51.02" cy="303.96" r="1.75"/><circle cx="51.89" cy="304.17" r="1.75"/><circle cx="52.77" cy="304.39" r="1.75"/><circle cx="53.65" cy="304.59" r="1.75"/><circle cx="54.53" cy="304.80" r="1.75"/><circle cx="55.41" cy="305.01" r="1.75"/><circle cx="56.29" cy="305.81" r="1.75"/><circle cx="57.17" cy="307.82" r="1.75"/><circle cx="58.05" cy="309.82" r="1.75"/><circle cx="58.93" cy="311.67" r="1.75"/><circle cx="59.80" cy="313.45" r="1.75"/><circle cx="60.68" cy="315.23" r="1.75"/><circle cx="61.56" cy="315.97" r="1.75"/><circle cx="62.44" cy="316.71" r="1.75"/><circle cx="63.32" cy="317.45" r="1.75"/><circle cx="64.20" cy="318.20" r="1.75"/><circle cx="65.66" cy="318.61" r="1.75"/><circle cx="67.13" cy="319.03" r="1.75"/><circle cx="68.59" cy="319.44" r="1.75"/><circle cx="70.06" cy="319.86" r="1.75"/><circle cx="71.53" cy="320.13" r="1.75"/><circle cx="72.99" cy="320.41" r="1.75"/><circle cx="74.45" cy="320.69" r="1.75"/><circle cx="75.92" cy="320.96" r="1.75"/><circle cx="77.38" cy="321.24" r="1.75"/><circle cx="78.85" cy="321.52" r="1.75"/><circle cx="80.31" cy="321.67" r="1.75"/><circle cx="81.78" cy="321.83" r="1.75"/><circle cx="83.25" cy="321.98" r="1.75"/><circle cx="84.71" cy="322.13" r="1.75"/><circle cx="86.17" cy="322.29" r="1.75"/><circle cx="87.64" cy="322.44" r="1.75"/><circle cx="89.10" cy="322.60" r="1.75"/><circle cx="90.57" cy="322.75" r="1.75"/><circle cx="92.03" cy="322.91" r="1.75"/><circle cx="93.50" cy="323.06" r="1.75"/><circle cx="96.43" cy="323.20" r="1.75"/><circle cx="99.36" cy="323.34" r="1.75"/><circle cx="102.29" cy="323.49" r="1.75"/><circle cx="105.22" cy="323.63" r="1.75"/><circle cx="108.15" cy="323.77" r="1.75"/><circle cx="111.08" cy="323.91" r="1.75"/><circle cx="114.01" cy="324.06" r="1.75"/><circle cx="116.94" cy="324.20" r="1.75"/><circle cx="119.87" cy="324.34" r="1.75"/><circle cx="122.80" cy="324.48" r="1.75"/><circle cx="125.73" cy="324.56" r="1.75"/><circle cx="128.66" cy="324.64" r="1.75"/><circle cx="131.59" cy="324.71" r="1.75"/><circle cx="134.52" cy="324.79" r="1.75"/><circle cx="137.45" cy="324.87" r="1.75"/><circle cx="140.38" cy="324.95" r="1.75"/><circle cx="143.31" cy="325.02" r="1.75"/><circle cx="146.24" cy="325.10" r="1.75"/><circle cx="149.17" cy="325.18" r="1.75"/><circle cx="152.10" cy="325.25" r="1.75"/><circle cx="155.03" cy="325.30" r="1.75"/><circle cx="157.96" cy="325.34" r="1.75"/><circle cx="160.89" cy="325.38" r="1.75"/><circle cx="163.82" cy="325.42" r="1.75"/><circle cx="166.75" cy="325.46" r="1.75"/><circle cx="169.68" cy="325.50" r="1.75"/><circle cx="172.61" cy="325.55" r="1.75"/><circle cx="175.54" cy="325.59" r="1.75"/><circle cx="178.47" cy="325.63" r="1.75"/><circle cx="181.40" cy="325.67" r="1.75"/></g>
<path d="M34.90 219.85 L35.13 306.93 L36.36 306.45 L40.76 305.38 L46.62 305.27 L52.48 306.57 L55.41 307.28 L57.17 309.89 L58.93 314.64 L61.27 317.25 L64.20 318.91 L70.06 320.33 L78.85 321.75 L93.50 323.18 L122.80 324.60 L152.10 325.31 L181.40 325.67" fill="none" stroke="#0000ff" stroke-width="1.25" stroke-linejoin="round" opacity="1.00"/>
<path d="M34.90 227.44 L35.19 302.77 L36.36 299.22 L39.30 297.08 L43.69 296.84 L49.55 298.03 L53.94 298.27 L56.58 295.42 L57.75 297.44 L59.22 306.33 L61.27 312.86 L64.20 315.23 L70.06 316.77 L78.85 319.38 L93.50 321.75 L122.80 323.77 L152.10 324.72 L181.40 325.20" fill="none" stroke="#0a8a0a" stroke-width="1.1" stroke-dasharray="2.7 1.5" stroke-linejoin="round"/>
<rect x="107.80" y="217.20" width="77.40" height="20.40" rx="0.8" fill="#fff" fill-opacity="0.8" stroke="#ccc" stroke-width="0.45"/>
<line x1="109.80" y1="221.08" x2="118.80" y2="221.08" stroke="#f00" stroke-width="1.1"/><circle cx="114.30" cy="221.08" r="1.7" fill="#f00"/>
<line x1="109.80" y1="227.40" x2="118.80" y2="227.40" stroke="#0000ff" stroke-opacity="1.00" stroke-width="1.35"/>
<line x1="109.80" y1="233.72" x2="118.80" y2="233.72" stroke="#0a8a0a" stroke-width="1.1" stroke-dasharray="2.8 1.6"/>
<text x="122.40" y="222.58" class="lg">Predicted + Error Correction</text>
<text x="122.40" y="228.90" class="lg">True</text>
<text x="122.40" y="235.22" class="lg">Predicted</text>
<rect x="244.70" y="215.30" width="160.00" height="116.00" fill="#fff" stroke="#444" stroke-width="0.5"/>
<line x1="251.60" y1="331.30" x2="251.60" y2="333.30" stroke="#222" stroke-width="0.45"/>
<text x="251.60" y="338.80" class="tk" text-anchor="middle">0</text>
<line x1="281.06" y1="331.30" x2="281.06" y2="333.30" stroke="#222" stroke-width="0.45"/>
<text x="281.06" y="338.80" class="tk" text-anchor="middle">100</text>
<line x1="310.52" y1="331.30" x2="310.52" y2="333.30" stroke="#222" stroke-width="0.45"/>
<text x="310.52" y="338.80" class="tk" text-anchor="middle">200</text>
<line x1="339.98" y1="331.30" x2="339.98" y2="333.30" stroke="#222" stroke-width="0.45"/>
<text x="339.98" y="338.80" class="tk" text-anchor="middle">300</text>
<line x1="369.44" y1="331.30" x2="369.44" y2="333.30" stroke="#222" stroke-width="0.45"/>
<text x="369.44" y="338.80" class="tk" text-anchor="middle">400</text>
<line x1="398.90" y1="331.30" x2="398.90" y2="333.30" stroke="#222" stroke-width="0.45"/>
<text x="398.90" y="338.80" class="tk" text-anchor="middle">500</text>
<line x1="242.70" y1="331.30" x2="244.70" y2="331.30" stroke="#222" stroke-width="0.45"/>
<text x="241.50" y="333.30" class="tk" text-anchor="end">0.0</text>
<line x1="242.70" y1="308.10" x2="244.70" y2="308.10" stroke="#222" stroke-width="0.45"/>
<text x="241.50" y="310.10" class="tk" text-anchor="end">0.2</text>
<line x1="242.70" y1="284.90" x2="244.70" y2="284.90" stroke="#222" stroke-width="0.45"/>
<text x="241.50" y="286.90" class="tk" text-anchor="end">0.4</text>
<line x1="242.70" y1="261.70" x2="244.70" y2="261.70" stroke="#222" stroke-width="0.45"/>
<text x="241.50" y="263.70" class="tk" text-anchor="end">0.6</text>
<line x1="242.70" y1="238.50" x2="244.70" y2="238.50" stroke="#222" stroke-width="0.45"/>
<text x="241.50" y="240.50" class="tk" text-anchor="end">0.8</text>
<line x1="242.70" y1="215.30" x2="244.70" y2="215.30" stroke="#222" stroke-width="0.45"/>
<text x="241.50" y="217.30" class="tk" text-anchor="end">1.0</text>
<text x="324.20" y="213.10" class="ti" text-anchor="middle">Water Cut - Producer 1</text>
<text x="324.30" y="346.70" class="xl" text-anchor="middle">Time (days)</text>
<text transform="translate(229.50 273.30) rotate(-90)" class="xl" text-anchor="middle">Water Cut</text>
<path d="M251.60 331.30 L272.22 331.30 L273.40 325.50 L274.58 302.30 L276.35 279.10 L278.70 261.70 L281.06 250.10 L284.01 247.78 L288.43 243.72 L295.79 237.92 L303.15 233.28 L310.52 229.80 L325.25 225.16 L339.98 221.91 L369.44 219.48 L398.90 217.85" fill="none" stroke="#ff0000" stroke-width="0.9" stroke-linejoin="round"/>
<g fill="#ff0000"><circle cx="251.60" cy="331.30" r="1.75"/><circle cx="254.55" cy="331.30" r="1.75"/><circle cx="257.49" cy="331.30" r="1.75"/><circle cx="260.44" cy="331.30" r="1.75"/><circle cx="263.38" cy="331.30" r="1.75"/><circle cx="266.33" cy="331.30" r="1.75"/><circle cx="269.28" cy="331.30" r="1.75"/><circle cx="272.22" cy="331.30" r="1.75"/><circle cx="272.81" cy="328.40" r="1.75"/><circle cx="273.40" cy="325.50" r="1.75"/><circle cx="273.99" cy="313.90" r="1.75"/><circle cx="274.58" cy="302.30" r="1.75"/><circle cx="275.17" cy="294.57" r="1.75"/><circle cx="275.76" cy="286.83" r="1.75"/><circle cx="276.35" cy="279.10" r="1.75"/><circle cx="276.94" cy="274.75" r="1.75"/><circle cx="277.52" cy="270.40" r="1.75"/><circle cx="278.11" cy="266.05" r="1.75"/><circle cx="278.70" cy="261.70" r="1.75"/><circle cx="279.29" cy="258.80" r="1.75"/><circle cx="279.88" cy="255.90" r="1.75"/><circle cx="280.47" cy="253.00" r="1.75"/><circle cx="281.06" cy="250.10" r="1.75"/><circle cx="281.65" cy="249.64" r="1.75"/><circle cx="282.24" cy="249.17" r="1.75"/><circle cx="282.83" cy="248.71" r="1.75"/><circle cx="283.42" cy="248.24" r="1.75"/><circle cx="284.01" cy="247.78" r="1.75"/><circle cx="285.48" cy="246.43" r="1.75"/><circle cx="286.95" cy="245.07" r="1.75"/><circle cx="288.43" cy="243.72" r="1.75"/><circle cx="289.90" cy="242.56" r="1.75"/><circle cx="291.37" cy="241.40" r="1.75"/><circle cx="292.84" cy="240.24" r="1.75"/><circle cx="294.32" cy="239.08" r="1.75"/><circle cx="295.79" cy="237.92" r="1.75"/><circle cx="297.26" cy="236.99" r="1.75"/><circle cx="298.74" cy="236.06" r="1.75"/><circle cx="300.21" cy="235.14" r="1.75"/><circle cx="301.68" cy="234.21" r="1.75"/><circle cx="303.15" cy="233.28" r="1.75"/><circle cx="304.63" cy="232.58" r="1.75"/><circle cx="306.10" cy="231.89" r="1.75"/><circle cx="307.57" cy="231.19" r="1.75"/><circle cx="309.05" cy="230.50" r="1.75"/><circle cx="310.52" cy="229.80" r="1.75"/><circle cx="313.47" cy="228.87" r="1.75"/><circle cx="316.41" cy="227.94" r="1.75"/><circle cx="319.36" cy="227.02" r="1.75"/><circle cx="322.30" cy="226.09" r="1.75"/><circle cx="325.25" cy="225.16" r="1.75"/><circle cx="328.20" cy="224.51" r="1.75"/><circle cx="331.14" cy="223.86" r="1.75"/><circle cx="334.09" cy="223.21" r="1.75"/><circle cx="337.03" cy="222.56" r="1.75"/><circle cx="339.98" cy="221.91" r="1.75"/><circle cx="342.93" cy="221.67" r="1.75"/><circle cx="345.87" cy="221.42" r="1.75"/><circle cx="348.82" cy="221.18" r="1.75"/><circle cx="351.76" cy="220.94" r="1.75"/><circle cx="354.71" cy="220.69" r="1.75"/><circle cx="357.66" cy="220.45" r="1.75"/><circle cx="360.60" cy="220.21" r="1.75"/><circle cx="363.55" cy="219.96" r="1.75"/><circle cx="366.49" cy="219.72" r="1.75"/><circle cx="369.44" cy="219.48" r="1.75"/><circle cx="372.39" cy="219.31" r="1.75"/><circle cx="375.33" cy="219.15" r="1.75"/><circle cx="378.28" cy="218.99" r="1.75"/><circle cx="381.22" cy="218.83" r="1.75"/><circle cx="384.17" cy="218.66" r="1.75"/><circle cx="387.12" cy="218.50" r="1.75"/><circle cx="390.06" cy="218.34" r="1.75"/><circle cx="393.01" cy="218.18" r="1.75"/><circle cx="395.95" cy="218.01" r="1.75"/><circle cx="398.90" cy="217.85" r="1.75"/></g>
<path d="M251.60 331.30 L271.63 331.30 L272.81 325.50 L273.99 296.50 L275.76 273.30 L278.11 258.22 L281.06 248.94 L284.01 244.88 L288.43 239.66 L295.79 232.70 L303.15 228.64 L310.52 226.32 L325.25 223.42 L339.98 221.10 L369.44 219.24 L398.90 218.08" fill="none" stroke="#0000ff" stroke-width="1.25" stroke-linejoin="round" opacity="1.00"/>
<path d="M251.60 331.30 L273.40 331.30 L274.58 325.50 L276.35 296.50 L278.70 275.62 L281.06 266.34 L282.83 265.18 L285.18 266.34 L287.54 262.86 L291.37 252.42 L295.79 245.46 L300.21 241.40 L306.10 238.50 L310.52 233.86 L319.36 230.38 L328.20 226.90 L339.98 224.58 L354.71 222.84 L369.44 221.56 L398.90 219.71" fill="none" stroke="#0a8a0a" stroke-width="1.1" stroke-dasharray="2.7 1.5" stroke-linejoin="round"/>
<rect x="324.70" y="240.00" width="77.70" height="20.30" rx="0.8" fill="#fff" fill-opacity="0.8" stroke="#ccc" stroke-width="0.45"/>
<line x1="326.70" y1="243.86" x2="335.70" y2="243.86" stroke="#f00" stroke-width="1.1"/><circle cx="331.20" cy="243.86" r="1.7" fill="#f00"/>
<line x1="326.70" y1="250.15" x2="335.70" y2="250.15" stroke="#0000ff" stroke-opacity="1.00" stroke-width="1.35"/>
<line x1="326.70" y1="256.44" x2="335.70" y2="256.44" stroke="#0a8a0a" stroke-width="1.1" stroke-dasharray="2.8 1.6"/>
<text x="339.30" y="245.36" class="lg">Predicted + Error Correction</text>
<text x="339.30" y="251.65" class="lg">True</text>
<text x="339.30" y="257.94" class="lg">Predicted</text>
<rect x="27.50" y="393.40" width="161.00" height="117.40" fill="#fff" stroke="#444" stroke-width="0.5"/>
<line x1="34.60" y1="510.80" x2="34.60" y2="512.80" stroke="#222" stroke-width="0.45"/>
<text x="34.60" y="518.30" class="tk" text-anchor="middle">0</text>
<line x1="64.10" y1="510.80" x2="64.10" y2="512.80" stroke="#222" stroke-width="0.45"/>
<text x="64.10" y="518.30" class="tk" text-anchor="middle">100</text>
<line x1="93.60" y1="510.80" x2="93.60" y2="512.80" stroke="#222" stroke-width="0.45"/>
<text x="93.60" y="518.30" class="tk" text-anchor="middle">200</text>
<line x1="123.10" y1="510.80" x2="123.10" y2="512.80" stroke="#222" stroke-width="0.45"/>
<text x="123.10" y="518.30" class="tk" text-anchor="middle">300</text>
<line x1="152.60" y1="510.80" x2="152.60" y2="512.80" stroke="#222" stroke-width="0.45"/>
<text x="152.60" y="518.30" class="tk" text-anchor="middle">400</text>
<line x1="182.10" y1="510.80" x2="182.10" y2="512.80" stroke="#222" stroke-width="0.45"/>
<text x="182.10" y="518.30" class="tk" text-anchor="middle">500</text>
<line x1="25.50" y1="505.70" x2="27.50" y2="505.70" stroke="#222" stroke-width="0.45"/>
<text x="24.30" y="507.70" class="tk" text-anchor="end">0</text>
<line x1="25.50" y1="483.02" x2="27.50" y2="483.02" stroke="#222" stroke-width="0.45"/>
<text x="24.30" y="485.02" class="tk" text-anchor="end">2000</text>
<line x1="25.50" y1="460.35" x2="27.50" y2="460.35" stroke="#222" stroke-width="0.45"/>
<text x="24.30" y="462.35" class="tk" text-anchor="end">4000</text>
<line x1="25.50" y1="437.67" x2="27.50" y2="437.67" stroke="#222" stroke-width="0.45"/>
<text x="24.30" y="439.67" class="tk" text-anchor="end">6000</text>
<line x1="25.50" y1="415.00" x2="27.50" y2="415.00" stroke="#222" stroke-width="0.45"/>
<text x="24.30" y="417.00" class="tk" text-anchor="end">8000</text>
<text x="107.50" y="391.20" class="ti" text-anchor="middle">Oil Production Rate - Producer 2</text>
<text x="107.60" y="526.20" class="xl" text-anchor="middle">Time (days)</text>
<text transform="translate(7.20 452.10) rotate(-90)" class="xl" text-anchor="middle">Oil Production Rate (STB/day)</text>
<path d="M34.60 403.09 L34.75 453.55 L34.90 455.81 L35.48 456.38 L36.96 453.55 L38.73 451.28 L39.62 452.41 L40.50 464.88 L41.98 477.35 L43.45 485.29 L44.92 488.69 L47.88 490.96 L52.30 493.80 L58.20 496.63 L64.10 498.44 L78.85 500.26 L93.60 501.28 L123.10 502.53 L152.60 503.43 L182.10 504.00" fill="none" stroke="#ff0000" stroke-width="0.9" stroke-linejoin="round"/>
<g fill="#ff0000"><circle cx="34.60" cy="403.09" r="1.75"/><circle cx="34.75" cy="453.55" r="1.75"/><circle cx="34.90" cy="455.81" r="1.75"/><circle cx="35.19" cy="456.10" r="1.75"/><circle cx="35.48" cy="456.38" r="1.75"/><circle cx="35.78" cy="455.81" r="1.75"/><circle cx="36.08" cy="455.25" r="1.75"/><circle cx="36.37" cy="454.68" r="1.75"/><circle cx="36.66" cy="454.11" r="1.75"/><circle cx="36.96" cy="453.55" r="1.75"/><circle cx="37.26" cy="453.17" r="1.75"/><circle cx="37.55" cy="452.79" r="1.75"/><circle cx="38.14" cy="452.03" r="1.75"/><circle cx="38.73" cy="451.28" r="1.75"/><circle cx="39.32" cy="452.03" r="1.75"/><circle cx="39.91" cy="456.57" r="1.75"/><circle cx="40.50" cy="464.88" r="1.75"/><circle cx="41.09" cy="469.87" r="1.75"/><circle cx="41.68" cy="474.86" r="1.75"/><circle cx="42.27" cy="478.94" r="1.75"/><circle cx="42.86" cy="482.12" r="1.75"/><circle cx="43.45" cy="485.29" r="1.75"/><circle cx="44.04" cy="486.65" r="1.75"/><circle cx="44.63" cy="488.01" r="1.75"/><circle cx="45.22" cy="488.92" r="1.75"/><circle cx="45.81" cy="489.37" r="1.75"/><circle cx="46.40" cy="489.83" r="1.75"/><circle cx="46.99" cy="490.28" r="1.75"/><circle cx="47.58" cy="490.73" r="1.75"/><circle cx="48.17" cy="491.15" r="1.75"/><circle cx="48.76" cy="491.53" r="1.75"/><circle cx="49.35" cy="491.91" r="1.75"/><circle cx="49.94" cy="492.28" r="1.75"/><circle cx="50.53" cy="492.66" r="1.75"/><circle cx="51.12" cy="493.04" r="1.75"/><circle cx="51.71" cy="493.42" r="1.75"/><circle cx="52.30" cy="493.80" r="1.75"/><circle cx="53.78" cy="494.50" r="1.75"/><circle cx="55.25" cy="495.21" r="1.75"/><circle cx="56.73" cy="495.92" r="1.75"/><circle cx="58.20" cy="496.63" r="1.75"/><circle cx="59.67" cy="497.08" r="1.75"/><circle cx="61.15" cy="497.54" r="1.75"/><circle cx="62.62" cy="497.99" r="1.75"/><circle cx="64.10" cy="498.44" r="1.75"/><circle cx="65.58" cy="498.63" r="1.75"/><circle cx="67.05" cy="498.81" r="1.75"/><circle cx="68.53" cy="498.99" r="1.75"/><circle cx="70.00" cy="499.17" r="1.75"/><circle cx="71.47" cy="499.35" r="1.75"/><circle cx="72.95" cy="499.53" r="1.75"/><circle cx="74.42" cy="499.71" r="1.75"/><circle cx="75.90" cy="499.89" r="1.75"/><circle cx="77.38" cy="500.08" r="1.75"/><circle cx="78.85" cy="500.26" r="1.75"/><circle cx="80.32" cy="500.36" r="1.75"/><circle cx="81.80" cy="500.46" r="1.75"/><circle cx="83.28" cy="500.56" r="1.75"/><circle cx="84.75" cy="500.67" r="1.75"/><circle cx="86.22" cy="500.77" r="1.75"/><circle cx="87.70" cy="500.87" r="1.75"/><circle cx="89.17" cy="500.97" r="1.75"/><circle cx="90.65" cy="501.07" r="1.75"/><circle cx="92.12" cy="501.18" r="1.75"/><circle cx="93.60" cy="501.28" r="1.75"/><circle cx="96.55" cy="501.40" r="1.75"/><circle cx="99.50" cy="501.53" r="1.75"/><circle cx="102.45" cy="501.65" r="1.75"/><circle cx="105.40" cy="501.78" r="1.75"/><circle cx="108.35" cy="501.90" r="1.75"/><circle cx="111.30" cy="502.03" r="1.75"/><circle cx="114.25" cy="502.15" r="1.75"/><circle cx="117.20" cy="502.28" r="1.75"/><circle cx="120.15" cy="502.40" r="1.75"/><circle cx="123.10" cy="502.53" r="1.75"/><circle cx="126.05" cy="502.62" r="1.75"/><circle cx="129.00" cy="502.71" r="1.75"/><circle cx="131.95" cy="502.80" r="1.75"/><circle cx="134.90" cy="502.89" r="1.75"/><circle cx="137.85" cy="502.98" r="1.75"/><circle cx="140.80" cy="503.07" r="1.75"/><circle cx="143.75" cy="503.16" r="1.75"/><circle cx="146.70" cy="503.25" r="1.75"/><circle cx="149.65" cy="503.34" r="1.75"/><circle cx="152.60" cy="503.43" r="1.75"/><circle cx="155.55" cy="503.49" r="1.75"/><circle cx="158.50" cy="503.55" r="1.75"/><circle cx="161.45" cy="503.60" r="1.75"/><circle cx="164.40" cy="503.66" r="1.75"/><circle cx="167.35" cy="503.72" r="1.75"/><circle cx="170.30" cy="503.77" r="1.75"/><circle cx="173.25" cy="503.83" r="1.75"/><circle cx="176.20" cy="503.89" r="1.75"/><circle cx="179.15" cy="503.94" r="1.75"/><circle cx="182.10" cy="504.00" r="1.75"/></g>
<path d="M34.60 398.56 L34.84 455.81 L35.48 457.51 L36.96 454.68 L38.73 452.41 L39.62 453.55 L40.50 464.88 L41.98 477.35 L43.45 485.29 L44.92 488.69 L47.88 490.96 L52.30 493.80 L58.20 496.63 L64.10 498.44 L78.85 500.26 L93.60 501.28 L123.10 502.53 L152.60 503.43 L182.10 504.00" fill="none" stroke="#3a3aff" stroke-width="1.50" stroke-linejoin="round" opacity="0.85"/>
<path d="M34.60 406.49 L34.90 449.01 L36.08 445.61 L38.14 441.07 L39.91 434.27 L41.09 443.34 L42.86 456.95 L44.92 467.15 L46.99 472.82 L49.35 478.49 L52.30 483.59 L55.84 486.99 L58.79 486.43 L61.74 484.72 L64.10 484.72 L67.05 485.52 L70.59 487.79 L74.42 487.56 L78.85 485.86 L83.28 485.29 L87.70 485.86 L92.12 484.72 L96.55 485.29 L100.97 486.99 L105.40 489.83 L111.30 492.09 L123.10 495.16 L137.85 496.74 L152.60 497.76 L167.35 498.44 L182.10 498.78" fill="none" stroke="#0a8a0a" stroke-width="1.1" stroke-dasharray="2.7 1.5" stroke-linejoin="round"/>
<rect x="108.00" y="395.70" width="77.00" height="20.20" rx="0.8" fill="#fff" fill-opacity="0.8" stroke="#ccc" stroke-width="0.45"/>
<line x1="110.00" y1="399.54" x2="119.00" y2="399.54" stroke="#f00" stroke-width="1.1"/><circle cx="114.50" cy="399.54" r="1.7" fill="#f00"/>
<line x1="110.00" y1="405.80" x2="119.00" y2="405.80" stroke="#3a3aff" stroke-opacity="0.85" stroke-width="1.60"/>
<line x1="110.00" y1="412.06" x2="119.00" y2="412.06" stroke="#0a8a0a" stroke-width="1.1" stroke-dasharray="2.8 1.6"/>
<text x="122.60" y="401.04" class="lg">Predicted + Error Correction</text>
<text x="122.60" y="407.30" class="lg">True</text>
<text x="122.60" y="413.56" class="lg">Predicted</text>
<rect x="244.70" y="393.50" width="160.00" height="116.30" fill="#fff" stroke="#444" stroke-width="0.5"/>
<line x1="251.60" y1="509.80" x2="251.60" y2="511.80" stroke="#222" stroke-width="0.45"/>
<text x="251.60" y="517.30" class="tk" text-anchor="middle">0</text>
<line x1="281.06" y1="509.80" x2="281.06" y2="511.80" stroke="#222" stroke-width="0.45"/>
<text x="281.06" y="517.30" class="tk" text-anchor="middle">100</text>
<line x1="310.52" y1="509.80" x2="310.52" y2="511.80" stroke="#222" stroke-width="0.45"/>
<text x="310.52" y="517.30" class="tk" text-anchor="middle">200</text>
<line x1="339.98" y1="509.80" x2="339.98" y2="511.80" stroke="#222" stroke-width="0.45"/>
<text x="339.98" y="517.30" class="tk" text-anchor="middle">300</text>
<line x1="369.44" y1="509.80" x2="369.44" y2="511.80" stroke="#222" stroke-width="0.45"/>
<text x="369.44" y="517.30" class="tk" text-anchor="middle">400</text>
<line x1="398.90" y1="509.80" x2="398.90" y2="511.80" stroke="#222" stroke-width="0.45"/>
<text x="398.90" y="517.30" class="tk" text-anchor="middle">500</text>
<line x1="242.70" y1="509.80" x2="244.70" y2="509.80" stroke="#222" stroke-width="0.45"/>
<text x="241.50" y="511.80" class="tk" text-anchor="end">0.0</text>
<line x1="242.70" y1="486.54" x2="244.70" y2="486.54" stroke="#222" stroke-width="0.45"/>
<text x="241.50" y="488.54" class="tk" text-anchor="end">0.2</text>
<line x1="242.70" y1="463.28" x2="244.70" y2="463.28" stroke="#222" stroke-width="0.45"/>
<text x="241.50" y="465.28" class="tk" text-anchor="end">0.4</text>
<line x1="242.70" y1="440.02" x2="244.70" y2="440.02" stroke="#222" stroke-width="0.45"/>
<text x="241.50" y="442.02" class="tk" text-anchor="end">0.6</text>
<line x1="242.70" y1="416.76" x2="244.70" y2="416.76" stroke="#222" stroke-width="0.45"/>
<text x="241.50" y="418.76" class="tk" text-anchor="end">0.8</text>
<line x1="242.70" y1="393.50" x2="244.70" y2="393.50" stroke="#222" stroke-width="0.45"/>
<text x="241.50" y="395.50" class="tk" text-anchor="end">1.0</text>
<text x="324.20" y="391.30" class="ti" text-anchor="middle">Water Cut - Producer 2</text>
<text x="324.30" y="525.20" class="xl" text-anchor="middle">Time (days)</text>
<text transform="translate(229.50 451.65) rotate(-90)" class="xl" text-anchor="middle">Water Cut</text>
<path d="M251.60 509.80 L256.31 509.80 L257.20 506.31 L258.08 480.73 L259.26 451.65 L260.73 431.88 L263.38 426.06 L266.33 420.83 L269.28 416.76 L273.69 411.53 L278.11 407.69 L281.06 406.29 L288.43 404.20 L295.79 402.80 L310.52 400.48 L325.25 399.08 L339.98 398.15 L369.44 396.41 L398.90 395.24" fill="none" stroke="#ff0000" stroke-width="0.9" stroke-linejoin="round"/>
<g fill="#ff0000"><circle cx="251.60" cy="509.80" r="1.75"/><circle cx="253.07" cy="509.80" r="1.75"/><circle cx="254.55" cy="509.80" r="1.75"/><circle cx="256.02" cy="509.80" r="1.75"/><circle cx="256.31" cy="509.80" r="1.75"/><circle cx="256.61" cy="508.64" r="1.75"/><circle cx="256.90" cy="507.47" r="1.75"/><circle cx="257.20" cy="506.31" r="1.75"/><circle cx="257.49" cy="497.78" r="1.75"/><circle cx="257.79" cy="489.25" r="1.75"/><circle cx="258.08" cy="480.73" r="1.75"/><circle cx="258.38" cy="473.46" r="1.75"/><circle cx="258.67" cy="466.19" r="1.75"/><circle cx="258.96" cy="458.92" r="1.75"/><circle cx="259.26" cy="451.65" r="1.75"/><circle cx="259.55" cy="447.70" r="1.75"/><circle cx="259.85" cy="443.74" r="1.75"/><circle cx="260.14" cy="439.79" r="1.75"/><circle cx="260.44" cy="435.83" r="1.75"/><circle cx="260.73" cy="431.88" r="1.75"/><circle cx="261.03" cy="431.23" r="1.75"/><circle cx="261.32" cy="430.59" r="1.75"/><circle cx="261.62" cy="429.94" r="1.75"/><circle cx="261.91" cy="429.29" r="1.75"/><circle cx="262.21" cy="428.65" r="1.75"/><circle cx="262.50" cy="428.00" r="1.75"/><circle cx="262.79" cy="427.36" r="1.75"/><circle cx="263.09" cy="426.71" r="1.75"/><circle cx="263.38" cy="426.06" r="1.75"/><circle cx="264.27" cy="424.49" r="1.75"/><circle cx="265.15" cy="422.92" r="1.75"/><circle cx="266.04" cy="421.35" r="1.75"/><circle cx="266.92" cy="420.02" r="1.75"/><circle cx="267.80" cy="418.80" r="1.75"/><circle cx="268.69" cy="417.57" r="1.75"/><circle cx="269.57" cy="416.41" r="1.75"/><circle cx="270.45" cy="415.36" r="1.75"/><circle cx="271.34" cy="414.32" r="1.75"/><circle cx="272.22" cy="413.27" r="1.75"/><circle cx="273.11" cy="412.22" r="1.75"/><circle cx="273.99" cy="411.27" r="1.75"/><circle cx="274.87" cy="410.50" r="1.75"/><circle cx="275.76" cy="409.74" r="1.75"/><circle cx="276.64" cy="408.97" r="1.75"/><circle cx="277.52" cy="408.20" r="1.75"/><circle cx="278.41" cy="407.55" r="1.75"/><circle cx="279.29" cy="407.13" r="1.75"/><circle cx="280.18" cy="406.71" r="1.75"/><circle cx="281.06" cy="406.29" r="1.75"/><circle cx="282.53" cy="405.87" r="1.75"/><circle cx="284.01" cy="405.46" r="1.75"/><circle cx="285.48" cy="405.04" r="1.75"/><circle cx="286.95" cy="404.62" r="1.75"/><circle cx="288.43" cy="404.20" r="1.75"/><circle cx="289.90" cy="403.92" r="1.75"/><circle cx="291.37" cy="403.64" r="1.75"/><circle cx="292.84" cy="403.36" r="1.75"/><circle cx="294.32" cy="403.08" r="1.75"/><circle cx="295.79" cy="402.80" r="1.75"/><circle cx="297.26" cy="402.57" r="1.75"/><circle cx="298.74" cy="402.34" r="1.75"/><circle cx="300.21" cy="402.11" r="1.75"/><circle cx="301.68" cy="401.87" r="1.75"/><circle cx="303.15" cy="401.64" r="1.75"/><circle cx="304.63" cy="401.41" r="1.75"/><circle cx="306.10" cy="401.18" r="1.75"/><circle cx="307.57" cy="400.94" r="1.75"/><circle cx="309.05" cy="400.71" r="1.75"/><circle cx="310.52" cy="400.48" r="1.75"/><circle cx="313.47" cy="400.20" r="1.75"/><circle cx="316.41" cy="399.92" r="1.75"/><circle cx="319.36" cy="399.64" r="1.75"/><circle cx="322.30" cy="399.36" r="1.75"/><circle cx="325.25" cy="399.08" r="1.75"/><circle cx="328.20" cy="398.90" r="1.75"/><circle cx="331.14" cy="398.71" r="1.75"/><circle cx="334.09" cy="398.52" r="1.75"/><circle cx="337.03" cy="398.34" r="1.75"/><circle cx="339.98" cy="398.15" r="1.75"/><circle cx="342.93" cy="397.98" r="1.75"/><circle cx="345.87" cy="397.80" r="1.75"/><circle cx="348.82" cy="397.63" r="1.75"/><circle cx="351.76" cy="397.45" r="1.75"/><circle cx="354.71" cy="397.28" r="1.75"/><circle cx="357.66" cy="397.11" r="1.75"/><circle cx="360.60" cy="396.93" r="1.75"/><circle cx="363.55" cy="396.76" r="1.75"/><circle cx="366.49" cy="396.58" r="1.75"/><circle cx="369.44" cy="396.41" r="1.75"/><circle cx="372.39" cy="396.29" r="1.75"/><circle cx="375.33" cy="396.17" r="1.75"/><circle cx="378.28" cy="396.06" r="1.75"/><circle cx="381.22" cy="395.94" r="1.75"/><circle cx="384.17" cy="395.83" r="1.75"/><circle cx="387.12" cy="395.71" r="1.75"/><circle cx="390.06" cy="395.59" r="1.75"/><circle cx="393.01" cy="395.48" r="1.75"/><circle cx="395.95" cy="395.36" r="1.75"/><circle cx="398.90" cy="395.24" r="1.75"/></g>
<path d="M251.60 509.80 L256.61 509.80 L257.49 506.31 L258.38 480.73 L259.55 451.65 L261.03 433.04 L263.38 427.23 L266.33 421.99 L269.28 417.92 L273.69 412.69 L278.11 408.62 L281.06 406.87 L288.43 404.55 L295.79 403.04 L310.52 400.71 L325.25 399.32 L339.98 398.15 L369.44 396.41 L398.90 395.24" fill="none" stroke="#3a3aff" stroke-width="1.50" stroke-linejoin="round" opacity="0.85"/>
<path d="M251.60 509.80 L257.49 509.80 L258.67 506.31 L259.85 495.84 L261.62 480.73 L263.97 467.93 L266.33 455.14 L268.69 444.67 L270.75 436.53 L272.81 434.79 L275.17 437.69 L278.11 441.18 L280.47 441.76 L283.42 437.69 L286.36 432.46 L289.31 431.88 L292.25 435.37 L295.79 438.86 L298.74 440.02 L302.27 437.11 L305.22 438.86 L309.05 441.18 L311.99 440.60 L314.94 440.02 L317.88 438.16 L321.71 429.55 L325.25 422.81 L328.79 418.50 L332.62 415.83 L339.98 413.50 L344.40 411.29 L350.29 409.55 L357.66 407.92 L367.97 407.80 L378.28 406.76 L398.90 406.18" fill="none" stroke="#0a8a0a" stroke-width="1.1" stroke-dasharray="2.7 1.5" stroke-linejoin="round"/>
<rect x="325.00" y="418.40" width="77.50" height="20.60" rx="0.8" fill="#fff" fill-opacity="0.8" stroke="#ccc" stroke-width="0.45"/>
<line x1="327.00" y1="422.31" x2="336.00" y2="422.31" stroke="#f00" stroke-width="1.1"/><circle cx="331.50" cy="422.31" r="1.7" fill="#f00"/>
<line x1="327.00" y1="428.70" x2="336.00" y2="428.70" stroke="#3a3aff" stroke-opacity="0.85" stroke-width="1.60"/>
<line x1="327.00" y1="435.09" x2="336.00" y2="435.09" stroke="#0a8a0a" stroke-width="1.1" stroke-dasharray="2.8 1.6"/>
<text x="339.60" y="423.81" class="lg">Predicted + Error Correction</text>
<text x="339.60" y="430.20" class="lg">True</text>
<text x="339.60" y="436.59" class="lg">Predicted</text>
<text x="103.6" y="367.7" class="cap" text-anchor="middle">(<tspan>b</tspan>)</text>
<text x="321.0" y="367.7" class="cap" text-anchor="middle">(<tspan>c</tspan>)</text>
<text x="103.6" y="545.8" class="cap" text-anchor="middle">(<tspan>d</tspan>)</text>
<text x="320.8" y="545.8" class="cap" text-anchor="middle">(<tspan>e</tspan>)</text>
</svg>
</body></html>
